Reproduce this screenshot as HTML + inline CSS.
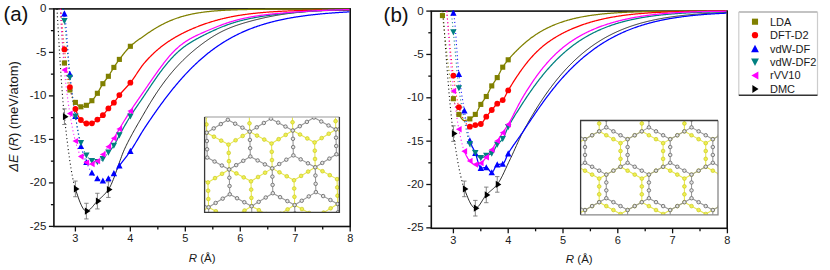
<!DOCTYPE html><html><head><meta charset="utf-8"><style>html,body{margin:0;padding:0;background:#fff;overflow:hidden}svg{display:block}</style></head><body><svg width="830" height="270" viewBox="0 0 830 270" font-family='"Liberation Sans", sans-serif'>
<rect width="830" height="270" fill="#fff"/>
<line x1="48.9" y1="8.9" x2="53.9" y2="8.9" stroke="#111" stroke-width="1.3"/>
<text x="46.3" y="12.4" text-anchor="end" font-size="11.5" fill="#1a1a1a">0</text>
<line x1="48.9" y1="52.4" x2="53.9" y2="52.4" stroke="#111" stroke-width="1.3"/>
<text x="46.3" y="55.9" text-anchor="end" font-size="11.5" fill="#1a1a1a">-5</text>
<line x1="48.9" y1="95.9" x2="53.9" y2="95.9" stroke="#111" stroke-width="1.3"/>
<text x="46.3" y="99.4" text-anchor="end" font-size="11.5" fill="#1a1a1a">-10</text>
<line x1="48.9" y1="139.4" x2="53.9" y2="139.4" stroke="#111" stroke-width="1.3"/>
<text x="46.3" y="142.9" text-anchor="end" font-size="11.5" fill="#1a1a1a">-15</text>
<line x1="48.9" y1="182.9" x2="53.9" y2="182.9" stroke="#111" stroke-width="1.3"/>
<text x="46.3" y="186.4" text-anchor="end" font-size="11.5" fill="#1a1a1a">-20</text>
<line x1="48.9" y1="226.4" x2="53.9" y2="226.4" stroke="#111" stroke-width="1.3"/>
<text x="46.3" y="229.9" text-anchor="end" font-size="11.5" fill="#1a1a1a">-25</text>
<line x1="50.9" y1="30.65" x2="53.9" y2="30.65" stroke="#111" stroke-width="1.3"/>
<line x1="50.9" y1="74.15" x2="53.9" y2="74.15" stroke="#111" stroke-width="1.3"/>
<line x1="50.9" y1="117.65" x2="53.9" y2="117.65" stroke="#111" stroke-width="1.3"/>
<line x1="50.9" y1="161.15" x2="53.9" y2="161.15" stroke="#111" stroke-width="1.3"/>
<line x1="50.9" y1="204.65" x2="53.9" y2="204.65" stroke="#111" stroke-width="1.3"/>
<line x1="75.4" y1="226.5" x2="75.4" y2="231.5" stroke="#111" stroke-width="1.3"/>
<text x="75.4" y="242" text-anchor="middle" font-size="11" fill="#1a1a1a">3</text>
<line x1="130.36" y1="226.5" x2="130.36" y2="231.5" stroke="#111" stroke-width="1.3"/>
<text x="130.36" y="242" text-anchor="middle" font-size="11" fill="#1a1a1a">4</text>
<line x1="185.32" y1="226.5" x2="185.32" y2="231.5" stroke="#111" stroke-width="1.3"/>
<text x="185.32" y="242" text-anchor="middle" font-size="11" fill="#1a1a1a">5</text>
<line x1="240.28" y1="226.5" x2="240.28" y2="231.5" stroke="#111" stroke-width="1.3"/>
<text x="240.28" y="242" text-anchor="middle" font-size="11" fill="#1a1a1a">6</text>
<line x1="295.24" y1="226.5" x2="295.24" y2="231.5" stroke="#111" stroke-width="1.3"/>
<text x="295.24" y="242" text-anchor="middle" font-size="11" fill="#1a1a1a">7</text>
<line x1="350.2" y1="226.5" x2="350.2" y2="231.5" stroke="#111" stroke-width="1.3"/>
<text x="350.2" y="242" text-anchor="middle" font-size="11" fill="#1a1a1a">8</text>
<line x1="102.88" y1="226.5" x2="102.88" y2="229.5" stroke="#111" stroke-width="1.3"/>
<line x1="157.84" y1="226.5" x2="157.84" y2="229.5" stroke="#111" stroke-width="1.3"/>
<line x1="212.8" y1="226.5" x2="212.8" y2="229.5" stroke="#111" stroke-width="1.3"/>
<line x1="267.76" y1="226.5" x2="267.76" y2="229.5" stroke="#111" stroke-width="1.3"/>
<line x1="322.72" y1="226.5" x2="322.72" y2="229.5" stroke="#111" stroke-width="1.3"/>
<rect x="53.9" y="8.9" width="296.3" height="217.6" fill="none" stroke="#111" stroke-width="1.6"/>
<text x="202.05" y="261.5" text-anchor="middle" font-size="11.5" fill="#1a1a1a"><tspan font-style="italic">R</tspan> (Å)</text>
<line x1="426.3" y1="11.1" x2="431.3" y2="11.1" stroke="#111" stroke-width="1.3"/>
<text x="423.7" y="14.6" text-anchor="end" font-size="11.5" fill="#1a1a1a">0</text>
<line x1="426.3" y1="54.45" x2="431.3" y2="54.45" stroke="#111" stroke-width="1.3"/>
<text x="423.7" y="57.95" text-anchor="end" font-size="11.5" fill="#1a1a1a">-5</text>
<line x1="426.3" y1="97.8" x2="431.3" y2="97.8" stroke="#111" stroke-width="1.3"/>
<text x="423.7" y="101.3" text-anchor="end" font-size="11.5" fill="#1a1a1a">-10</text>
<line x1="426.3" y1="141.15" x2="431.3" y2="141.15" stroke="#111" stroke-width="1.3"/>
<text x="423.7" y="144.65" text-anchor="end" font-size="11.5" fill="#1a1a1a">-15</text>
<line x1="426.3" y1="184.5" x2="431.3" y2="184.5" stroke="#111" stroke-width="1.3"/>
<text x="423.7" y="188" text-anchor="end" font-size="11.5" fill="#1a1a1a">-20</text>
<line x1="426.3" y1="227.85" x2="431.3" y2="227.85" stroke="#111" stroke-width="1.3"/>
<text x="423.7" y="231.35" text-anchor="end" font-size="11.5" fill="#1a1a1a">-25</text>
<line x1="428.3" y1="32.77" x2="431.3" y2="32.77" stroke="#111" stroke-width="1.3"/>
<line x1="428.3" y1="76.12" x2="431.3" y2="76.12" stroke="#111" stroke-width="1.3"/>
<line x1="428.3" y1="119.47" x2="431.3" y2="119.47" stroke="#111" stroke-width="1.3"/>
<line x1="428.3" y1="162.82" x2="431.3" y2="162.82" stroke="#111" stroke-width="1.3"/>
<line x1="428.3" y1="206.17" x2="431.3" y2="206.17" stroke="#111" stroke-width="1.3"/>
<line x1="453.4" y1="228.3" x2="453.4" y2="233.3" stroke="#111" stroke-width="1.3"/>
<text x="453.4" y="243.8" text-anchor="middle" font-size="11" fill="#1a1a1a">3</text>
<line x1="508.2" y1="228.3" x2="508.2" y2="233.3" stroke="#111" stroke-width="1.3"/>
<text x="508.2" y="243.8" text-anchor="middle" font-size="11" fill="#1a1a1a">4</text>
<line x1="563" y1="228.3" x2="563" y2="233.3" stroke="#111" stroke-width="1.3"/>
<text x="563" y="243.8" text-anchor="middle" font-size="11" fill="#1a1a1a">5</text>
<line x1="617.8" y1="228.3" x2="617.8" y2="233.3" stroke="#111" stroke-width="1.3"/>
<text x="617.8" y="243.8" text-anchor="middle" font-size="11" fill="#1a1a1a">6</text>
<line x1="672.6" y1="228.3" x2="672.6" y2="233.3" stroke="#111" stroke-width="1.3"/>
<text x="672.6" y="243.8" text-anchor="middle" font-size="11" fill="#1a1a1a">7</text>
<line x1="727.4" y1="228.3" x2="727.4" y2="233.3" stroke="#111" stroke-width="1.3"/>
<text x="727.4" y="243.8" text-anchor="middle" font-size="11" fill="#1a1a1a">8</text>
<line x1="480.8" y1="228.3" x2="480.8" y2="231.3" stroke="#111" stroke-width="1.3"/>
<line x1="535.6" y1="228.3" x2="535.6" y2="231.3" stroke="#111" stroke-width="1.3"/>
<line x1="590.4" y1="228.3" x2="590.4" y2="231.3" stroke="#111" stroke-width="1.3"/>
<line x1="645.2" y1="228.3" x2="645.2" y2="231.3" stroke="#111" stroke-width="1.3"/>
<line x1="700" y1="228.3" x2="700" y2="231.3" stroke="#111" stroke-width="1.3"/>
<rect x="431.3" y="11.1" width="295.9" height="217.2" fill="none" stroke="#111" stroke-width="1.6"/>
<text x="579.25" y="263.3" text-anchor="middle" font-size="11.5" fill="#1a1a1a"><tspan font-style="italic">R</tspan> (Å)</text>
<clipPath id="ca"><rect x="54.7" y="7.9" width="294.7" height="217.8"/></clipPath>
<g clip-path="url(#ca)">
<path d="M75.4,102.4 L76.09,103.21 L76.78,104 L77.47,104.75 L78.15,105.42 L78.84,105.99 L79.53,106.42 L80.22,106.7 L80.91,106.8 L81.6,106.76 L82.29,106.67 L82.98,106.52 L83.66,106.33 L84.35,106.1 L85.04,105.84 L85.73,105.57 L86.42,105.29 L87.11,104.95 L87.8,104.51 L88.49,103.99 L89.17,103.4 L89.86,102.75 L90.55,102.07 L91.24,101.37 L91.93,100.66 L92.62,99.9 L93.31,99.08 L94,98.2 L94.68,97.27 L95.37,96.3 L96.06,95.29 L96.75,94.26 L97.44,93.22 L98.13,92.11 L98.82,90.91 L99.51,89.66 L100.19,88.38 L100.88,87.11 L101.57,85.87 L102.26,84.69 L102.95,83.6 L103.64,82.59 L104.33,81.65 L105.02,80.75 L105.7,79.87 L106.39,78.99 L107.08,78.1 L107.77,77.17 L108.46,76.18 L109.15,75.13 L109.84,74.03 L110.52,72.89 L111.21,71.74 L111.9,70.59 L112.59,69.44 L113.28,68.33 L113.97,67.25 L114.66,66.2 L115.35,65.16 L116.03,64.12 L116.72,63.11 L117.41,62.11 L118.1,61.13 L118.79,60.18 L119.48,59.25 L120.17,58.34 L120.86,57.43 L121.54,56.53 L122.23,55.64 L122.92,54.75 L123.61,53.87 L124.3,53.01 L124.99,52.16 L125.68,51.33 L126.37,50.52 L127.05,49.73 L127.74,48.97 L128.43,48.23 L129.12,47.51 L129.81,46.83 L130.5,46.17 L131.19,45.54 L131.88,44.93 L132.56,44.34 L133.25,43.76 L133.94,43.2 L134.63,42.65 L135.32,42.12 L136.01,41.6 L136.7,41.09 L137.38,40.58 L138.07,40.09 L138.76,39.6 L139.45,39.11 L140.14,38.63 L140.83,38.15 L141.52,37.67 L142.21,37.19 L142.89,36.7 L143.58,36.22 L144.27,35.73 L144.96,35.24 L145.65,34.75 L146.34,34.26 L147.03,33.78 L147.72,33.3 L148.4,32.83 L149.09,32.36 L149.78,31.9 L150.47,31.44 L151.16,30.99 L151.85,30.55 L152.54,30.11 L153.23,29.68 L153.91,29.25 L154.6,28.83 L155.29,28.41 L155.98,27.99 L156.67,27.58 L157.36,27.18 L158.05,26.78 L158.74,26.39 L159.42,26.01 L160.11,25.63 L160.8,25.26 L161.49,24.9 L162.18,24.54 L162.87,24.18 L163.56,23.83 L164.25,23.48 L164.93,23.14 L165.62,22.81 L166.31,22.48 L167,22.16 L167.69,21.85 L168.38,21.54 L169.07,21.24 L169.75,20.94 L170.44,20.65 L171.13,20.36 L171.82,20.08 L172.51,19.81 L173.2,19.53 L173.89,19.27 L174.58,19.01 L175.26,18.75 L175.95,18.51 L176.64,18.26 L177.33,18.03 L178.02,17.8 L178.71,17.57 L179.4,17.35 L180.09,17.13 L180.77,16.92 L181.46,16.71 L182.15,16.5 L182.84,16.3 L183.53,16.11 L184.22,15.92 L184.91,15.74 L185.6,15.56 L186.28,15.38 L186.97,15.21 L187.66,15.04 L188.35,14.88 L189.04,14.72 L189.73,14.56 L190.42,14.41 L191.11,14.26 L191.79,14.11 L192.48,13.97 L193.17,13.84 L193.86,13.7 L194.55,13.57 L195.24,13.45 L195.93,13.32 L196.62,13.2 L197.3,13.09 L197.99,12.97 L198.68,12.86 L199.37,12.75 L200.06,12.64 L200.75,12.54 L201.44,12.44 L202.12,12.34 L202.81,12.25 L203.5,12.16 L204.19,12.07 L204.88,11.98 L205.57,11.9 L206.26,11.81 L206.95,11.73 L207.63,11.66 L208.32,11.58 L209.01,11.51 L209.7,11.43 L210.39,11.37 L211.08,11.3 L211.77,11.23 L212.46,11.17 L213.14,11.11 L213.83,11.05 L214.52,10.99 L215.21,10.93 L215.9,10.87 L216.59,10.82 L217.28,10.77 L217.97,10.72 L218.65,10.67 L219.34,10.62 L220.03,10.57 L220.72,10.53 L221.41,10.48 L222.1,10.44 L222.79,10.4 L223.48,10.36 L224.16,10.32 L224.85,10.28 L225.54,10.25 L226.23,10.21 L226.92,10.18 L227.61,10.14 L228.3,10.11 L228.98,10.08 L229.67,10.05 L230.36,10.02 L231.05,9.99 L231.74,9.96 L232.43,9.93 L233.12,9.9 L233.81,9.88 L234.49,9.85 L235.18,9.83 L235.87,9.81 L236.56,9.78 L237.25,9.76 L237.94,9.74 L238.63,9.72 L239.32,9.7 L240,9.68 L240.69,9.66 L241.38,9.64 L242.07,9.62 L242.76,9.6 L243.45,9.59 L244.14,9.57 L244.83,9.56 L245.51,9.54 L246.2,9.52 L246.89,9.51 L247.58,9.5 L248.27,9.48 L248.96,9.47 L249.65,9.46 L250.34,9.44 L251.02,9.43 L251.71,9.42 L252.4,9.41 L253.09,9.4 L253.78,9.39 L254.47,9.37 L255.16,9.36 L255.85,9.35 L256.53,9.34 L257.22,9.33 L257.91,9.33 L258.6,9.32 L259.29,9.31 L259.98,9.3 L260.67,9.29 L261.35,9.28 L262.04,9.28 L262.73,9.27 L263.42,9.26 L264.11,9.25 L264.8,9.25 L265.49,9.24 L266.18,9.24 L266.86,9.23 L267.55,9.22 L268.24,9.22 L268.93,9.21 L269.62,9.21 L270.31,9.2 L271,9.2 L271.69,9.19 L272.37,9.19 L273.06,9.18 L273.75,9.18 L274.44,9.17 L275.13,9.17 L275.82,9.16 L276.51,9.16 L277.2,9.16 L277.88,9.15 L278.57,9.15 L279.26,9.14 L279.95,9.14 L280.64,9.14 L281.33,9.13 L282.02,9.13 L282.71,9.13 L283.39,9.13 L284.08,9.12 L284.77,9.12 L285.46,9.12 L286.15,9.11 L286.84,9.11 L287.53,9.11 L288.22,9.11 L288.9,9.11 L289.59,9.1 L290.28,9.1 L290.97,9.1 L291.66,9.1 L292.35,9.1 L293.04,9.09 L293.72,9.09 L294.41,9.09 L295.1,9.09 L295.79,9.09 L296.48,9.09 L297.17,9.08 L297.86,9.08 L298.55,9.08 L299.23,9.08 L299.92,9.08 L300.61,9.08 L301.3,9.08 L301.99,9.08 L302.68,9.08 L303.37,9.08 L304.06,9.08 L304.74,9.07 L305.43,9.07 L306.12,9.07 L306.81,9.07 L307.5,9.07 L308.19,9.07 L308.88,9.07 L309.57,9.07 L310.25,9.07 L310.94,9.07 L311.63,9.07 L312.32,9.07 L313.01,9.07 L313.7,9.07 L314.39,9.07 L315.08,9.07 L315.76,9.07 L316.45,9.07 L317.14,9.08 L317.83,9.08 L318.52,9.08 L319.21,9.08 L319.9,9.08 L320.58,9.08 L321.27,9.08 L321.96,9.08 L322.65,9.08 L323.34,9.08 L324.03,9.08 L324.72,9.09 L325.41,9.09 L326.09,9.09 L326.78,9.09 L327.47,9.09 L328.16,9.09 L328.85,9.1 L329.54,9.1 L330.23,9.1 L330.92,9.1 L331.6,9.11 L332.29,9.11 L332.98,9.11 L333.67,9.11 L334.36,9.12 L335.05,9.12 L335.74,9.12 L336.43,9.13 L337.11,9.13 L337.8,9.13 L338.49,9.14 L339.18,9.14 L339.87,9.15 L340.56,9.15 L341.25,9.15 L341.94,9.16 L342.62,9.16 L343.31,9.17 L344,9.18 L344.69,9.18 L345.38,9.19 L346.07,9.19 L346.76,9.2 L347.45,9.21 L348.13,9.21 L348.82,9.22 L349.51,9.23 L350.2,9.24" fill="none" stroke="#808000" stroke-width="1.25"/>
<path d="M60.29,8.9 L60.41,11.01 L60.54,13.11 L60.67,15.19 L60.79,17.26 L60.92,19.32 L61.05,21.35 L61.18,23.37 L61.3,25.36 L61.43,27.34 L61.56,29.28 L61.68,31.21 L61.81,33.1 L61.94,34.96 L62.06,36.8 L62.19,38.6 L62.32,40.36 L62.45,42.09 L62.57,43.79 L62.7,45.44 L62.83,47.05 L62.95,48.62 L63.08,50.14 L63.21,51.62 L63.33,53.05 L63.46,54.43 L63.59,55.76 L63.72,57.04 L63.84,58.26 L63.97,59.43 L64.1,60.53 L64.22,61.58 L64.35,62.57 L64.48,63.5 L64.6,64.41 L64.73,65.31 L64.86,66.18 L64.99,67.04 L65.11,67.89 L65.24,68.71 L65.37,69.52 L65.49,70.32 L65.62,71.1 L65.75,71.86 L65.87,72.61 L66,73.35 L66.13,74.07 L66.26,74.78 L66.38,75.47 L66.51,76.15 L66.64,76.81 L66.76,77.46 L66.89,78.1 L67.02,78.73 L67.14,79.34 L67.27,79.94 L67.4,80.53 L67.53,81.11 L67.65,81.67 L67.78,82.23 L67.91,82.77 L68.03,83.3 L68.16,83.82 L68.29,84.33 L68.41,84.83 L68.54,85.32 L68.67,85.8 L68.8,86.27 L68.92,86.73 L69.05,87.18 L69.18,87.62 L69.3,88.06 L69.43,88.48 L69.56,88.9 L69.68,89.31 L69.81,89.71 L69.94,90.11 L70.07,90.5 L70.19,90.88 L70.32,91.27 L70.45,91.64 L70.57,92.02 L70.7,92.39 L70.83,92.76 L70.95,93.12 L71.08,93.48 L71.21,93.83 L71.34,94.18 L71.46,94.53 L71.59,94.87 L71.72,95.2 L71.84,95.53 L71.97,95.86 L72.1,96.18 L72.22,96.49 L72.35,96.8 L72.48,97.11 L72.61,97.41 L72.73,97.7 L72.86,97.99 L72.99,98.27 L73.11,98.54 L73.24,98.81 L73.37,99.08 L73.49,99.34 L73.62,99.59 L73.75,99.83 L73.88,100.07 L74,100.3 L74.13,100.53 L74.26,100.75 L74.38,100.96 L74.51,101.17 L74.64,101.36 L74.76,101.56 L74.89,101.74 L75.02,101.92 L75.15,102.08 L75.27,102.25 L75.4,102.4" fill="none" stroke="#808000" stroke-width="1.1" stroke-dasharray="1.1 2.6" opacity="0.9"/>
<path d="M75.4,109 L76.09,110.81 L76.78,112.54 L77.47,114.17 L78.15,115.68 L78.84,117.04 L79.53,118.24 L80.22,119.23 L80.91,120.01 L81.6,120.67 L82.29,121.31 L82.98,121.9 L83.66,122.43 L84.35,122.87 L85.04,123.21 L85.73,123.43 L86.42,123.5 L87.11,123.5 L87.8,123.49 L88.49,123.47 L89.17,123.45 L89.86,123.42 L90.55,123.38 L91.24,123.34 L91.93,123.3 L92.62,123.15 L93.31,122.83 L94,122.39 L94.68,121.87 L95.37,121.28 L96.06,120.68 L96.75,120.09 L97.44,119.56 L98.13,119.06 L98.82,118.55 L99.51,118.04 L100.19,117.52 L100.88,116.97 L101.57,116.39 L102.26,115.78 L102.95,115.13 L103.64,114.4 L104.33,113.59 L105.02,112.71 L105.7,111.81 L106.39,110.89 L107.08,109.98 L107.77,109.11 L108.46,108.31 L109.15,107.56 L109.84,106.86 L110.52,106.17 L111.21,105.5 L111.9,104.82 L112.59,104.12 L113.28,103.38 L113.97,102.58 L114.66,101.72 L115.35,100.78 L116.03,99.8 L116.72,98.8 L117.41,97.79 L118.1,96.8 L118.79,95.85 L119.48,94.96 L120.17,94.12 L120.86,93.3 L121.54,92.51 L122.23,91.73 L122.92,90.98 L123.61,90.23 L124.3,89.49 L124.99,88.76 L125.68,88.02 L126.37,87.28 L127.05,86.53 L127.74,85.77 L128.43,85 L129.12,84.2 L129.81,83.38 L130.5,82.53 L131.19,81.64 L131.88,80.73 L132.56,79.78 L133.25,78.81 L133.94,77.82 L134.63,76.81 L135.32,75.79 L136.01,74.76 L136.7,73.73 L137.38,72.69 L138.07,71.66 L138.76,70.63 L139.45,69.61 L140.14,68.61 L140.83,67.62 L141.52,66.66 L142.21,65.72 L142.89,64.82 L143.58,63.94 L144.27,63.11 L144.96,62.29 L145.65,61.5 L146.34,60.72 L147.03,59.96 L147.72,59.22 L148.4,58.49 L149.09,57.77 L149.78,57.07 L150.47,56.37 L151.16,55.69 L151.85,55.02 L152.54,54.35 L153.23,53.69 L153.91,53.05 L154.6,52.41 L155.29,51.78 L155.98,51.16 L156.67,50.56 L157.36,49.96 L158.05,49.37 L158.74,48.79 L159.42,48.22 L160.11,47.66 L160.8,47.11 L161.49,46.57 L162.18,46.03 L162.87,45.51 L163.56,44.99 L164.25,44.48 L164.93,43.98 L165.62,43.49 L166.31,43.01 L167,42.53 L167.69,42.06 L168.38,41.59 L169.07,41.13 L169.75,40.68 L170.44,40.24 L171.13,39.8 L171.82,39.37 L172.51,38.94 L173.2,38.52 L173.89,38.11 L174.58,37.7 L175.26,37.29 L175.95,36.9 L176.64,36.5 L177.33,36.12 L178.02,35.74 L178.71,35.36 L179.4,34.99 L180.09,34.62 L180.77,34.25 L181.46,33.9 L182.15,33.54 L182.84,33.19 L183.53,32.85 L184.22,32.51 L184.91,32.17 L185.6,31.84 L186.28,31.51 L186.97,31.18 L187.66,30.86 L188.35,30.55 L189.04,30.23 L189.73,29.92 L190.42,29.62 L191.11,29.31 L191.79,29.02 L192.48,28.72 L193.17,28.43 L193.86,28.14 L194.55,27.85 L195.24,27.57 L195.93,27.29 L196.62,27.01 L197.3,26.74 L197.99,26.47 L198.68,26.2 L199.37,25.94 L200.06,25.68 L200.75,25.42 L201.44,25.16 L202.12,24.91 L202.81,24.66 L203.5,24.42 L204.19,24.17 L204.88,23.93 L205.57,23.69 L206.26,23.46 L206.95,23.23 L207.63,23 L208.32,22.77 L209.01,22.55 L209.7,22.33 L210.39,22.11 L211.08,21.9 L211.77,21.68 L212.46,21.48 L213.14,21.27 L213.83,21.07 L214.52,20.86 L215.21,20.67 L215.9,20.47 L216.59,20.28 L217.28,20.09 L217.97,19.9 L218.65,19.72 L219.34,19.54 L220.03,19.36 L220.72,19.19 L221.41,19.01 L222.1,18.84 L222.79,18.67 L223.48,18.51 L224.16,18.35 L224.85,18.19 L225.54,18.03 L226.23,17.87 L226.92,17.72 L227.61,17.57 L228.3,17.42 L228.98,17.28 L229.67,17.13 L230.36,16.99 L231.05,16.85 L231.74,16.72 L232.43,16.58 L233.12,16.45 L233.81,16.32 L234.49,16.2 L235.18,16.07 L235.87,15.95 L236.56,15.83 L237.25,15.71 L237.94,15.59 L238.63,15.48 L239.32,15.36 L240,15.25 L240.69,15.14 L241.38,15.04 L242.07,14.93 L242.76,14.83 L243.45,14.73 L244.14,14.63 L244.83,14.53 L245.51,14.44 L246.2,14.34 L246.89,14.25 L247.58,14.16 L248.27,14.07 L248.96,13.98 L249.65,13.89 L250.34,13.81 L251.02,13.73 L251.71,13.64 L252.4,13.57 L253.09,13.49 L253.78,13.41 L254.47,13.33 L255.16,13.26 L255.85,13.19 L256.53,13.12 L257.22,13.04 L257.91,12.98 L258.6,12.91 L259.29,12.84 L259.98,12.78 L260.67,12.71 L261.35,12.65 L262.04,12.59 L262.73,12.53 L263.42,12.47 L264.11,12.41 L264.8,12.36 L265.49,12.3 L266.18,12.25 L266.86,12.19 L267.55,12.14 L268.24,12.09 L268.93,12.04 L269.62,11.99 L270.31,11.94 L271,11.89 L271.69,11.85 L272.37,11.8 L273.06,11.76 L273.75,11.71 L274.44,11.67 L275.13,11.63 L275.82,11.59 L276.51,11.54 L277.2,11.51 L277.88,11.47 L278.57,11.43 L279.26,11.39 L279.95,11.35 L280.64,11.32 L281.33,11.28 L282.02,11.25 L282.71,11.21 L283.39,11.18 L284.08,11.15 L284.77,11.12 L285.46,11.09 L286.15,11.06 L286.84,11.03 L287.53,11 L288.22,10.97 L288.9,10.94 L289.59,10.91 L290.28,10.88 L290.97,10.86 L291.66,10.83 L292.35,10.81 L293.04,10.78 L293.72,10.76 L294.41,10.73 L295.1,10.71 L295.79,10.69 L296.48,10.67 L297.17,10.64 L297.86,10.62 L298.55,10.6 L299.23,10.58 L299.92,10.56 L300.61,10.54 L301.3,10.52 L301.99,10.5 L302.68,10.48 L303.37,10.47 L304.06,10.45 L304.74,10.43 L305.43,10.41 L306.12,10.4 L306.81,10.38 L307.5,10.37 L308.19,10.35 L308.88,10.34 L309.57,10.32 L310.25,10.31 L310.94,10.29 L311.63,10.28 L312.32,10.27 L313.01,10.25 L313.7,10.24 L314.39,10.23 L315.08,10.22 L315.76,10.2 L316.45,10.19 L317.14,10.18 L317.83,10.17 L318.52,10.16 L319.21,10.15 L319.9,10.14 L320.58,10.13 L321.27,10.12 L321.96,10.11 L322.65,10.1 L323.34,10.09 L324.03,10.08 L324.72,10.08 L325.41,10.07 L326.09,10.06 L326.78,10.05 L327.47,10.05 L328.16,10.04 L328.85,10.03 L329.54,10.02 L330.23,10.02 L330.92,10.01 L331.6,10.01 L332.29,10 L332.98,10 L333.67,9.99 L334.36,9.99 L335.05,9.98 L335.74,9.98 L336.43,9.97 L337.11,9.97 L337.8,9.96 L338.49,9.96 L339.18,9.96 L339.87,9.95 L340.56,9.95 L341.25,9.95 L341.94,9.94 L342.62,9.94 L343.31,9.94 L344,9.94 L344.69,9.94 L345.38,9.93 L346.07,9.93 L346.76,9.93 L347.45,9.93 L348.13,9.93 L348.82,9.93 L349.51,9.93 L350.2,9.93" fill="none" stroke="#ff0000" stroke-width="1.25"/>
<path d="M60.84,8.9 L60.96,10.5 L61.08,12.09 L61.2,13.67 L61.33,15.25 L61.45,16.81 L61.57,18.36 L61.69,19.9 L61.81,21.42 L61.94,22.94 L62.06,24.44 L62.18,25.92 L62.3,27.39 L62.43,28.84 L62.55,30.27 L62.67,31.69 L62.79,33.09 L62.92,34.46 L63.04,35.82 L63.16,37.16 L63.28,38.47 L63.41,39.76 L63.53,41.03 L63.65,42.28 L63.77,43.5 L63.9,44.69 L64.02,45.86 L64.14,47 L64.26,48.11 L64.38,49.2 L64.51,50.26 L64.63,51.31 L64.75,52.35 L64.87,53.38 L65,54.41 L65.12,55.42 L65.24,56.42 L65.36,57.41 L65.49,58.39 L65.61,59.36 L65.73,60.32 L65.85,61.27 L65.98,62.21 L66.1,63.14 L66.22,64.06 L66.34,64.97 L66.47,65.87 L66.59,66.76 L66.71,67.64 L66.83,68.51 L66.96,69.37 L67.08,70.22 L67.2,71.06 L67.32,71.89 L67.44,72.71 L67.57,73.52 L67.69,74.32 L67.81,75.12 L67.93,75.9 L68.06,76.67 L68.18,77.43 L68.3,78.18 L68.42,78.92 L68.55,79.65 L68.67,80.37 L68.79,81.08 L68.91,81.78 L69.04,82.48 L69.16,83.16 L69.28,83.83 L69.4,84.49 L69.53,85.14 L69.65,85.79 L69.77,86.42 L69.89,87.04 L70.01,87.66 L70.14,88.27 L70.26,88.87 L70.38,89.48 L70.5,90.07 L70.63,90.67 L70.75,91.25 L70.87,91.83 L70.99,92.41 L71.12,92.98 L71.24,93.55 L71.36,94.11 L71.48,94.67 L71.61,95.22 L71.73,95.76 L71.85,96.3 L71.97,96.84 L72.1,97.36 L72.22,97.88 L72.34,98.4 L72.46,98.91 L72.59,99.41 L72.71,99.91 L72.83,100.4 L72.95,100.88 L73.07,101.36 L73.2,101.82 L73.32,102.29 L73.44,102.74 L73.56,103.19 L73.69,103.63 L73.81,104.07 L73.93,104.49 L74.05,104.91 L74.18,105.32 L74.3,105.73 L74.42,106.12 L74.54,106.51 L74.67,106.89 L74.79,107.26 L74.91,107.63 L75.03,107.98 L75.16,108.33 L75.28,108.67 L75.4,109" fill="none" stroke="#ff0000" stroke-width="1.1" stroke-dasharray="1.1 2.6" opacity="0.9"/>
<path d="M75.4,188.9 L76.09,191.02 L76.78,193.11 L77.47,195.17 L78.15,197.16 L78.84,199.09 L79.53,200.93 L80.22,202.66 L80.91,204.28 L81.6,205.76 L82.29,207.09 L82.98,208.26 L83.66,209.25 L84.35,210.04 L85.04,210.63 L85.73,210.98 L86.42,211.1 L87.11,211.02 L87.8,210.8 L88.49,210.46 L89.17,210.01 L89.86,209.47 L90.55,208.84 L91.24,208.14 L91.93,207.39 L92.62,206.6 L93.31,205.78 L94,204.94 L94.68,204.11 L95.37,203.29 L96.06,202.5 L96.75,201.74 L97.44,201.05 L98.13,200.39 L98.82,199.74 L99.51,199.11 L100.19,198.48 L100.88,197.85 L101.57,197.22 L102.26,196.58 L102.95,195.92 L103.64,195.24 L104.33,194.53 L105.02,193.8 L105.7,193.03 L106.39,192.21 L107.08,191.36 L107.77,190.45 L108.46,189.48 L109.15,188.41 L109.84,187.2 L110.52,185.87 L111.21,184.44 L111.9,182.9 L112.59,181.27 L113.28,179.56 L113.97,177.78 L114.66,175.94 L115.35,174.05 L116.03,172.12 L116.72,170.16 L117.41,168.19 L118.1,166.2 L118.79,164.22 L119.48,162.24 L120.17,160.29 L120.86,158.38 L121.54,156.5 L122.23,154.68 L122.92,152.92 L123.61,151.24 L124.3,149.63 L124.99,148.13 L125.68,146.68 L126.37,145.26 L127.05,143.86 L127.74,142.49 L128.43,141.13 L129.12,139.79 L129.81,138.47 L130.5,137.17 L131.19,135.88 L131.88,134.61 L132.56,133.35 L133.25,132.11 L133.94,130.88 L134.63,129.65 L135.32,128.44 L136.01,127.23 L136.7,126.03 L137.38,124.84 L138.07,123.65 L138.76,122.47 L139.45,121.29 L140.14,120.11 L140.83,118.93 L141.52,117.75 L142.21,116.56 L142.89,115.38 L143.58,114.19 L144.27,112.99 L144.96,111.8 L145.65,110.61 L146.34,109.43 L147.03,108.25 L147.72,107.09 L148.4,105.92 L149.09,104.77 L149.78,103.63 L150.47,102.5 L151.16,101.38 L151.85,100.27 L152.54,99.17 L153.23,98.08 L153.91,97 L154.6,95.93 L155.29,94.87 L155.98,93.82 L156.67,92.77 L157.36,91.74 L158.05,90.72 L158.74,89.71 L159.42,88.7 L160.11,87.72 L160.8,86.74 L161.49,85.77 L162.18,84.81 L162.87,83.86 L163.56,82.92 L164.25,81.99 L164.93,81.07 L165.62,80.16 L166.31,79.25 L167,78.36 L167.69,77.48 L168.38,76.61 L169.07,75.76 L169.75,74.91 L170.44,74.07 L171.13,73.24 L171.82,72.42 L172.51,71.61 L173.2,70.8 L173.89,70.01 L174.58,69.22 L175.26,68.45 L175.95,67.68 L176.64,66.92 L177.33,66.18 L178.02,65.44 L178.71,64.7 L179.4,63.98 L180.09,63.27 L180.77,62.56 L181.46,61.86 L182.15,61.17 L182.84,60.48 L183.53,59.81 L184.22,59.14 L184.91,58.47 L185.6,57.82 L186.28,57.17 L186.97,56.53 L187.66,55.89 L188.35,55.26 L189.04,54.64 L189.73,54.02 L190.42,53.41 L191.11,52.81 L191.79,52.21 L192.48,51.62 L193.17,51.04 L193.86,50.46 L194.55,49.88 L195.24,49.31 L195.93,48.75 L196.62,48.19 L197.3,47.64 L197.99,47.1 L198.68,46.56 L199.37,46.02 L200.06,45.49 L200.75,44.97 L201.44,44.45 L202.12,43.93 L202.81,43.42 L203.5,42.92 L204.19,42.42 L204.88,41.92 L205.57,41.43 L206.26,40.94 L206.95,40.46 L207.63,39.99 L208.32,39.52 L209.01,39.06 L209.7,38.6 L210.39,38.16 L211.08,37.71 L211.77,37.27 L212.46,36.84 L213.14,36.41 L213.83,35.98 L214.52,35.57 L215.21,35.15 L215.9,34.75 L216.59,34.35 L217.28,33.96 L217.97,33.57 L218.65,33.2 L219.34,32.83 L220.03,32.46 L220.72,32.1 L221.41,31.75 L222.1,31.4 L222.79,31.06 L223.48,30.72 L224.16,30.39 L224.85,30.07 L225.54,29.75 L226.23,29.44 L226.92,29.13 L227.61,28.83 L228.3,28.54 L228.98,28.25 L229.67,27.97 L230.36,27.69 L231.05,27.42 L231.74,27.15 L232.43,26.88 L233.12,26.62 L233.81,26.36 L234.49,26.11 L235.18,25.86 L235.87,25.62 L236.56,25.38 L237.25,25.15 L237.94,24.91 L238.63,24.69 L239.32,24.46 L240,24.24 L240.69,24.02 L241.38,23.8 L242.07,23.59 L242.76,23.38 L243.45,23.17 L244.14,22.96 L244.83,22.76 L245.51,22.56 L246.2,22.36 L246.89,22.16 L247.58,21.96 L248.27,21.77 L248.96,21.58 L249.65,21.39 L250.34,21.21 L251.02,21.02 L251.71,20.84 L252.4,20.66 L253.09,20.48 L253.78,20.3 L254.47,20.12 L255.16,19.94 L255.85,19.77 L256.53,19.6 L257.22,19.43 L257.91,19.26 L258.6,19.1 L259.29,18.93 L259.98,18.77 L260.67,18.61 L261.35,18.45 L262.04,18.29 L262.73,18.14 L263.42,17.98 L264.11,17.83 L264.8,17.68 L265.49,17.53 L266.18,17.38 L266.86,17.23 L267.55,17.09 L268.24,16.95 L268.93,16.81 L269.62,16.67 L270.31,16.53 L271,16.39 L271.69,16.26 L272.37,16.13 L273.06,16 L273.75,15.87 L274.44,15.74 L275.13,15.61 L275.82,15.49 L276.51,15.37 L277.2,15.25 L277.88,15.13 L278.57,15.01 L279.26,14.9 L279.95,14.78 L280.64,14.67 L281.33,14.56 L282.02,14.45 L282.71,14.34 L283.39,14.24 L284.08,14.14 L284.77,14.04 L285.46,13.94 L286.15,13.84 L286.84,13.75 L287.53,13.65 L288.22,13.56 L288.9,13.47 L289.59,13.38 L290.28,13.29 L290.97,13.2 L291.66,13.12 L292.35,13.04 L293.04,12.96 L293.72,12.88 L294.41,12.8 L295.1,12.73 L295.79,12.65 L296.48,12.58 L297.17,12.51 L297.86,12.44 L298.55,12.37 L299.23,12.3 L299.92,12.24 L300.61,12.18 L301.3,12.11 L301.99,12.05 L302.68,11.99 L303.37,11.94 L304.06,11.88 L304.74,11.82 L305.43,11.77 L306.12,11.71 L306.81,11.66 L307.5,11.61 L308.19,11.56 L308.88,11.51 L309.57,11.47 L310.25,11.42 L310.94,11.38 L311.63,11.33 L312.32,11.29 L313.01,11.25 L313.7,11.21 L314.39,11.17 L315.08,11.13 L315.76,11.09 L316.45,11.05 L317.14,11.02 L317.83,10.98 L318.52,10.95 L319.21,10.92 L319.9,10.88 L320.58,10.85 L321.27,10.82 L321.96,10.79 L322.65,10.76 L323.34,10.73 L324.03,10.71 L324.72,10.68 L325.41,10.65 L326.09,10.63 L326.78,10.6 L327.47,10.58 L328.16,10.56 L328.85,10.53 L329.54,10.51 L330.23,10.49 L330.92,10.47 L331.6,10.45 L332.29,10.43 L332.98,10.41 L333.67,10.39 L334.36,10.38 L335.05,10.36 L335.74,10.34 L336.43,10.33 L337.11,10.31 L337.8,10.3 L338.49,10.28 L339.18,10.27 L339.87,10.26 L340.56,10.24 L341.25,10.23 L341.94,10.22 L342.62,10.21 L343.31,10.2 L344,10.19 L344.69,10.18 L345.38,10.17 L346.07,10.16 L346.76,10.15 L347.45,10.14 L348.13,10.13 L348.82,10.13 L349.51,10.12 L350.2,10.12" fill="none" stroke="#000000" stroke-width="0.85"/>
<path d="M56.99,8.9 L57.14,11.64 L57.3,14.37 L57.45,17.1 L57.61,19.81 L57.76,22.51 L57.92,25.2 L58.07,27.88 L58.23,30.54 L58.38,33.19 L58.54,35.83 L58.69,38.45 L58.85,41.05 L59,43.64 L59.15,46.21 L59.31,48.76 L59.46,51.29 L59.62,53.79 L59.77,56.28 L59.93,58.74 L60.08,61.19 L60.24,63.6 L60.39,66 L60.55,68.36 L60.7,70.7 L60.86,73.01 L61.01,75.3 L61.17,77.55 L61.32,79.78 L61.48,81.98 L61.63,84.14 L61.78,86.27 L61.94,88.37 L62.09,90.43 L62.25,92.46 L62.4,94.46 L62.56,96.41 L62.71,98.34 L62.87,100.22 L63.02,102.06 L63.18,103.86 L63.33,105.63 L63.49,107.35 L63.64,109.03 L63.8,110.67 L63.95,112.26 L64.11,113.81 L64.26,115.31 L64.41,116.76 L64.57,118.19 L64.72,119.62 L64.88,121.03 L65.03,122.43 L65.19,123.83 L65.34,125.21 L65.5,126.59 L65.65,127.96 L65.81,129.32 L65.96,130.66 L66.12,132 L66.27,133.33 L66.43,134.65 L66.58,135.96 L66.74,137.25 L66.89,138.54 L67.05,139.82 L67.2,141.08 L67.35,142.34 L67.51,143.58 L67.66,144.81 L67.82,146.03 L67.97,147.24 L68.13,148.44 L68.28,149.62 L68.44,150.8 L68.59,151.96 L68.75,153.11 L68.9,154.24 L69.06,155.37 L69.21,156.48 L69.37,157.58 L69.52,158.66 L69.68,159.74 L69.83,160.8 L69.98,161.84 L70.14,162.87 L70.29,163.89 L70.45,164.9 L70.6,165.89 L70.76,166.86 L70.91,167.83 L71.07,168.78 L71.22,169.71 L71.38,170.63 L71.53,171.53 L71.69,172.42 L71.84,173.3 L72,174.15 L72.15,175 L72.31,175.83 L72.46,176.64 L72.62,177.43 L72.77,178.21 L72.92,178.98 L73.08,179.73 L73.23,180.46 L73.39,181.17 L73.54,181.87 L73.7,182.55 L73.85,183.22 L74.01,183.87 L74.16,184.5 L74.32,185.11 L74.47,185.7 L74.63,186.28 L74.78,186.84 L74.94,187.38 L75.09,187.91 L75.25,188.41 L75.4,188.9" fill="none" stroke="#000000" stroke-width="1.1" stroke-dasharray="1.1 2.6" opacity="0.9"/>
<path d="M116.62,169.62 L117.21,168.75 L117.79,167.87 L118.38,167.01 L118.96,166.16 L119.55,165.36 L120.13,164.57 L120.72,163.79 L121.3,163.03 L121.89,162.27 L122.47,161.51 L123.06,160.77 L123.64,160.02 L124.23,159.28 L124.82,158.53 L125.4,157.78 L125.99,157.03 L126.57,156.27 L127.16,155.51 L127.74,154.73 L128.33,153.94 L128.91,153.14 L129.5,152.33 L130.08,151.5 L130.67,150.65 L131.26,149.78 L131.84,148.89 L132.43,147.98 L133.01,147.06 L133.6,146.13 L134.18,145.18 L134.77,144.22 L135.35,143.26 L135.94,142.28 L136.52,141.3 L137.11,140.32 L137.69,139.33 L138.28,138.34 L138.87,137.35 L139.45,136.37 L140.04,135.38 L140.62,134.41 L141.21,133.44 L141.79,132.48 L142.38,131.53 L142.96,130.59 L143.55,129.66 L144.13,128.75 L144.72,127.85 L145.31,126.95 L145.89,126.07 L146.48,125.18 L147.06,124.31 L147.65,123.43 L148.23,122.57 L148.82,121.7 L149.4,120.84 L149.99,119.99 L150.57,119.13 L151.16,118.28 L151.74,117.43 L152.33,116.58 L152.92,115.73 L153.5,114.89 L154.09,114.05 L154.67,113.21 L155.26,112.37 L155.84,111.53 L156.43,110.7 L157.01,109.88 L157.6,109.05 L158.18,108.23 L158.77,107.41 L159.36,106.6 L159.94,105.79 L160.53,104.98 L161.11,104.18 L161.7,103.38 L162.28,102.59 L162.87,101.8 L163.45,101.01 L164.04,100.22 L164.62,99.44 L165.21,98.66 L165.79,97.89 L166.38,97.12 L166.97,96.35 L167.55,95.59 L168.14,94.84 L168.72,94.08 L169.31,93.34 L169.89,92.59 L170.48,91.85 L171.06,91.11 L171.65,90.38 L172.23,89.65 L172.82,88.93 L173.41,88.21 L173.99,87.49 L174.58,86.78 L175.16,86.07 L175.75,85.36 L176.33,84.66 L176.92,83.97 L177.5,83.28 L178.09,82.6 L178.67,81.91 L179.26,81.24 L179.84,80.56 L180.43,79.89 L181.02,79.23 L181.6,78.57 L182.19,77.91 L182.77,77.26 L183.36,76.61 L183.94,75.97 L184.53,75.33 L185.11,74.69 L185.7,74.07 L186.28,73.44 L186.87,72.82 L187.46,72.2 L188.04,71.59 L188.63,70.98 L189.21,70.38 L189.8,69.78 L190.38,69.18 L190.97,68.59 L191.55,68 L192.14,67.42 L192.72,66.84 L193.31,66.27 L193.89,65.7 L194.48,65.14 L195.07,64.58 L195.65,64.02 L196.24,63.47 L196.82,62.93 L197.41,62.38 L197.99,61.84 L198.58,61.31 L199.16,60.78 L199.75,60.25 L200.33,59.73 L200.92,59.21 L201.5,58.7 L202.09,58.19 L202.68,57.69 L203.26,57.19 L203.85,56.69 L204.43,56.2 L205.02,55.71 L205.6,55.22 L206.19,54.74 L206.77,54.27 L207.36,53.79 L207.94,53.33 L208.53,52.86 L209.12,52.4 L209.7,51.95 L210.29,51.5 L210.87,51.05 L211.46,50.6 L212.04,50.16 L212.63,49.73 L213.21,49.3 L213.8,48.87 L214.38,48.44 L214.97,48.02 L215.55,47.6 L216.14,47.19 L216.73,46.78 L217.31,46.37 L217.9,45.97 L218.48,45.58 L219.07,45.18 L219.65,44.79 L220.24,44.4 L220.82,44.02 L221.41,43.64 L221.99,43.26 L222.58,42.89 L223.17,42.52 L223.75,42.15 L224.34,41.79 L224.92,41.43 L225.51,41.08 L226.09,40.73 L226.68,40.38 L227.26,40.03 L227.85,39.69 L228.43,39.35 L229.02,39.02 L229.6,38.69 L230.19,38.36 L230.78,38.03 L231.36,37.71 L231.95,37.39 L232.53,37.07 L233.12,36.76 L233.7,36.45 L234.29,36.15 L234.87,35.84 L235.46,35.54 L236.04,35.25 L236.63,34.95 L237.22,34.66 L237.8,34.37 L238.39,34.09 L238.97,33.81 L239.56,33.53 L240.14,33.25 L240.73,32.98 L241.31,32.71 L241.9,32.44 L242.48,32.17 L243.07,31.91 L243.65,31.65 L244.24,31.4 L244.83,31.14 L245.41,30.89 L246,30.64 L246.58,30.39 L247.17,30.15 L247.75,29.91 L248.34,29.67 L248.92,29.43 L249.51,29.2 L250.09,28.97 L250.68,28.74 L251.27,28.52 L251.85,28.29 L252.44,28.07 L253.02,27.85 L253.61,27.64 L254.19,27.42 L254.78,27.21 L255.36,27 L255.95,26.8 L256.53,26.59 L257.12,26.39 L257.7,26.19 L258.29,25.99 L258.88,25.79 L259.46,25.6 L260.05,25.41 L260.63,25.22 L261.22,25.03 L261.8,24.85 L262.39,24.66 L262.97,24.48 L263.56,24.3 L264.14,24.13 L264.73,23.95 L265.32,23.78 L265.9,23.61 L266.49,23.44 L267.07,23.27 L267.66,23.11 L268.24,22.94 L268.83,22.78 L269.41,22.62 L270,22.46 L270.58,22.31 L271.17,22.15 L271.75,22 L272.34,21.85 L272.93,21.7 L273.51,21.55 L274.1,21.41 L274.68,21.26 L275.27,21.12 L275.85,20.98 L276.44,20.84 L277.02,20.7 L277.61,20.57 L278.19,20.43 L278.78,20.3 L279.36,20.17 L279.95,20.04 L280.54,19.91 L281.12,19.78 L281.71,19.66 L282.29,19.53 L282.88,19.41 L283.46,19.29 L284.05,19.17 L284.63,19.05 L285.22,18.94 L285.8,18.82 L286.39,18.71 L286.98,18.59 L287.56,18.48 L288.15,18.37 L288.73,18.26 L289.32,18.16 L289.9,18.05 L290.49,17.94 L291.07,17.84 L291.66,17.74 L292.24,17.64 L292.83,17.54 L293.41,17.44 L294,17.34 L294.59,17.24 L295.17,17.15 L295.76,17.05 L296.34,16.96 L296.93,16.87 L297.51,16.78 L298.1,16.69 L298.68,16.6 L299.27,16.51 L299.85,16.43 L300.44,16.34 L301.03,16.26 L301.61,16.17 L302.2,16.09 L302.78,16.01 L303.37,15.93 L303.95,15.85 L304.54,15.77 L305.12,15.69 L305.71,15.61 L306.29,15.54 L306.88,15.46 L307.46,15.39 L308.05,15.32 L308.64,15.24 L309.22,15.17 L309.81,15.1 L310.39,15.03 L310.98,14.96 L311.56,14.9 L312.15,14.83 L312.73,14.76 L313.32,14.7 L313.9,14.63 L314.49,14.57 L315.08,14.51 L315.66,14.44 L316.25,14.38 L316.83,14.32 L317.42,14.26 L318,14.2 L318.59,14.14 L319.17,14.08 L319.76,14.03 L320.34,13.97 L320.93,13.91 L321.51,13.86 L322.1,13.8 L322.69,13.75 L323.27,13.7 L323.86,13.64 L324.44,13.59 L325.03,13.54 L325.61,13.49 L326.2,13.44 L326.78,13.39 L327.37,13.34 L327.95,13.29 L328.54,13.25 L329.13,13.2 L329.71,13.15 L330.3,13.11 L330.88,13.06 L331.47,13.02 L332.05,12.97 L332.64,12.93 L333.22,12.89 L333.81,12.84 L334.39,12.8 L334.98,12.76 L335.56,12.72 L336.15,12.68 L336.74,12.64 L337.32,12.6 L337.91,12.56 L338.49,12.52 L339.08,12.48 L339.66,12.44 L340.25,12.41 L340.83,12.37 L341.42,12.33 L342,12.3 L342.59,12.26 L343.18,12.23 L343.76,12.19 L344.35,12.16 L344.93,12.13 L345.52,12.09 L346.1,12.06 L346.69,12.03 L347.27,11.99 L347.86,11.96 L348.44,11.93 L349.03,11.9 L349.61,11.87 L350.2,11.84" fill="none" stroke="#0000ff" stroke-width="1.25"/>
<path d="M62.76,8.9 L63.21,9.6 L63.66,10.8 L64.12,12.37 L64.57,14.22 L65.02,16.99 L65.47,20.72 L65.93,25.25 L66.38,30.41 L66.83,36.04 L67.29,41.97 L67.74,48.04 L68.19,54.09 L68.64,59.95 L69.1,65.46 L69.55,70.45 L70,74.77 L70.45,78.79 L70.91,82.7 L71.36,86.51 L71.81,90.21 L72.26,93.81 L72.72,97.31 L73.17,100.72 L73.62,104.02 L74.07,107.23 L74.53,110.35 L74.98,113.37 L75.43,116.31 L75.88,119.19 L76.34,122.05 L76.79,124.86 L77.24,127.63 L77.7,130.32 L78.15,132.93 L78.6,135.44 L79.05,137.85 L79.51,140.13 L79.96,142.27 L80.41,144.26 L80.86,146.08 L81.32,147.76 L81.77,149.36 L82.22,150.88 L82.67,152.34 L83.13,153.72 L83.58,155.04 L84.03,156.31 L84.48,157.52 L84.94,158.69 L85.39,159.82 L85.84,160.91 L86.3,161.98 L86.75,163.01 L87.2,164.03 L87.65,165.03 L88.11,166 L88.56,166.95 L89.01,167.86 L89.46,168.73 L89.92,169.57 L90.37,170.37 L90.82,171.12 L91.27,171.82 L91.73,172.48 L92.18,173.09 L92.63,173.68 L93.08,174.26 L93.54,174.81 L93.99,175.34 L94.44,175.85 L94.89,176.34 L95.35,176.79 L95.8,177.21 L96.25,177.6 L96.71,177.95 L97.16,178.26 L97.61,178.54 L98.06,178.81 L98.52,179.08 L98.97,179.34 L99.42,179.59 L99.87,179.83 L100.33,180.05 L100.78,180.24 L101.23,180.41 L101.68,180.54 L102.14,180.64 L102.59,180.69 L103.04,180.7 L103.49,180.66 L103.95,180.57 L104.4,180.45 L104.85,180.29 L105.3,180.1 L105.76,179.88 L106.21,179.65 L106.66,179.4 L107.12,179.14 L107.57,178.87 L108.02,178.61 L108.47,178.34 L108.93,178.06 L109.38,177.73 L109.83,177.38 L110.28,177 L110.74,176.59 L111.19,176.16 L111.64,175.71 L112.09,175.24 L112.55,174.76 L113,174.27 L113.45,173.77 L113.9,173.26 L114.36,172.73 L114.81,172.17 L115.26,171.56 L115.71,170.93 L116.17,170.28 L116.62,169.62" fill="none" stroke="#0000ff" stroke-width="1.1" stroke-dasharray="1.1 2.6" opacity="0.9"/>
<path d="M108.38,152.4 L108.98,151.67 L109.59,150.97 L110.19,150.27 L110.8,149.57 L111.41,148.86 L112.01,148.12 L112.62,147.35 L113.22,146.53 L113.83,145.66 L114.44,144.71 L115.04,143.66 L115.65,142.53 L116.25,141.35 L116.86,140.13 L117.47,138.9 L118.07,137.68 L118.68,136.49 L119.29,135.35 L119.89,134.25 L120.5,133.16 L121.1,132.08 L121.71,130.99 L122.32,129.92 L122.92,128.85 L123.53,127.78 L124.13,126.73 L124.74,125.68 L125.35,124.63 L125.95,123.59 L126.56,122.57 L127.16,121.54 L127.77,120.53 L128.38,119.53 L128.98,118.53 L129.59,117.54 L130.19,116.57 L130.8,115.6 L131.41,114.64 L132.01,113.7 L132.62,112.76 L133.23,111.83 L133.83,110.91 L134.44,110 L135.04,109.1 L135.65,108.2 L136.26,107.31 L136.86,106.42 L137.47,105.53 L138.07,104.65 L138.68,103.76 L139.29,102.88 L139.89,102 L140.5,101.12 L141.1,100.24 L141.71,99.35 L142.32,98.46 L142.92,97.57 L143.53,96.67 L144.13,95.76 L144.74,94.86 L145.35,93.94 L145.95,93.03 L146.56,92.11 L147.16,91.19 L147.77,90.28 L148.38,89.36 L148.98,88.45 L149.59,87.54 L150.2,86.63 L150.8,85.72 L151.41,84.83 L152.01,83.94 L152.62,83.05 L153.23,82.17 L153.83,81.29 L154.44,80.41 L155.04,79.53 L155.65,78.65 L156.26,77.78 L156.86,76.92 L157.47,76.06 L158.07,75.21 L158.68,74.37 L159.29,73.53 L159.89,72.7 L160.5,71.89 L161.1,71.08 L161.71,70.28 L162.32,69.48 L162.92,68.69 L163.53,67.9 L164.13,67.12 L164.74,66.35 L165.35,65.59 L165.95,64.83 L166.56,64.09 L167.17,63.35 L167.77,62.63 L168.38,61.92 L168.98,61.23 L169.59,60.54 L170.2,59.86 L170.8,59.18 L171.41,58.51 L172.01,57.85 L172.62,57.21 L173.23,56.56 L173.83,55.93 L174.44,55.31 L175.04,54.71 L175.65,54.11 L176.26,53.53 L176.86,52.96 L177.47,52.4 L178.07,51.85 L178.68,51.31 L179.29,50.77 L179.89,50.25 L180.5,49.74 L181.11,49.23 L181.71,48.73 L182.32,48.25 L182.92,47.77 L183.53,47.3 L184.14,46.84 L184.74,46.39 L185.35,45.95 L185.95,45.52 L186.56,45.09 L187.17,44.68 L187.77,44.27 L188.38,43.88 L188.98,43.48 L189.59,43.1 L190.2,42.72 L190.8,42.35 L191.41,41.98 L192.01,41.61 L192.62,41.25 L193.23,40.89 L193.83,40.54 L194.44,40.19 L195.04,39.85 L195.65,39.51 L196.26,39.17 L196.86,38.84 L197.47,38.52 L198.08,38.19 L198.68,37.87 L199.29,37.55 L199.89,37.24 L200.5,36.92 L201.11,36.61 L201.71,36.29 L202.32,35.98 L202.92,35.67 L203.53,35.36 L204.14,35.06 L204.74,34.75 L205.35,34.45 L205.95,34.15 L206.56,33.85 L207.17,33.55 L207.77,33.26 L208.38,32.96 L208.98,32.67 L209.59,32.38 L210.2,32.09 L210.8,31.81 L211.41,31.52 L212.01,31.24 L212.62,30.96 L213.23,30.68 L213.83,30.4 L214.44,30.12 L215.05,29.85 L215.65,29.57 L216.26,29.31 L216.86,29.04 L217.47,28.78 L218.08,28.52 L218.68,28.26 L219.29,28.01 L219.89,27.75 L220.5,27.5 L221.11,27.25 L221.71,27.01 L222.32,26.76 L222.92,26.52 L223.53,26.29 L224.14,26.05 L224.74,25.82 L225.35,25.59 L225.95,25.36 L226.56,25.14 L227.17,24.92 L227.77,24.71 L228.38,24.49 L228.98,24.28 L229.59,24.07 L230.2,23.86 L230.8,23.66 L231.41,23.45 L232.02,23.26 L232.62,23.06 L233.23,22.87 L233.83,22.68 L234.44,22.49 L235.05,22.31 L235.65,22.13 L236.26,21.95 L236.86,21.77 L237.47,21.6 L238.08,21.43 L238.68,21.26 L239.29,21.09 L239.89,20.93 L240.5,20.76 L241.11,20.61 L241.71,20.45 L242.32,20.3 L242.92,20.15 L243.53,20 L244.14,19.85 L244.74,19.71 L245.35,19.57 L245.96,19.43 L246.56,19.29 L247.17,19.15 L247.77,19.02 L248.38,18.89 L248.99,18.76 L249.59,18.63 L250.2,18.51 L250.8,18.38 L251.41,18.26 L252.02,18.14 L252.62,18.02 L253.23,17.91 L253.83,17.79 L254.44,17.68 L255.05,17.57 L255.65,17.46 L256.26,17.35 L256.86,17.24 L257.47,17.14 L258.08,17.03 L258.68,16.93 L259.29,16.83 L259.89,16.73 L260.5,16.63 L261.11,16.53 L261.71,16.43 L262.32,16.34 L262.93,16.25 L263.53,16.15 L264.14,16.06 L264.74,15.97 L265.35,15.88 L265.96,15.79 L266.56,15.7 L267.17,15.62 L267.77,15.53 L268.38,15.44 L268.99,15.36 L269.59,15.28 L270.2,15.19 L270.8,15.11 L271.41,15.03 L272.02,14.95 L272.62,14.87 L273.23,14.8 L273.83,14.72 L274.44,14.64 L275.05,14.57 L275.65,14.49 L276.26,14.42 L276.86,14.34 L277.47,14.27 L278.08,14.2 L278.68,14.12 L279.29,14.05 L279.9,13.98 L280.5,13.91 L281.11,13.84 L281.71,13.77 L282.32,13.71 L282.93,13.64 L283.53,13.57 L284.14,13.51 L284.74,13.44 L285.35,13.38 L285.96,13.31 L286.56,13.25 L287.17,13.18 L287.77,13.12 L288.38,13.06 L288.99,13 L289.59,12.93 L290.2,12.87 L290.8,12.81 L291.41,12.75 L292.02,12.7 L292.62,12.64 L293.23,12.58 L293.84,12.52 L294.44,12.47 L295.05,12.41 L295.65,12.35 L296.26,12.3 L296.87,12.24 L297.47,12.19 L298.08,12.14 L298.68,12.08 L299.29,12.03 L299.9,11.98 L300.5,11.93 L301.11,11.88 L301.71,11.83 L302.32,11.78 L302.93,11.73 L303.53,11.68 L304.14,11.64 L304.74,11.59 L305.35,11.54 L305.96,11.5 L306.56,11.45 L307.17,11.41 L307.77,11.36 L308.38,11.32 L308.99,11.28 L309.59,11.23 L310.2,11.19 L310.81,11.15 L311.41,11.11 L312.02,11.07 L312.62,11.03 L313.23,10.99 L313.84,10.96 L314.44,10.92 L315.05,10.88 L315.65,10.84 L316.26,10.81 L316.87,10.77 L317.47,10.74 L318.08,10.7 L318.68,10.67 L319.29,10.64 L319.9,10.6 L320.5,10.57 L321.11,10.54 L321.71,10.51 L322.32,10.48 L322.93,10.45 L323.53,10.42 L324.14,10.39 L324.74,10.36 L325.35,10.33 L325.96,10.3 L326.56,10.27 L327.17,10.25 L327.78,10.22 L328.38,10.2 L328.99,10.17 L329.59,10.14 L330.2,10.12 L330.81,10.1 L331.41,10.07 L332.02,10.05 L332.62,10.02 L333.23,10 L333.84,9.98 L334.44,9.96 L335.05,9.94 L335.65,9.92 L336.26,9.9 L336.87,9.87 L337.47,9.85 L338.08,9.84 L338.68,9.82 L339.29,9.8 L339.9,9.78 L340.5,9.76 L341.11,9.74 L341.71,9.73 L342.32,9.71 L342.93,9.69 L343.53,9.68 L344.14,9.66 L344.75,9.64 L345.35,9.63 L345.96,9.61 L346.56,9.6 L347.17,9.58 L347.78,9.57 L348.38,9.55 L348.99,9.54 L349.59,9.53 L350.2,9.51" fill="none" stroke="#008080" stroke-width="1.25"/>
<path d="M62.48,8.9 L62.87,10.97 L63.26,13.19 L63.64,15.58 L64.03,18.15 L64.41,20.93 L64.8,24.02 L65.18,27.46 L65.57,31.21 L65.96,35.2 L66.34,39.39 L66.73,43.71 L67.11,48.12 L67.5,52.57 L67.88,56.98 L68.27,61.32 L68.65,65.53 L69.04,69.55 L69.43,73.33 L69.81,76.82 L70.2,80.04 L70.58,83.18 L70.97,86.25 L71.35,89.25 L71.74,92.18 L72.13,95.04 L72.51,97.82 L72.9,100.54 L73.28,103.18 L73.67,105.75 L74.05,108.25 L74.44,110.67 L74.82,113.02 L75.21,115.31 L75.6,117.52 L75.98,119.72 L76.37,121.91 L76.75,124.06 L77.14,126.18 L77.52,128.25 L77.91,130.26 L78.3,132.21 L78.68,134.09 L79.07,135.87 L79.45,137.57 L79.84,139.16 L80.22,140.63 L80.61,141.98 L81,143.2 L81.38,144.36 L81.77,145.47 L82.15,146.53 L82.54,147.55 L82.92,148.53 L83.31,149.46 L83.69,150.35 L84.08,151.19 L84.47,151.99 L84.85,152.75 L85.24,153.45 L85.62,154.12 L86.01,154.73 L86.39,155.3 L86.78,155.85 L87.17,156.39 L87.55,156.92 L87.94,157.44 L88.32,157.93 L88.71,158.41 L89.09,158.86 L89.48,159.28 L89.87,159.67 L90.25,160.02 L90.64,160.33 L91.02,160.59 L91.41,160.81 L91.79,160.97 L92.18,161.09 L92.56,161.2 L92.95,161.31 L93.34,161.41 L93.72,161.51 L94.11,161.6 L94.49,161.68 L94.88,161.76 L95.26,161.82 L95.65,161.88 L96.04,161.93 L96.42,161.96 L96.81,161.99 L97.19,162 L97.58,161.99 L97.96,161.95 L98.35,161.86 L98.73,161.73 L99.12,161.57 L99.51,161.38 L99.89,161.16 L100.28,160.92 L100.66,160.66 L101.05,160.39 L101.43,160.1 L101.82,159.81 L102.21,159.51 L102.59,159.22 L102.98,158.93 L103.36,158.6 L103.75,158.24 L104.13,157.83 L104.52,157.4 L104.91,156.94 L105.29,156.46 L105.68,155.96 L106.06,155.45 L106.45,154.93 L106.83,154.41 L107.22,153.89 L107.6,153.38 L107.99,152.88 L108.38,152.4" fill="none" stroke="#008080" stroke-width="1.1" stroke-dasharray="1.1 2.6" opacity="0.9"/>
<path d="M108.38,146.7 L108.98,145.8 L109.59,144.9 L110.19,143.98 L110.8,143.05 L111.41,142.11 L112.01,141.16 L112.62,140.21 L113.22,139.24 L113.83,138.27 L114.44,137.28 L115.04,136.27 L115.65,135.24 L116.25,134.21 L116.86,133.16 L117.47,132.12 L118.07,131.08 L118.68,130.05 L119.29,129.04 L119.89,128.03 L120.5,127.03 L121.1,126.02 L121.71,125.02 L122.32,124.02 L122.92,123.02 L123.53,122.02 L124.13,121.03 L124.74,120.04 L125.35,119.05 L125.95,118.07 L126.56,117.09 L127.16,116.12 L127.77,115.16 L128.38,114.2 L128.98,113.24 L129.59,112.29 L130.19,111.36 L130.8,110.42 L131.41,109.5 L132.01,108.58 L132.62,107.67 L133.23,106.76 L133.83,105.86 L134.44,104.97 L135.04,104.08 L135.65,103.19 L136.26,102.31 L136.86,101.43 L137.47,100.55 L138.07,99.68 L138.68,98.81 L139.29,97.93 L139.89,97.06 L140.5,96.19 L141.1,95.32 L141.71,94.44 L142.32,93.57 L142.92,92.69 L143.53,91.81 L144.13,90.92 L144.74,90.04 L145.35,89.15 L145.95,88.26 L146.56,87.37 L147.16,86.48 L147.77,85.6 L148.38,84.71 L148.98,83.82 L149.59,82.94 L150.2,82.06 L150.8,81.18 L151.41,80.31 L152.01,79.44 L152.62,78.57 L153.23,77.7 L153.83,76.84 L154.44,75.97 L155.04,75.11 L155.65,74.24 L156.26,73.38 L156.86,72.53 L157.47,71.68 L158.07,70.83 L158.68,69.99 L159.29,69.16 L159.89,68.33 L160.5,67.51 L161.1,66.7 L161.71,65.89 L162.32,65.08 L162.92,64.27 L163.53,63.46 L164.13,62.67 L164.74,61.87 L165.35,61.09 L165.95,60.32 L166.56,59.56 L167.17,58.81 L167.77,58.07 L168.38,57.36 L168.98,56.65 L169.59,55.96 L170.2,55.28 L170.8,54.6 L171.41,53.94 L172.01,53.28 L172.62,52.63 L173.23,51.99 L173.83,51.37 L174.44,50.76 L175.04,50.16 L175.65,49.57 L176.26,49 L176.86,48.45 L177.47,47.91 L178.07,47.38 L178.68,46.86 L179.29,46.35 L179.89,45.85 L180.5,45.36 L181.11,44.88 L181.71,44.41 L182.32,43.95 L182.92,43.5 L183.53,43.06 L184.14,42.63 L184.74,42.2 L185.35,41.79 L185.95,41.39 L186.56,41 L187.17,40.61 L187.77,40.24 L188.38,39.87 L188.98,39.5 L189.59,39.15 L190.2,38.8 L190.8,38.46 L191.41,38.12 L192.01,37.79 L192.62,37.47 L193.23,37.14 L193.83,36.83 L194.44,36.52 L195.04,36.22 L195.65,35.92 L196.26,35.63 L196.86,35.35 L197.47,35.07 L198.08,34.79 L198.68,34.52 L199.29,34.24 L199.89,33.97 L200.5,33.7 L201.11,33.43 L201.71,33.16 L202.32,32.89 L202.92,32.62 L203.53,32.35 L204.14,32.08 L204.74,31.82 L205.35,31.55 L205.95,31.29 L206.56,31.03 L207.17,30.77 L207.77,30.51 L208.38,30.25 L208.98,29.99 L209.59,29.74 L210.2,29.48 L210.8,29.23 L211.41,28.97 L212.01,28.72 L212.62,28.47 L213.23,28.21 L213.83,27.96 L214.44,27.71 L215.05,27.46 L215.65,27.22 L216.26,26.97 L216.86,26.73 L217.47,26.49 L218.08,26.25 L218.68,26.02 L219.29,25.79 L219.89,25.56 L220.5,25.33 L221.11,25.1 L221.71,24.87 L222.32,24.65 L222.92,24.43 L223.53,24.21 L224.14,23.99 L224.74,23.78 L225.35,23.57 L225.95,23.36 L226.56,23.15 L227.17,22.95 L227.77,22.75 L228.38,22.55 L228.98,22.36 L229.59,22.16 L230.2,21.97 L230.8,21.78 L231.41,21.59 L232.02,21.41 L232.62,21.23 L233.23,21.05 L233.83,20.87 L234.44,20.7 L235.05,20.53 L235.65,20.36 L236.26,20.2 L236.86,20.03 L237.47,19.87 L238.08,19.71 L238.68,19.56 L239.29,19.4 L239.89,19.25 L240.5,19.1 L241.11,18.95 L241.71,18.81 L242.32,18.67 L242.92,18.53 L243.53,18.39 L244.14,18.26 L244.74,18.13 L245.35,18 L245.96,17.87 L246.56,17.75 L247.17,17.62 L247.77,17.5 L248.38,17.38 L248.99,17.26 L249.59,17.15 L250.2,17.04 L250.8,16.93 L251.41,16.82 L252.02,16.71 L252.62,16.61 L253.23,16.51 L253.83,16.41 L254.44,16.31 L255.05,16.21 L255.65,16.12 L256.26,16.02 L256.86,15.93 L257.47,15.84 L258.08,15.75 L258.68,15.66 L259.29,15.58 L259.89,15.49 L260.5,15.41 L261.11,15.32 L261.71,15.24 L262.32,15.16 L262.93,15.09 L263.53,15.01 L264.14,14.93 L264.74,14.86 L265.35,14.78 L265.96,14.71 L266.56,14.64 L267.17,14.57 L267.77,14.5 L268.38,14.43 L268.99,14.36 L269.59,14.29 L270.2,14.23 L270.8,14.16 L271.41,14.1 L272.02,14.03 L272.62,13.97 L273.23,13.91 L273.83,13.84 L274.44,13.78 L275.05,13.72 L275.65,13.66 L276.26,13.6 L276.86,13.55 L277.47,13.49 L278.08,13.43 L278.68,13.38 L279.29,13.32 L279.9,13.26 L280.5,13.21 L281.11,13.16 L281.71,13.1 L282.32,13.05 L282.93,13 L283.53,12.95 L284.14,12.89 L284.74,12.84 L285.35,12.79 L285.96,12.74 L286.56,12.69 L287.17,12.64 L287.77,12.6 L288.38,12.55 L288.99,12.5 L289.59,12.45 L290.2,12.41 L290.8,12.36 L291.41,12.31 L292.02,12.27 L292.62,12.22 L293.23,12.18 L293.84,12.13 L294.44,12.09 L295.05,12.05 L295.65,12 L296.26,11.96 L296.87,11.92 L297.47,11.87 L298.08,11.83 L298.68,11.79 L299.29,11.75 L299.9,11.71 L300.5,11.67 L301.11,11.63 L301.71,11.59 L302.32,11.55 L302.93,11.51 L303.53,11.48 L304.14,11.44 L304.74,11.4 L305.35,11.36 L305.96,11.33 L306.56,11.29 L307.17,11.25 L307.77,11.22 L308.38,11.18 L308.99,11.15 L309.59,11.12 L310.2,11.08 L310.81,11.05 L311.41,11.02 L312.02,10.98 L312.62,10.95 L313.23,10.92 L313.84,10.89 L314.44,10.85 L315.05,10.82 L315.65,10.79 L316.26,10.76 L316.87,10.73 L317.47,10.7 L318.08,10.67 L318.68,10.65 L319.29,10.62 L319.9,10.59 L320.5,10.56 L321.11,10.53 L321.71,10.51 L322.32,10.48 L322.93,10.45 L323.53,10.43 L324.14,10.4 L324.74,10.37 L325.35,10.35 L325.96,10.32 L326.56,10.3 L327.17,10.28 L327.78,10.25 L328.38,10.23 L328.99,10.21 L329.59,10.18 L330.2,10.16 L330.81,10.14 L331.41,10.12 L332.02,10.09 L332.62,10.07 L333.23,10.05 L333.84,10.03 L334.44,10.01 L335.05,9.99 L335.65,9.97 L336.26,9.95 L336.87,9.93 L337.47,9.91 L338.08,9.89 L338.68,9.87 L339.29,9.85 L339.9,9.84 L340.5,9.82 L341.11,9.8 L341.71,9.78 L342.32,9.77 L342.93,9.75 L343.53,9.73 L344.14,9.72 L344.75,9.7 L345.35,9.69 L345.96,9.67 L346.56,9.66 L347.17,9.64 L347.78,9.63 L348.38,9.61 L348.99,9.6 L349.59,9.58 L350.2,9.57" fill="none" stroke="#ff00ff" stroke-width="1.25"/>
<path d="M60.29,8.9 L60.69,16.02 L61.09,22.98 L61.5,29.75 L61.9,36.3 L62.31,42.59 L62.71,48.6 L63.11,54.29 L63.52,59.64 L63.92,64.6 L64.33,69.14 L64.73,73.33 L65.14,77.32 L65.54,81.13 L65.94,84.77 L66.35,88.26 L66.75,91.59 L67.16,94.79 L67.56,97.85 L67.96,100.8 L68.37,103.64 L68.77,106.38 L69.18,109.03 L69.58,111.6 L69.98,114.09 L70.39,116.54 L70.79,118.93 L71.2,121.26 L71.6,123.52 L72.01,125.72 L72.41,127.85 L72.81,129.91 L73.22,131.89 L73.62,133.79 L74.03,135.61 L74.43,137.34 L74.83,138.97 L75.24,140.51 L75.64,141.97 L76.05,143.39 L76.45,144.78 L76.85,146.14 L77.26,147.46 L77.66,148.72 L78.07,149.94 L78.47,151.1 L78.88,152.19 L79.28,153.21 L79.68,154.16 L80.09,155.03 L80.49,155.81 L80.9,156.5 L81.3,157.13 L81.7,157.75 L82.11,158.34 L82.51,158.91 L82.92,159.46 L83.32,159.97 L83.72,160.45 L84.13,160.9 L84.53,161.3 L84.94,161.67 L85.34,161.99 L85.75,162.26 L86.15,162.49 L86.55,162.67 L86.96,162.83 L87.36,162.99 L87.77,163.14 L88.17,163.28 L88.57,163.42 L88.98,163.54 L89.38,163.65 L89.79,163.75 L90.19,163.83 L90.59,163.9 L91,163.95 L91.4,163.99 L91.81,164 L92.21,163.98 L92.62,163.92 L93.02,163.82 L93.42,163.68 L93.83,163.5 L94.23,163.29 L94.64,163.06 L95.04,162.8 L95.44,162.53 L95.85,162.24 L96.25,161.94 L96.66,161.64 L97.06,161.34 L97.46,161.04 L97.87,160.71 L98.27,160.33 L98.68,159.91 L99.08,159.45 L99.49,158.97 L99.89,158.46 L100.29,157.93 L100.7,157.38 L101.1,156.82 L101.51,156.26 L101.91,155.71 L102.31,155.15 L102.72,154.61 L103.12,154.08 L103.53,153.55 L103.93,153.01 L104.33,152.46 L104.74,151.9 L105.14,151.34 L105.55,150.78 L105.95,150.21 L106.36,149.63 L106.76,149.05 L107.16,148.47 L107.57,147.88 L107.97,147.29 L108.38,146.7" fill="none" stroke="#ff00ff" stroke-width="1.1" stroke-dasharray="1.1 2.6" opacity="0.9"/>
<rect x="61.86" y="60.45" width="5.1" height="5.1" fill="#808000"/>
<rect x="67.35" y="87.45" width="5.1" height="5.1" fill="#808000"/>
<rect x="72.85" y="99.85" width="5.1" height="5.1" fill="#808000"/>
<rect x="78.35" y="104.25" width="5.1" height="5.1" fill="#808000"/>
<rect x="83.84" y="102.75" width="5.1" height="5.1" fill="#808000"/>
<rect x="89.34" y="98.15" width="5.1" height="5.1" fill="#808000"/>
<rect x="94.83" y="90.75" width="5.1" height="5.1" fill="#808000"/>
<rect x="100.33" y="81.15" width="5.1" height="5.1" fill="#808000"/>
<rect x="105.83" y="73.75" width="5.1" height="5.1" fill="#808000"/>
<rect x="111.32" y="64.85" width="5.1" height="5.1" fill="#808000"/>
<rect x="116.82" y="56.85" width="5.1" height="5.1" fill="#808000"/>
<rect x="127.81" y="43.75" width="5.1" height="5.1" fill="#808000"/>
<circle cx="64.41" cy="49.4" r="2.9" fill="#ff0000"/>
<circle cx="69.9" cy="87.1" r="2.9" fill="#ff0000"/>
<circle cx="75.4" cy="109" r="2.9" fill="#ff0000"/>
<circle cx="80.9" cy="120" r="2.9" fill="#ff0000"/>
<circle cx="86.39" cy="123.5" r="2.9" fill="#ff0000"/>
<circle cx="91.89" cy="123.3" r="2.9" fill="#ff0000"/>
<circle cx="97.38" cy="119.6" r="2.9" fill="#ff0000"/>
<circle cx="102.88" cy="115.2" r="2.9" fill="#ff0000"/>
<circle cx="108.38" cy="108.4" r="2.9" fill="#ff0000"/>
<circle cx="113.87" cy="102.7" r="2.9" fill="#ff0000"/>
<circle cx="119.37" cy="95.1" r="2.9" fill="#ff0000"/>
<circle cx="130.36" cy="82.7" r="2.9" fill="#ff0000"/>
<path d="M62.21,108.87H66.61M64.41,108.87V124.53M62.21,124.53H66.61" stroke="#777" stroke-width="0.9" fill="none"/>
<path d="M68.51,116.7 L62.91,113.1 L62.91,120.3Z" fill="#000000"/>
<path d="M73.2,181.07H77.6M75.4,181.07V196.73M73.2,196.73H77.6" stroke="#777" stroke-width="0.9" fill="none"/>
<path d="M79.5,188.9 L73.9,185.3 L73.9,192.5Z" fill="#000000"/>
<path d="M84.19,203.27H88.59M86.39,203.27V218.93M84.19,218.93H88.59" stroke="#777" stroke-width="0.9" fill="none"/>
<path d="M90.49,211.1 L84.89,207.5 L84.89,214.7Z" fill="#000000"/>
<path d="M95.18,193.27H99.58M97.38,193.27V208.93M95.18,208.93H99.58" stroke="#777" stroke-width="0.9" fill="none"/>
<path d="M101.48,201.1 L95.88,197.5 L95.88,204.7Z" fill="#000000"/>
<path d="M106.18,181.77H110.58M108.38,181.77V197.43M106.18,197.43H110.58" stroke="#777" stroke-width="0.9" fill="none"/>
<path d="M112.48,189.6 L106.88,186 L106.88,193.2Z" fill="#000000"/>
<path d="M64.41,10.25 L67.6,16.41 L61.22,16.41Z" fill="#0000ff"/>
<path d="M69.9,70.66 L73.09,76.82 L66.71,76.82Z" fill="#0000ff"/>
<path d="M75.4,112.85 L78.59,119.02 L72.21,119.02Z" fill="#0000ff"/>
<path d="M80.9,142.95 L84.09,149.11 L77.71,149.11Z" fill="#0000ff"/>
<path d="M86.39,158.95 L89.58,165.11 L83.2,165.11Z" fill="#0000ff"/>
<path d="M91.89,169.45 L95.08,175.61 L88.7,175.61Z" fill="#0000ff"/>
<path d="M97.38,175.16 L100.57,181.31 L94.19,181.31Z" fill="#0000ff"/>
<path d="M102.88,177.45 L106.07,183.61 L99.69,183.61Z" fill="#0000ff"/>
<path d="M108.38,175.16 L111.57,181.31 L105.19,181.31Z" fill="#0000ff"/>
<path d="M113.87,170.06 L117.06,176.22 L110.68,176.22Z" fill="#0000ff"/>
<path d="M119.37,162.35 L122.56,168.51 L116.18,168.51Z" fill="#0000ff"/>
<path d="M130.36,147.85 L133.55,154.01 L127.17,154.01Z" fill="#0000ff"/>
<path d="M64.41,24.14 L67.6,17.98 L61.22,17.98Z" fill="#008080"/>
<path d="M69.9,80.84 L73.09,74.68 L66.71,74.68Z" fill="#008080"/>
<path d="M75.4,119.65 L78.59,113.48 L72.21,113.48Z" fill="#008080"/>
<path d="M80.9,146.15 L84.09,139.99 L77.71,139.99Z" fill="#008080"/>
<path d="M86.39,158.55 L89.58,152.39 L83.2,152.39Z" fill="#008080"/>
<path d="M91.89,164.25 L95.08,158.09 L88.7,158.09Z" fill="#008080"/>
<path d="M97.38,165.25 L100.57,159.09 L94.19,159.09Z" fill="#008080"/>
<path d="M102.88,162.25 L106.07,156.09 L99.69,156.09Z" fill="#008080"/>
<path d="M108.38,155.65 L111.57,149.49 L105.19,149.49Z" fill="#008080"/>
<path d="M113.87,148.84 L117.06,142.69 L110.68,142.69Z" fill="#008080"/>
<path d="M119.37,138.44 L122.56,132.28 L116.18,132.28Z" fill="#008080"/>
<path d="M130.36,119.55 L133.55,113.38 L127.17,113.38Z" fill="#008080"/>
<path d="M61.44,70 L67.16,66.81 L67.16,73.19Z" fill="#ff00ff"/>
<path d="M66.93,113.6 L72.65,110.41 L72.65,116.79Z" fill="#ff00ff"/>
<path d="M72.43,141.1 L78.15,137.91 L78.15,144.29Z" fill="#ff00ff"/>
<path d="M77.93,156.5 L83.65,153.31 L83.65,159.69Z" fill="#ff00ff"/>
<path d="M83.42,162.6 L89.14,159.41 L89.14,165.79Z" fill="#ff00ff"/>
<path d="M88.92,164 L94.64,160.81 L94.64,167.19Z" fill="#ff00ff"/>
<path d="M94.41,161.1 L100.13,157.91 L100.13,164.29Z" fill="#ff00ff"/>
<path d="M99.91,154.4 L105.63,151.21 L105.63,157.59Z" fill="#ff00ff"/>
<path d="M105.41,146.7 L111.13,143.51 L111.13,149.89Z" fill="#ff00ff"/>
<path d="M110.9,138.2 L116.62,135.01 L116.62,141.39Z" fill="#ff00ff"/>
<path d="M116.4,128.9 L122.12,125.71 L122.12,132.09Z" fill="#ff00ff"/>
<path d="M127.39,111.1 L133.11,107.91 L133.11,114.29Z" fill="#ff00ff"/>
</g>
<clipPath id="cb"><rect x="432.1" y="10.1" width="294.3" height="217.4"/></clipPath>
<g clip-path="url(#cb)">
<path d="M458.88,114.4 L459.55,115.48 L460.23,116.55 L460.9,117.57 L461.57,118.49 L462.24,119.28 L462.92,119.9 L463.59,120.32 L464.26,120.5 L464.94,120.47 L465.61,120.38 L466.28,120.24 L466.96,120.04 L467.63,119.81 L468.3,119.55 L468.97,119.27 L469.65,118.98 L470.32,118.67 L470.99,118.29 L471.67,117.84 L472.34,117.33 L473.01,116.76 L473.69,116.13 L474.36,115.45 L475.03,114.72 L475.7,113.92 L476.38,112.91 L477.05,111.72 L477.72,110.41 L478.4,109.03 L479.07,107.64 L479.74,106.3 L480.42,105.05 L481.09,103.94 L481.76,102.93 L482.43,101.98 L483.11,101.06 L483.78,100.15 L484.45,99.24 L485.13,98.28 L485.8,97.27 L486.47,96.18 L487.15,94.97 L487.82,93.68 L488.49,92.32 L489.16,90.93 L489.84,89.55 L490.51,88.2 L491.18,86.92 L491.86,85.74 L492.53,84.65 L493.2,83.62 L493.88,82.63 L494.55,81.67 L495.22,80.71 L495.89,79.72 L496.57,78.69 L497.24,77.6 L497.91,76.41 L498.59,75.13 L499.26,73.79 L499.93,72.42 L500.6,71.07 L501.28,69.75 L501.95,68.5 L502.62,67.35 L503.3,66.31 L503.97,65.31 L504.64,64.35 L505.32,63.43 L505.99,62.54 L506.66,61.68 L507.33,60.85 L508.01,60.03 L508.68,59.23 L509.35,58.44 L510.03,57.67 L510.7,56.9 L511.37,56.15 L512.05,55.41 L512.72,54.68 L513.39,53.97 L514.06,53.26 L514.74,52.56 L515.41,51.87 L516.08,51.19 L516.76,50.52 L517.43,49.85 L518.1,49.2 L518.78,48.55 L519.45,47.91 L520.12,47.27 L520.79,46.64 L521.47,46.01 L522.14,45.39 L522.81,44.78 L523.49,44.18 L524.16,43.58 L524.83,42.99 L525.51,42.41 L526.18,41.85 L526.85,41.28 L527.52,40.73 L528.2,40.19 L528.87,39.66 L529.54,39.13 L530.22,38.62 L530.89,38.11 L531.56,37.62 L532.24,37.13 L532.91,36.64 L533.58,36.17 L534.25,35.7 L534.93,35.24 L535.6,34.79 L536.27,34.34 L536.95,33.91 L537.62,33.48 L538.29,33.06 L538.96,32.64 L539.64,32.23 L540.31,31.83 L540.98,31.44 L541.66,31.05 L542.33,30.67 L543,30.29 L543.68,29.92 L544.35,29.56 L545.02,29.2 L545.69,28.85 L546.37,28.51 L547.04,28.17 L547.71,27.84 L548.39,27.51 L549.06,27.19 L549.73,26.88 L550.41,26.57 L551.08,26.26 L551.75,25.96 L552.42,25.67 L553.1,25.38 L553.77,25.09 L554.44,24.82 L555.12,24.54 L555.79,24.27 L556.46,24.01 L557.14,23.75 L557.81,23.5 L558.48,23.25 L559.15,23 L559.83,22.76 L560.5,22.52 L561.17,22.29 L561.85,22.06 L562.52,21.83 L563.19,21.61 L563.87,21.4 L564.54,21.19 L565.21,20.98 L565.88,20.77 L566.56,20.57 L567.23,20.38 L567.9,20.18 L568.58,19.99 L569.25,19.8 L569.92,19.62 L570.6,19.44 L571.27,19.27 L571.94,19.1 L572.61,18.93 L573.29,18.76 L573.96,18.6 L574.63,18.44 L575.31,18.28 L575.98,18.12 L576.65,17.97 L577.32,17.82 L578,17.68 L578.67,17.54 L579.34,17.4 L580.02,17.26 L580.69,17.13 L581.36,17 L582.04,16.87 L582.71,16.74 L583.38,16.62 L584.05,16.49 L584.73,16.37 L585.4,16.26 L586.07,16.14 L586.75,16.03 L587.42,15.92 L588.09,15.81 L588.77,15.71 L589.44,15.6 L590.11,15.5 L590.78,15.4 L591.46,15.31 L592.13,15.21 L592.8,15.12 L593.48,15.02 L594.15,14.93 L594.82,14.85 L595.5,14.76 L596.17,14.68 L596.84,14.6 L597.51,14.51 L598.19,14.44 L598.86,14.36 L599.53,14.28 L600.21,14.21 L600.88,14.13 L601.55,14.06 L602.23,13.99 L602.9,13.92 L603.57,13.86 L604.24,13.79 L604.92,13.73 L605.59,13.67 L606.26,13.61 L606.94,13.55 L607.61,13.49 L608.28,13.43 L608.96,13.37 L609.63,13.32 L610.3,13.26 L610.97,13.21 L611.65,13.16 L612.32,13.11 L612.99,13.06 L613.67,13.01 L614.34,12.97 L615.01,12.92 L615.68,12.88 L616.36,12.83 L617.03,12.79 L617.7,12.75 L618.38,12.71 L619.05,12.67 L619.72,12.63 L620.4,12.59 L621.07,12.55 L621.74,12.52 L622.41,12.48 L623.09,12.44 L623.76,12.41 L624.43,12.38 L625.11,12.34 L625.78,12.31 L626.45,12.28 L627.13,12.25 L627.8,12.22 L628.47,12.19 L629.14,12.16 L629.82,12.14 L630.49,12.11 L631.16,12.08 L631.84,12.06 L632.51,12.03 L633.18,12.01 L633.86,11.98 L634.53,11.96 L635.2,11.94 L635.87,11.92 L636.55,11.89 L637.22,11.87 L637.89,11.85 L638.57,11.83 L639.24,11.81 L639.91,11.79 L640.59,11.78 L641.26,11.76 L641.93,11.74 L642.6,11.72 L643.28,11.7 L643.95,11.69 L644.62,11.67 L645.3,11.66 L645.97,11.64 L646.64,11.63 L647.32,11.61 L647.99,11.6 L648.66,11.58 L649.33,11.57 L650.01,11.56 L650.68,11.54 L651.35,11.53 L652.03,11.52 L652.7,11.51 L653.37,11.5 L654.04,11.49 L654.72,11.47 L655.39,11.46 L656.06,11.45 L656.74,11.44 L657.41,11.43 L658.08,11.42 L658.76,11.42 L659.43,11.41 L660.1,11.4 L660.77,11.39 L661.45,11.38 L662.12,11.37 L662.79,11.36 L663.47,11.36 L664.14,11.35 L664.81,11.34 L665.49,11.33 L666.16,11.33 L666.83,11.32 L667.5,11.31 L668.18,11.31 L668.85,11.3 L669.52,11.3 L670.2,11.29 L670.87,11.28 L671.54,11.28 L672.22,11.27 L672.89,11.27 L673.56,11.26 L674.23,11.26 L674.91,11.25 L675.58,11.25 L676.25,11.24 L676.93,11.24 L677.6,11.24 L678.27,11.23 L678.95,11.23 L679.62,11.22 L680.29,11.22 L680.96,11.22 L681.64,11.21 L682.31,11.21 L682.98,11.21 L683.66,11.2 L684.33,11.2 L685,11.2 L685.68,11.19 L686.35,11.19 L687.02,11.19 L687.69,11.18 L688.37,11.18 L689.04,11.18 L689.71,11.18 L690.39,11.17 L691.06,11.17 L691.73,11.17 L692.4,11.17 L693.08,11.16 L693.75,11.16 L694.42,11.16 L695.1,11.16 L695.77,11.16 L696.44,11.15 L697.12,11.15 L697.79,11.15 L698.46,11.15 L699.13,11.15 L699.81,11.15 L700.48,11.14 L701.15,11.14 L701.83,11.14 L702.5,11.14 L703.17,11.14 L703.85,11.14 L704.52,11.14 L705.19,11.14 L705.86,11.13 L706.54,11.13 L707.21,11.13 L707.88,11.13 L708.56,11.13 L709.23,11.13 L709.9,11.13 L710.58,11.13 L711.25,11.13 L711.92,11.13 L712.59,11.12 L713.27,11.12 L713.94,11.12 L714.61,11.12 L715.29,11.12 L715.96,11.12 L716.63,11.12 L717.31,11.12 L717.98,11.12 L718.65,11.12 L719.32,11.12 L720,11.12 L720.67,11.12 L721.34,11.12 L722.02,11.11 L722.69,11.11 L723.36,11.11 L724.04,11.11 L724.71,11.11 L725.38,11.11 L726.05,11.11 L726.73,11.11 L727.4,11.11" fill="none" stroke="#808000" stroke-width="1.25"/>
<path d="M441.89,11.1 L442.03,12.28 L442.18,13.46 L442.32,14.63 L442.46,15.78 L442.61,16.93 L442.75,18.09 L442.89,19.25 L443.03,20.43 L443.18,21.61 L443.32,22.8 L443.46,24 L443.61,25.21 L443.75,26.42 L443.89,27.64 L444.03,28.86 L444.18,30.09 L444.32,31.33 L444.46,32.57 L444.6,33.81 L444.75,35.05 L444.89,36.3 L445.03,37.56 L445.18,38.81 L445.32,40.06 L445.46,41.32 L445.6,42.58 L445.75,43.83 L445.89,45.09 L446.03,46.35 L446.17,47.6 L446.32,48.85 L446.46,50.11 L446.6,51.35 L446.75,52.6 L446.89,53.84 L447.03,55.08 L447.17,56.31 L447.32,57.54 L447.46,58.76 L447.6,59.97 L447.75,61.18 L447.89,62.39 L448.03,63.58 L448.17,64.77 L448.32,65.95 L448.46,67.12 L448.6,68.28 L448.74,69.43 L448.89,70.57 L449.03,71.7 L449.17,72.82 L449.32,73.93 L449.46,75.03 L449.6,76.11 L449.74,77.18 L449.89,78.24 L450.03,79.28 L450.17,80.31 L450.31,81.32 L450.46,82.32 L450.6,83.31 L450.74,84.27 L450.89,85.22 L451.03,86.15 L451.17,87.07 L451.31,87.96 L451.46,88.84 L451.6,89.7 L451.74,90.54 L451.88,91.36 L452.03,92.16 L452.17,92.94 L452.31,93.69 L452.46,94.43 L452.6,95.14 L452.74,95.83 L452.88,96.5 L453.03,97.14 L453.17,97.76 L453.31,98.35 L453.46,98.92 L453.6,99.48 L453.74,100.03 L453.88,100.57 L454.03,101.11 L454.17,101.64 L454.31,102.17 L454.45,102.68 L454.6,103.19 L454.74,103.69 L454.88,104.18 L455.03,104.67 L455.17,105.14 L455.31,105.61 L455.45,106.07 L455.6,106.52 L455.74,106.97 L455.88,107.4 L456.02,107.83 L456.17,108.24 L456.31,108.65 L456.45,109.05 L456.6,109.44 L456.74,109.83 L456.88,110.2 L457.02,110.56 L457.17,110.92 L457.31,111.26 L457.45,111.6 L457.6,111.92 L457.74,112.24 L457.88,112.54 L458.02,112.84 L458.17,113.12 L458.31,113.4 L458.45,113.67 L458.59,113.92 L458.74,114.17 L458.88,114.4" fill="none" stroke="#808000" stroke-width="1.1" stroke-dasharray="1.1 2.6" opacity="0.9"/>
<path d="M469.84,126.7 L470.49,126.65 L471.13,126.53 L471.78,126.35 L472.42,126.12 L473.07,125.87 L473.71,125.62 L474.36,125.39 L475,125.18 L475.65,125.03 L476.3,124.9 L476.94,124.79 L477.59,124.7 L478.23,124.6 L478.88,124.49 L479.52,124.36 L480.17,124.2 L480.81,124 L481.46,123.62 L482.1,122.99 L482.75,122.17 L483.4,121.21 L484.04,120.17 L484.69,119.1 L485.33,118.06 L485.98,117.1 L486.62,116.26 L487.27,115.45 L487.91,114.65 L488.56,113.85 L489.21,113.06 L489.85,112.28 L490.5,111.5 L491.14,110.73 L491.79,109.97 L492.43,109.19 L493.08,108.38 L493.72,107.57 L494.37,106.77 L495.02,105.99 L495.66,105.25 L496.31,104.57 L496.95,103.95 L497.6,103.42 L498.24,102.97 L498.89,102.58 L499.53,102.22 L500.18,101.88 L500.82,101.51 L501.47,101.11 L502.12,100.63 L502.76,100.06 L503.41,99.3 L504.05,98.34 L504.7,97.21 L505.34,95.97 L505.99,94.66 L506.63,93.35 L507.28,92.06 L507.93,90.87 L508.57,89.78 L509.22,88.72 L509.86,87.66 L510.51,86.6 L511.15,85.55 L511.8,84.51 L512.44,83.47 L513.09,82.45 L513.73,81.43 L514.38,80.42 L515.03,79.41 L515.67,78.42 L516.32,77.43 L516.96,76.46 L517.61,75.49 L518.25,74.53 L518.9,73.58 L519.54,72.65 L520.19,71.72 L520.84,70.8 L521.48,69.9 L522.13,69 L522.77,68.12 L523.42,67.25 L524.06,66.39 L524.71,65.54 L525.35,64.7 L526,63.87 L526.65,63.05 L527.29,62.25 L527.94,61.45 L528.58,60.68 L529.23,59.91 L529.87,59.16 L530.52,58.41 L531.16,57.68 L531.81,56.96 L532.45,56.25 L533.1,55.55 L533.75,54.85 L534.39,54.17 L535.04,53.5 L535.68,52.84 L536.33,52.19 L536.97,51.56 L537.62,50.94 L538.26,50.33 L538.91,49.73 L539.56,49.14 L540.2,48.57 L540.85,48 L541.49,47.44 L542.14,46.89 L542.78,46.35 L543.43,45.82 L544.07,45.3 L544.72,44.78 L545.37,44.28 L546.01,43.78 L546.66,43.29 L547.3,42.81 L547.95,42.34 L548.59,41.87 L549.24,41.42 L549.88,40.97 L550.53,40.52 L551.17,40.08 L551.82,39.65 L552.47,39.23 L553.11,38.81 L553.76,38.4 L554.4,38 L555.05,37.6 L555.69,37.2 L556.34,36.82 L556.98,36.43 L557.63,36.06 L558.28,35.68 L558.92,35.32 L559.57,34.96 L560.21,34.6 L560.86,34.25 L561.5,33.9 L562.15,33.56 L562.79,33.22 L563.44,32.89 L564.09,32.56 L564.73,32.24 L565.38,31.92 L566.02,31.6 L566.67,31.29 L567.31,30.99 L567.96,30.68 L568.6,30.38 L569.25,30.09 L569.89,29.79 L570.54,29.51 L571.19,29.22 L571.83,28.94 L572.48,28.67 L573.12,28.39 L573.77,28.12 L574.41,27.85 L575.06,27.59 L575.7,27.33 L576.35,27.07 L577,26.82 L577.64,26.57 L578.29,26.32 L578.93,26.08 L579.58,25.84 L580.22,25.6 L580.87,25.37 L581.51,25.14 L582.16,24.91 L582.8,24.68 L583.45,24.46 L584.1,24.24 L584.74,24.03 L585.39,23.81 L586.03,23.6 L586.68,23.39 L587.32,23.19 L587.97,22.99 L588.61,22.79 L589.26,22.59 L589.91,22.4 L590.55,22.21 L591.2,22.02 L591.84,21.83 L592.49,21.65 L593.13,21.47 L593.78,21.29 L594.42,21.12 L595.07,20.94 L595.72,20.77 L596.36,20.6 L597.01,20.44 L597.65,20.28 L598.3,20.11 L598.94,19.96 L599.59,19.8 L600.23,19.64 L600.88,19.49 L601.52,19.34 L602.17,19.19 L602.82,19.05 L603.46,18.9 L604.11,18.76 L604.75,18.63 L605.4,18.49 L606.04,18.35 L606.69,18.22 L607.33,18.09 L607.98,17.96 L608.63,17.83 L609.27,17.71 L609.92,17.58 L610.56,17.46 L611.21,17.34 L611.85,17.23 L612.5,17.11 L613.14,17 L613.79,16.89 L614.44,16.77 L615.08,16.67 L615.73,16.56 L616.37,16.45 L617.02,16.35 L617.66,16.25 L618.31,16.15 L618.95,16.05 L619.6,15.95 L620.24,15.86 L620.89,15.76 L621.54,15.67 L622.18,15.58 L622.83,15.49 L623.47,15.4 L624.12,15.32 L624.76,15.23 L625.41,15.15 L626.05,15.06 L626.7,14.98 L627.35,14.9 L627.99,14.83 L628.64,14.75 L629.28,14.67 L629.93,14.6 L630.57,14.53 L631.22,14.46 L631.86,14.39 L632.51,14.32 L633.15,14.25 L633.8,14.18 L634.45,14.12 L635.09,14.05 L635.74,13.99 L636.38,13.93 L637.03,13.87 L637.67,13.81 L638.32,13.75 L638.96,13.69 L639.61,13.63 L640.26,13.58 L640.9,13.52 L641.55,13.47 L642.19,13.42 L642.84,13.37 L643.48,13.32 L644.13,13.27 L644.77,13.22 L645.42,13.17 L646.07,13.12 L646.71,13.08 L647.36,13.03 L648,12.99 L648.65,12.94 L649.29,12.9 L649.94,12.86 L650.58,12.82 L651.23,12.78 L651.87,12.74 L652.52,12.7 L653.17,12.66 L653.81,12.63 L654.46,12.59 L655.1,12.56 L655.75,12.52 L656.39,12.49 L657.04,12.45 L657.68,12.42 L658.33,12.39 L658.98,12.36 L659.62,12.33 L660.27,12.3 L660.91,12.27 L661.56,12.24 L662.2,12.21 L662.85,12.18 L663.49,12.16 L664.14,12.13 L664.79,12.1 L665.43,12.08 L666.08,12.05 L666.72,12.03 L667.37,12.01 L668.01,11.98 L668.66,11.96 L669.3,11.94 L669.95,11.92 L670.59,11.9 L671.24,11.88 L671.89,11.85 L672.53,11.84 L673.18,11.82 L673.82,11.8 L674.47,11.78 L675.11,11.76 L675.76,11.74 L676.4,11.73 L677.05,11.71 L677.7,11.69 L678.34,11.68 L678.99,11.66 L679.63,11.65 L680.28,11.63 L680.92,11.62 L681.57,11.6 L682.21,11.59 L682.86,11.57 L683.51,11.56 L684.15,11.55 L684.8,11.54 L685.44,11.52 L686.09,11.51 L686.73,11.5 L687.38,11.49 L688.02,11.48 L688.67,11.47 L689.31,11.46 L689.96,11.45 L690.61,11.44 L691.25,11.43 L691.9,11.42 L692.54,11.41 L693.19,11.4 L693.83,11.39 L694.48,11.38 L695.12,11.37 L695.77,11.37 L696.42,11.36 L697.06,11.35 L697.71,11.34 L698.35,11.33 L699,11.33 L699.64,11.32 L700.29,11.31 L700.93,11.31 L701.58,11.3 L702.22,11.29 L702.87,11.29 L703.52,11.28 L704.16,11.28 L704.81,11.27 L705.45,11.27 L706.1,11.26 L706.74,11.26 L707.39,11.25 L708.03,11.25 L708.68,11.24 L709.33,11.24 L709.97,11.23 L710.62,11.23 L711.26,11.22 L711.91,11.22 L712.55,11.22 L713.2,11.21 L713.84,11.21 L714.49,11.21 L715.14,11.2 L715.78,11.2 L716.43,11.2 L717.07,11.19 L717.72,11.19 L718.36,11.19 L719.01,11.18 L719.65,11.18 L720.3,11.18 L720.94,11.18 L721.59,11.17 L722.24,11.17 L722.88,11.17 L723.53,11.17 L724.17,11.16 L724.82,11.16 L725.46,11.16 L726.11,11.16 L726.75,11.15 L727.4,11.15" fill="none" stroke="#ff0000" stroke-width="1.25"/>
<path d="M446.82,11.1 L447.02,13.41 L447.21,15.71 L447.4,17.98 L447.6,20.23 L447.79,22.45 L447.98,24.66 L448.18,26.84 L448.37,29 L448.56,31.13 L448.76,33.24 L448.95,35.33 L449.14,37.39 L449.34,39.42 L449.53,41.43 L449.73,43.41 L449.92,45.37 L450.11,47.3 L450.31,49.2 L450.5,51.08 L450.69,52.93 L450.89,54.74 L451.08,56.53 L451.27,58.29 L451.47,60.02 L451.66,61.72 L451.85,63.39 L452.05,65.03 L452.24,66.64 L452.43,68.21 L452.63,69.76 L452.82,71.27 L453.01,72.74 L453.21,74.19 L453.4,75.6 L453.59,76.99 L453.79,78.37 L453.98,79.74 L454.17,81.09 L454.37,82.44 L454.56,83.77 L454.75,85.08 L454.95,86.38 L455.14,87.66 L455.33,88.92 L455.53,90.16 L455.72,91.38 L455.91,92.57 L456.11,93.74 L456.3,94.89 L456.49,96.01 L456.69,97.1 L456.88,98.17 L457.07,99.2 L457.27,100.2 L457.46,101.17 L457.66,102.11 L457.85,103.02 L458.04,103.88 L458.24,104.71 L458.43,105.51 L458.62,106.26 L458.82,106.97 L459.01,107.65 L459.2,108.31 L459.4,108.96 L459.59,109.6 L459.78,110.22 L459.98,110.84 L460.17,111.43 L460.36,112.02 L460.56,112.59 L460.75,113.15 L460.94,113.69 L461.14,114.22 L461.33,114.74 L461.52,115.25 L461.72,115.74 L461.91,116.21 L462.1,116.67 L462.3,117.12 L462.49,117.56 L462.68,117.98 L462.88,118.38 L463.07,118.77 L463.26,119.15 L463.46,119.51 L463.65,119.86 L463.84,120.19 L464.04,120.5 L464.23,120.81 L464.42,121.1 L464.62,121.38 L464.81,121.67 L465,121.96 L465.2,122.24 L465.39,122.53 L465.58,122.81 L465.78,123.09 L465.97,123.37 L466.17,123.64 L466.36,123.91 L466.55,124.17 L466.75,124.42 L466.94,124.66 L467.13,124.9 L467.33,125.12 L467.52,125.33 L467.71,125.53 L467.91,125.72 L468.1,125.9 L468.29,126.05 L468.49,126.2 L468.68,126.33 L468.87,126.44 L469.07,126.53 L469.26,126.6 L469.45,126.66 L469.65,126.69 L469.84,126.7" fill="none" stroke="#ff0000" stroke-width="1.1" stroke-dasharray="1.1 2.6" opacity="0.9"/>
<path d="M464.36,188.9 L465.02,190.62 L465.68,192.33 L466.34,194.03 L467,195.68 L467.66,197.29 L468.32,198.84 L468.97,200.32 L469.63,201.71 L470.29,203 L470.95,204.18 L471.61,205.23 L472.27,206.15 L472.93,206.91 L473.59,207.51 L474.25,207.93 L474.91,208.16 L475.57,208.19 L476.23,208.02 L476.89,207.67 L477.54,207.16 L478.2,206.52 L478.86,205.76 L479.52,204.9 L480.18,203.96 L480.84,202.95 L481.5,201.91 L482.16,200.84 L482.82,199.78 L483.48,198.73 L484.14,197.71 L484.8,196.75 L485.46,195.87 L486.12,195.08 L486.77,194.38 L487.43,193.72 L488.09,193.1 L488.75,192.5 L489.41,191.92 L490.07,191.36 L490.73,190.8 L491.39,190.24 L492.05,189.68 L492.71,189.11 L493.37,188.52 L494.03,187.91 L494.69,187.27 L495.34,186.59 L496,185.88 L496.66,185.11 L497.32,184.29 L497.98,183.4 L498.64,182.43 L499.3,181.39 L499.96,180.28 L500.62,179.11 L501.28,177.89 L501.94,176.62 L502.6,175.3 L503.26,173.96 L503.91,172.58 L504.57,171.18 L505.23,169.76 L505.89,168.34 L506.55,166.91 L507.21,165.48 L507.87,164.05 L508.53,162.65 L509.19,161.26 L509.85,159.9 L510.51,158.54 L511.17,157.15 L511.83,155.74 L512.49,154.31 L513.14,152.86 L513.8,151.4 L514.46,149.94 L515.12,148.47 L515.78,147 L516.44,145.53 L517.1,144.07 L517.76,142.62 L518.42,141.18 L519.08,139.76 L519.74,138.36 L520.4,136.99 L521.06,135.64 L521.71,134.33 L522.37,133.04 L523.03,131.78 L523.69,130.54 L524.35,129.31 L525.01,128.1 L525.67,126.91 L526.33,125.73 L526.99,124.56 L527.65,123.4 L528.31,122.25 L528.97,121.1 L529.63,119.96 L530.28,118.83 L530.94,117.7 L531.6,116.57 L532.26,115.46 L532.92,114.35 L533.58,113.25 L534.24,112.16 L534.9,111.08 L535.56,110 L536.22,108.94 L536.88,107.88 L537.54,106.83 L538.2,105.79 L538.86,104.76 L539.51,103.74 L540.17,102.72 L540.83,101.72 L541.49,100.72 L542.15,99.72 L542.81,98.74 L543.47,97.76 L544.13,96.8 L544.79,95.84 L545.45,94.89 L546.11,93.95 L546.77,93.01 L547.43,92.09 L548.08,91.17 L548.74,90.26 L549.4,89.36 L550.06,88.46 L550.72,87.57 L551.38,86.69 L552.04,85.82 L552.7,84.96 L553.36,84.1 L554.02,83.25 L554.68,82.41 L555.34,81.58 L556,80.76 L556.65,79.94 L557.31,79.13 L557.97,78.32 L558.63,77.53 L559.29,76.74 L559.95,75.96 L560.61,75.18 L561.27,74.42 L561.93,73.66 L562.59,72.91 L563.25,72.16 L563.91,71.43 L564.57,70.7 L565.22,69.97 L565.88,69.26 L566.54,68.55 L567.2,67.84 L567.86,67.15 L568.52,66.46 L569.18,65.78 L569.84,65.1 L570.5,64.44 L571.16,63.77 L571.82,63.12 L572.48,62.47 L573.14,61.83 L573.8,61.2 L574.45,60.57 L575.11,59.95 L575.77,59.33 L576.43,58.72 L577.09,58.12 L577.75,57.52 L578.41,56.93 L579.07,56.35 L579.73,55.77 L580.39,55.2 L581.05,54.63 L581.71,54.07 L582.37,53.52 L583.02,52.97 L583.68,52.43 L584.34,51.89 L585,51.36 L585.66,50.83 L586.32,50.31 L586.98,49.8 L587.64,49.3 L588.3,48.79 L588.96,48.3 L589.62,47.81 L590.28,47.32 L590.94,46.84 L591.59,46.37 L592.25,45.9 L592.91,45.43 L593.57,44.97 L594.23,44.52 L594.89,44.07 L595.55,43.63 L596.21,43.19 L596.87,42.76 L597.53,42.33 L598.19,41.91 L598.85,41.49 L599.51,41.08 L600.17,40.67 L600.82,40.26 L601.48,39.86 L602.14,39.47 L602.8,39.08 L603.46,38.69 L604.12,38.31 L604.78,37.94 L605.44,37.57 L606.1,37.2 L606.76,36.84 L607.42,36.48 L608.08,36.12 L608.74,35.77 L609.39,35.43 L610.05,35.09 L610.71,34.75 L611.37,34.42 L612.03,34.09 L612.69,33.76 L613.35,33.44 L614.01,33.13 L614.67,32.81 L615.33,32.51 L615.99,32.2 L616.65,31.9 L617.31,31.6 L617.96,31.31 L618.62,31.02 L619.28,30.73 L619.94,30.45 L620.6,30.17 L621.26,29.89 L621.92,29.62 L622.58,29.35 L623.24,29.09 L623.9,28.83 L624.56,28.57 L625.22,28.31 L625.88,28.06 L626.54,27.81 L627.19,27.57 L627.85,27.32 L628.51,27.08 L629.17,26.85 L629.83,26.62 L630.49,26.39 L631.15,26.16 L631.81,25.94 L632.47,25.72 L633.13,25.5 L633.79,25.28 L634.45,25.07 L635.11,24.86 L635.76,24.66 L636.42,24.45 L637.08,24.25 L637.74,24.05 L638.4,23.86 L639.06,23.67 L639.72,23.48 L640.38,23.29 L641.04,23.1 L641.7,22.92 L642.36,22.74 L643.02,22.56 L643.68,22.39 L644.33,22.22 L644.99,22.05 L645.65,21.88 L646.31,21.71 L646.97,21.55 L647.63,21.39 L648.29,21.23 L648.95,21.07 L649.61,20.92 L650.27,20.77 L650.93,20.62 L651.59,20.47 L652.25,20.32 L652.9,20.18 L653.56,20.04 L654.22,19.9 L654.88,19.76 L655.54,19.63 L656.2,19.49 L656.86,19.36 L657.52,19.23 L658.18,19.1 L658.84,18.97 L659.5,18.85 L660.16,18.73 L660.82,18.61 L661.48,18.49 L662.13,18.37 L662.79,18.25 L663.45,18.14 L664.11,18.03 L664.77,17.92 L665.43,17.81 L666.09,17.7 L666.75,17.6 L667.41,17.49 L668.07,17.39 L668.73,17.29 L669.39,17.19 L670.05,17.09 L670.7,16.99 L671.36,16.9 L672.02,16.8 L672.68,16.71 L673.34,16.62 L674,16.53 L674.66,16.44 L675.32,16.35 L675.98,16.27 L676.64,16.18 L677.3,16.1 L677.96,16.02 L678.62,15.94 L679.27,15.86 L679.93,15.78 L680.59,15.7 L681.25,15.63 L681.91,15.55 L682.57,15.48 L683.23,15.41 L683.89,15.34 L684.55,15.27 L685.21,15.2 L685.87,15.13 L686.53,15.06 L687.19,15 L687.85,14.93 L688.5,14.87 L689.16,14.8 L689.82,14.74 L690.48,14.68 L691.14,14.62 L691.8,14.56 L692.46,14.5 L693.12,14.45 L693.78,14.39 L694.44,14.33 L695.1,14.28 L695.76,14.23 L696.42,14.17 L697.07,14.12 L697.73,14.07 L698.39,14.02 L699.05,13.97 L699.71,13.92 L700.37,13.87 L701.03,13.83 L701.69,13.78 L702.35,13.73 L703.01,13.69 L703.67,13.64 L704.33,13.6 L704.99,13.56 L705.64,13.52 L706.3,13.47 L706.96,13.43 L707.62,13.39 L708.28,13.35 L708.94,13.31 L709.6,13.28 L710.26,13.24 L710.92,13.2 L711.58,13.17 L712.24,13.13 L712.9,13.09 L713.56,13.06 L714.22,13.03 L714.87,12.99 L715.53,12.96 L716.19,12.93 L716.85,12.89 L717.51,12.86 L718.17,12.83 L718.83,12.8 L719.49,12.77 L720.15,12.74 L720.81,12.71 L721.47,12.69 L722.13,12.66 L722.79,12.63 L723.44,12.6 L724.1,12.58 L724.76,12.55 L725.42,12.53 L726.08,12.5 L726.74,12.48 L727.4,12.45" fill="none" stroke="#000000" stroke-width="0.85"/>
<path d="M442.99,11.1 L443.17,13.8 L443.35,16.48 L443.53,19.15 L443.71,21.81 L443.89,24.45 L444.07,27.08 L444.25,29.7 L444.42,32.3 L444.6,34.88 L444.78,37.46 L444.96,40.01 L445.14,42.55 L445.32,45.07 L445.5,47.57 L445.68,50.06 L445.86,52.53 L446.04,54.97 L446.22,57.4 L446.4,59.81 L446.58,62.2 L446.76,64.57 L446.94,66.92 L447.12,69.25 L447.3,71.55 L447.48,73.83 L447.66,76.09 L447.84,78.33 L448.02,80.54 L448.2,82.73 L448.38,84.89 L448.56,87.03 L448.74,89.14 L448.91,91.23 L449.09,93.29 L449.27,95.32 L449.45,97.33 L449.63,99.31 L449.81,101.26 L449.99,103.18 L450.17,105.07 L450.35,106.93 L450.53,108.77 L450.71,110.57 L450.89,112.34 L451.07,114.08 L451.25,115.79 L451.43,117.46 L451.61,119.1 L451.79,120.71 L451.97,122.29 L452.15,123.83 L452.33,125.34 L452.51,126.81 L452.69,128.25 L452.87,129.65 L453.05,131.01 L453.23,132.34 L453.4,133.63 L453.58,134.9 L453.76,136.16 L453.94,137.41 L454.12,138.64 L454.3,139.87 L454.48,141.09 L454.66,142.3 L454.84,143.49 L455.02,144.68 L455.2,145.85 L455.38,147.02 L455.56,148.17 L455.74,149.31 L455.92,150.44 L456.1,151.56 L456.28,152.67 L456.46,153.77 L456.64,154.86 L456.82,155.93 L457,156.99 L457.18,158.04 L457.36,159.08 L457.54,160.1 L457.71,161.12 L457.89,162.12 L458.07,163.11 L458.25,164.08 L458.43,165.04 L458.61,165.99 L458.79,166.93 L458.97,167.85 L459.15,168.76 L459.33,169.66 L459.51,170.55 L459.69,171.42 L459.87,172.27 L460.05,173.11 L460.23,173.94 L460.41,174.76 L460.59,175.56 L460.77,176.34 L460.95,177.12 L461.13,177.87 L461.31,178.62 L461.49,179.34 L461.67,180.06 L461.85,180.76 L462.03,181.44 L462.2,182.11 L462.38,182.76 L462.56,183.4 L462.74,184.02 L462.92,184.63 L463.1,185.22 L463.28,185.79 L463.46,186.35 L463.64,186.89 L463.82,187.42 L464,187.93 L464.18,188.42 L464.36,188.9" fill="none" stroke="#000000" stroke-width="1.1" stroke-dasharray="1.1 2.6" opacity="0.9"/>
<path d="M469.84,140.5 L470.49,142.43 L471.13,144.1 L471.78,145.58 L472.42,146.93 L473.07,148.2 L473.71,149.47 L474.36,150.8 L475,152.24 L475.65,153.88 L476.3,155.91 L476.94,158.19 L477.59,160.56 L478.23,162.85 L478.88,164.92 L479.52,166.59 L480.17,167.71 L480.81,168.1 L481.46,168.07 L482.1,168 L482.75,167.9 L483.4,167.78 L484.04,167.66 L484.69,167.54 L485.33,167.46 L485.98,167.41 L486.62,167.46 L487.27,167.83 L487.91,168.47 L488.56,169.28 L489.21,170.15 L489.85,171 L490.5,171.73 L491.14,172.22 L491.79,172.4 L492.43,172.09 L493.08,171.32 L493.72,170.22 L494.37,168.93 L495.02,167.6 L495.66,166.36 L496.31,165.35 L496.95,164.72 L497.6,164.52 L498.24,164.42 L498.89,164.34 L499.53,164.29 L500.18,164.24 L500.82,164.19 L501.47,164.12 L502.12,164.02 L502.76,163.89 L503.41,163.45 L504.05,162.59 L504.7,161.39 L505.34,159.97 L505.99,158.41 L506.63,156.83 L507.28,155.33 L507.93,153.99 L508.57,152.88 L509.22,151.82 L509.86,150.78 L510.51,149.77 L511.15,148.77 L511.8,147.79 L512.44,146.83 L513.09,145.89 L513.73,144.95 L514.38,144.03 L515.03,143.12 L515.67,142.21 L516.32,141.3 L516.96,140.4 L517.61,139.49 L518.25,138.59 L518.9,137.68 L519.54,136.77 L520.19,135.84 L520.84,134.91 L521.48,133.96 L522.13,133.01 L522.77,132.04 L523.42,131.07 L524.06,130.1 L524.71,129.12 L525.35,128.15 L526,127.17 L526.65,126.19 L527.29,125.22 L527.94,124.24 L528.58,123.27 L529.23,122.3 L529.87,121.34 L530.52,120.38 L531.16,119.42 L531.81,118.46 L532.45,117.5 L533.1,116.55 L533.75,115.59 L534.39,114.64 L535.04,113.69 L535.68,112.75 L536.33,111.81 L536.97,110.87 L537.62,109.94 L538.26,109.01 L538.91,108.09 L539.56,107.17 L540.2,106.25 L540.85,105.34 L541.49,104.43 L542.14,103.53 L542.78,102.63 L543.43,101.73 L544.07,100.84 L544.72,99.95 L545.37,99.07 L546.01,98.2 L546.66,97.33 L547.3,96.47 L547.95,95.61 L548.59,94.76 L549.24,93.91 L549.88,93.07 L550.53,92.23 L551.17,91.4 L551.82,90.57 L552.47,89.75 L553.11,88.94 L553.76,88.13 L554.4,87.33 L555.05,86.54 L555.69,85.75 L556.34,84.97 L556.98,84.19 L557.63,83.42 L558.28,82.66 L558.92,81.9 L559.57,81.14 L560.21,80.4 L560.86,79.65 L561.5,78.92 L562.15,78.19 L562.79,77.47 L563.44,76.75 L564.09,76.04 L564.73,75.34 L565.38,74.64 L566.02,73.95 L566.67,73.26 L567.31,72.57 L567.96,71.9 L568.6,71.23 L569.25,70.56 L569.89,69.9 L570.54,69.25 L571.19,68.6 L571.83,67.96 L572.48,67.33 L573.12,66.69 L573.77,66.07 L574.41,65.45 L575.06,64.83 L575.7,64.22 L576.35,63.62 L577,63.02 L577.64,62.43 L578.29,61.84 L578.93,61.26 L579.58,60.68 L580.22,60.11 L580.87,59.54 L581.51,58.98 L582.16,58.42 L582.8,57.87 L583.45,57.32 L584.1,56.78 L584.74,56.24 L585.39,55.71 L586.03,55.19 L586.68,54.66 L587.32,54.15 L587.97,53.64 L588.61,53.13 L589.26,52.63 L589.91,52.13 L590.55,51.64 L591.2,51.15 L591.84,50.67 L592.49,50.19 L593.13,49.71 L593.78,49.25 L594.42,48.78 L595.07,48.32 L595.72,47.87 L596.36,47.42 L597.01,46.97 L597.65,46.53 L598.3,46.09 L598.94,45.66 L599.59,45.23 L600.23,44.8 L600.88,44.38 L601.52,43.97 L602.17,43.55 L602.82,43.15 L603.46,42.74 L604.11,42.34 L604.75,41.95 L605.4,41.56 L606.04,41.17 L606.69,40.79 L607.33,40.41 L607.98,40.03 L608.63,39.66 L609.27,39.3 L609.92,38.93 L610.56,38.57 L611.21,38.22 L611.85,37.87 L612.5,37.52 L613.14,37.18 L613.79,36.84 L614.44,36.5 L615.08,36.17 L615.73,35.84 L616.37,35.51 L617.02,35.19 L617.66,34.87 L618.31,34.56 L618.95,34.25 L619.6,33.94 L620.24,33.63 L620.89,33.33 L621.54,33.04 L622.18,32.74 L622.83,32.45 L623.47,32.17 L624.12,31.88 L624.76,31.6 L625.41,31.33 L626.05,31.05 L626.7,30.78 L627.35,30.51 L627.99,30.25 L628.64,29.99 L629.28,29.73 L629.93,29.48 L630.57,29.22 L631.22,28.98 L631.86,28.73 L632.51,28.49 L633.15,28.25 L633.8,28.01 L634.45,27.78 L635.09,27.54 L635.74,27.32 L636.38,27.09 L637.03,26.87 L637.67,26.65 L638.32,26.43 L638.96,26.22 L639.61,26.01 L640.26,25.8 L640.9,25.59 L641.55,25.38 L642.19,25.18 L642.84,24.98 L643.48,24.79 L644.13,24.59 L644.77,24.4 L645.42,24.21 L646.07,24.03 L646.71,23.84 L647.36,23.66 L648,23.48 L648.65,23.31 L649.29,23.13 L649.94,22.96 L650.58,22.79 L651.23,22.62 L651.87,22.45 L652.52,22.29 L653.17,22.13 L653.81,21.97 L654.46,21.81 L655.1,21.66 L655.75,21.51 L656.39,21.35 L657.04,21.2 L657.68,21.06 L658.33,20.91 L658.98,20.77 L659.62,20.63 L660.27,20.49 L660.91,20.35 L661.56,20.22 L662.2,20.08 L662.85,19.95 L663.49,19.82 L664.14,19.69 L664.79,19.57 L665.43,19.44 L666.08,19.32 L666.72,19.2 L667.37,19.08 L668.01,18.96 L668.66,18.84 L669.3,18.73 L669.95,18.61 L670.59,18.5 L671.24,18.39 L671.89,18.29 L672.53,18.18 L673.18,18.07 L673.82,17.97 L674.47,17.87 L675.11,17.77 L675.76,17.67 L676.4,17.57 L677.05,17.47 L677.7,17.38 L678.34,17.28 L678.99,17.19 L679.63,17.1 L680.28,17.01 L680.92,16.92 L681.57,16.83 L682.21,16.75 L682.86,16.66 L683.51,16.58 L684.15,16.5 L684.8,16.42 L685.44,16.34 L686.09,16.26 L686.73,16.18 L687.38,16.11 L688.02,16.03 L688.67,15.96 L689.31,15.89 L689.96,15.82 L690.61,15.74 L691.25,15.68 L691.9,15.61 L692.54,15.54 L693.19,15.47 L693.83,15.41 L694.48,15.34 L695.12,15.28 L695.77,15.22 L696.42,15.16 L697.06,15.1 L697.71,15.04 L698.35,14.98 L699,14.92 L699.64,14.87 L700.29,14.81 L700.93,14.76 L701.58,14.7 L702.22,14.65 L702.87,14.6 L703.52,14.55 L704.16,14.49 L704.81,14.44 L705.45,14.4 L706.1,14.35 L706.74,14.3 L707.39,14.25 L708.03,14.21 L708.68,14.16 L709.33,14.12 L709.97,14.07 L710.62,14.03 L711.26,13.99 L711.91,13.95 L712.55,13.91 L713.2,13.86 L713.84,13.82 L714.49,13.79 L715.14,13.75 L715.78,13.71 L716.43,13.67 L717.07,13.63 L717.72,13.6 L718.36,13.56 L719.01,13.53 L719.65,13.49 L720.3,13.46 L720.94,13.43 L721.59,13.39 L722.24,13.36 L722.88,13.33 L723.53,13.3 L724.17,13.27 L724.82,13.24 L725.46,13.21 L726.11,13.18 L726.75,13.15 L727.4,13.12" fill="none" stroke="#0000ff" stroke-width="1.25"/>
<path d="M452.58,11.1 L452.72,11.26 L452.87,11.5 L453.01,11.79 L453.16,12.13 L453.3,12.52 L453.45,12.95 L453.59,13.51 L453.74,14.2 L453.88,15.02 L454.03,15.97 L454.17,17.03 L454.32,18.21 L454.46,19.49 L454.61,20.87 L454.75,22.35 L454.9,23.9 L455.04,25.54 L455.19,27.24 L455.33,29.01 L455.48,30.84 L455.62,32.72 L455.77,34.65 L455.91,36.61 L456.06,38.6 L456.2,40.62 L456.35,42.65 L456.49,44.7 L456.64,46.75 L456.78,48.8 L456.93,50.83 L457.07,52.86 L457.22,54.86 L457.36,56.83 L457.51,58.76 L457.66,60.65 L457.8,62.5 L457.95,64.28 L458.09,66.01 L458.24,67.66 L458.38,69.24 L458.53,70.74 L458.67,72.14 L458.82,73.45 L458.96,74.67 L459.11,75.86 L459.25,77.03 L459.4,78.19 L459.54,79.32 L459.69,80.44 L459.83,81.53 L459.98,82.62 L460.12,83.68 L460.27,84.73 L460.41,85.77 L460.56,86.79 L460.7,87.8 L460.85,88.8 L460.99,89.78 L461.14,90.75 L461.28,91.71 L461.43,92.66 L461.57,93.6 L461.72,94.53 L461.86,95.45 L462.01,96.37 L462.15,97.27 L462.3,98.17 L462.44,99.07 L462.59,99.96 L462.73,100.84 L462.88,101.72 L463.02,102.59 L463.17,103.47 L463.31,104.34 L463.46,105.2 L463.6,106.07 L463.75,106.94 L463.89,107.8 L464.04,108.67 L464.18,109.54 L464.33,110.41 L464.47,111.28 L464.62,112.16 L464.76,113.05 L464.91,113.94 L465.05,114.84 L465.2,115.75 L465.34,116.65 L465.49,117.56 L465.63,118.47 L465.78,119.38 L465.92,120.28 L466.07,121.19 L466.21,122.09 L466.36,122.98 L466.5,123.88 L466.65,124.76 L466.79,125.64 L466.94,126.51 L467.08,127.37 L467.23,128.21 L467.37,129.05 L467.52,129.87 L467.66,130.69 L467.81,131.48 L467.95,132.26 L468.1,133.02 L468.24,133.77 L468.39,134.5 L468.53,135.2 L468.68,135.89 L468.82,136.55 L468.97,137.19 L469.11,137.81 L469.26,138.4 L469.4,138.97 L469.55,139.51 L469.69,140.02 L469.84,140.5" fill="none" stroke="#0000ff" stroke-width="1.1" stroke-dasharray="1.1 2.6" opacity="0.9"/>
<path d="M475.32,153 L475.95,153.76 L476.58,154.55 L477.22,155.33 L477.85,156.07 L478.48,156.73 L479.11,157.29 L479.74,157.71 L480.37,157.95 L481.01,157.99 L481.64,157.9 L482.27,157.71 L482.9,157.45 L483.53,157.13 L484.16,156.79 L484.8,156.44 L485.43,156.1 L486.06,155.79 L486.69,155.54 L487.32,155.31 L487.96,155.11 L488.59,154.9 L489.22,154.69 L489.85,154.46 L490.48,154.19 L491.11,153.88 L491.75,153.51 L492.38,152.95 L493.01,152.12 L493.64,151.09 L494.27,149.93 L494.91,148.69 L495.54,147.45 L496.17,146.27 L496.8,145.22 L497.43,144.36 L498.06,143.63 L498.7,142.99 L499.33,142.39 L499.96,141.81 L500.59,141.23 L501.22,140.6 L501.85,139.91 L502.49,139.12 L503.12,138.19 L503.75,137.04 L504.38,135.73 L505.01,134.29 L505.65,132.78 L506.28,131.26 L506.91,129.76 L507.54,128.34 L508.17,127.05 L508.8,125.86 L509.44,124.7 L510.07,123.55 L510.7,122.43 L511.33,121.32 L511.96,120.24 L512.59,119.17 L513.23,118.12 L513.86,117.08 L514.49,116.05 L515.12,115.03 L515.75,114.03 L516.39,113.03 L517.02,112.04 L517.65,111.05 L518.28,110.07 L518.91,109.09 L519.54,108.11 L520.18,107.13 L520.81,106.15 L521.44,105.16 L522.07,104.18 L522.7,103.19 L523.34,102.21 L523.97,101.23 L524.6,100.26 L525.23,99.3 L525.86,98.34 L526.49,97.39 L527.13,96.45 L527.76,95.51 L528.39,94.58 L529.02,93.65 L529.65,92.74 L530.28,91.83 L530.92,90.92 L531.55,90.02 L532.18,89.13 L532.81,88.24 L533.44,87.36 L534.08,86.49 L534.71,85.62 L535.34,84.76 L535.97,83.9 L536.6,83.06 L537.23,82.22 L537.87,81.39 L538.5,80.56 L539.13,79.74 L539.76,78.93 L540.39,78.13 L541.03,77.33 L541.66,76.53 L542.29,75.75 L542.92,74.97 L543.55,74.19 L544.18,73.43 L544.82,72.67 L545.45,71.92 L546.08,71.17 L546.71,70.44 L547.34,69.71 L547.97,68.98 L548.61,68.26 L549.24,67.55 L549.87,66.85 L550.5,66.15 L551.13,65.46 L551.77,64.77 L552.4,64.09 L553.03,63.42 L553.66,62.76 L554.29,62.1 L554.92,61.45 L555.56,60.81 L556.19,60.17 L556.82,59.54 L557.45,58.91 L558.08,58.29 L558.71,57.68 L559.35,57.07 L559.98,56.47 L560.61,55.88 L561.24,55.29 L561.87,54.71 L562.51,54.14 L563.14,53.57 L563.77,53.01 L564.4,52.45 L565.03,51.9 L565.66,51.36 L566.3,50.82 L566.93,50.29 L567.56,49.76 L568.19,49.24 L568.82,48.73 L569.46,48.22 L570.09,47.72 L570.72,47.22 L571.35,46.73 L571.98,46.25 L572.61,45.77 L573.25,45.29 L573.88,44.82 L574.51,44.36 L575.14,43.9 L575.77,43.45 L576.4,43 L577.04,42.56 L577.67,42.13 L578.3,41.69 L578.93,41.27 L579.56,40.85 L580.2,40.44 L580.83,40.03 L581.46,39.62 L582.09,39.22 L582.72,38.83 L583.35,38.44 L583.99,38.05 L584.62,37.67 L585.25,37.29 L585.88,36.92 L586.51,36.55 L587.14,36.19 L587.78,35.84 L588.41,35.48 L589.04,35.13 L589.67,34.79 L590.3,34.45 L590.94,34.11 L591.57,33.78 L592.2,33.45 L592.83,33.13 L593.46,32.81 L594.09,32.5 L594.73,32.19 L595.36,31.88 L595.99,31.58 L596.62,31.28 L597.25,30.98 L597.89,30.69 L598.52,30.4 L599.15,30.12 L599.78,29.84 L600.41,29.56 L601.04,29.29 L601.68,29.02 L602.31,28.75 L602.94,28.49 L603.57,28.23 L604.2,27.98 L604.83,27.72 L605.47,27.48 L606.1,27.23 L606.73,26.99 L607.36,26.75 L607.99,26.51 L608.63,26.28 L609.26,26.05 L609.89,25.82 L610.52,25.6 L611.15,25.38 L611.78,25.16 L612.42,24.95 L613.05,24.73 L613.68,24.53 L614.31,24.32 L614.94,24.12 L615.58,23.92 L616.21,23.72 L616.84,23.52 L617.47,23.33 L618.1,23.14 L618.73,22.95 L619.37,22.77 L620,22.59 L620.63,22.41 L621.26,22.23 L621.89,22.06 L622.52,21.88 L623.16,21.71 L623.79,21.55 L624.42,21.38 L625.05,21.22 L625.68,21.06 L626.32,20.9 L626.95,20.74 L627.58,20.59 L628.21,20.44 L628.84,20.29 L629.47,20.14 L630.11,20 L630.74,19.86 L631.37,19.72 L632,19.58 L632.63,19.44 L633.26,19.3 L633.9,19.17 L634.53,19.04 L635.16,18.91 L635.79,18.78 L636.42,18.66 L637.06,18.53 L637.69,18.41 L638.32,18.29 L638.95,18.17 L639.58,18.06 L640.21,17.94 L640.85,17.83 L641.48,17.72 L642.11,17.61 L642.74,17.5 L643.37,17.39 L644.01,17.29 L644.64,17.19 L645.27,17.08 L645.9,16.98 L646.53,16.89 L647.16,16.79 L647.8,16.69 L648.43,16.6 L649.06,16.5 L649.69,16.41 L650.32,16.32 L650.95,16.23 L651.59,16.15 L652.22,16.06 L652.85,15.98 L653.48,15.89 L654.11,15.81 L654.75,15.73 L655.38,15.65 L656.01,15.57 L656.64,15.49 L657.27,15.42 L657.9,15.34 L658.54,15.27 L659.17,15.2 L659.8,15.13 L660.43,15.06 L661.06,14.99 L661.69,14.92 L662.33,14.85 L662.96,14.79 L663.59,14.72 L664.22,14.66 L664.85,14.59 L665.49,14.53 L666.12,14.47 L666.75,14.41 L667.38,14.35 L668.01,14.29 L668.64,14.24 L669.28,14.18 L669.91,14.13 L670.54,14.07 L671.17,14.02 L671.8,13.97 L672.44,13.91 L673.07,13.86 L673.7,13.81 L674.33,13.76 L674.96,13.72 L675.59,13.67 L676.23,13.62 L676.86,13.58 L677.49,13.53 L678.12,13.49 L678.75,13.44 L679.38,13.4 L680.02,13.36 L680.65,13.32 L681.28,13.27 L681.91,13.23 L682.54,13.19 L683.18,13.16 L683.81,13.12 L684.44,13.08 L685.07,13.04 L685.7,13.01 L686.33,12.97 L686.97,12.94 L687.6,12.9 L688.23,12.87 L688.86,12.83 L689.49,12.8 L690.13,12.77 L690.76,12.74 L691.39,12.71 L692.02,12.68 L692.65,12.65 L693.28,12.62 L693.92,12.59 L694.55,12.56 L695.18,12.53 L695.81,12.5 L696.44,12.48 L697.07,12.45 L697.71,12.42 L698.34,12.4 L698.97,12.37 L699.6,12.35 L700.23,12.32 L700.87,12.3 L701.5,12.28 L702.13,12.25 L702.76,12.23 L703.39,12.21 L704.02,12.19 L704.66,12.17 L705.29,12.15 L705.92,12.12 L706.55,12.1 L707.18,12.08 L707.81,12.06 L708.45,12.05 L709.08,12.03 L709.71,12.01 L710.34,11.99 L710.97,11.97 L711.61,11.95 L712.24,11.94 L712.87,11.92 L713.5,11.9 L714.13,11.89 L714.76,11.87 L715.4,11.86 L716.03,11.84 L716.66,11.83 L717.29,11.81 L717.92,11.8 L718.56,11.78 L719.19,11.77 L719.82,11.75 L720.45,11.74 L721.08,11.73 L721.71,11.72 L722.35,11.7 L722.98,11.69 L723.61,11.68 L724.24,11.67 L724.87,11.65 L725.5,11.64 L726.14,11.63 L726.77,11.62 L727.4,11.61" fill="none" stroke="#008080" stroke-width="1.25"/>
<path d="M451.21,11.1 L451.41,13.02 L451.61,14.94 L451.82,16.87 L452.02,18.8 L452.22,20.74 L452.42,22.69 L452.63,24.65 L452.83,26.61 L453.03,28.58 L453.23,30.57 L453.44,32.56 L453.64,34.6 L453.84,36.68 L454.04,38.79 L454.25,40.95 L454.45,43.13 L454.65,45.34 L454.86,47.57 L455.06,49.81 L455.26,52.07 L455.46,54.33 L455.67,56.58 L455.87,58.83 L456.07,61.07 L456.27,63.29 L456.48,65.49 L456.68,67.67 L456.88,69.81 L457.08,71.91 L457.29,73.97 L457.49,75.98 L457.69,77.94 L457.89,79.85 L458.1,81.69 L458.3,83.46 L458.5,85.15 L458.71,86.77 L458.91,88.3 L459.11,89.78 L459.31,91.23 L459.52,92.64 L459.72,94.03 L459.92,95.38 L460.12,96.7 L460.33,98 L460.53,99.26 L460.73,100.51 L460.93,101.73 L461.14,102.93 L461.34,104.1 L461.54,105.26 L461.74,106.4 L461.95,107.52 L462.15,108.63 L462.35,109.72 L462.55,110.79 L462.76,111.86 L462.96,112.91 L463.16,113.96 L463.37,114.99 L463.57,116.02 L463.77,117.04 L463.97,118.06 L464.18,119.08 L464.38,120.09 L464.58,121.11 L464.78,122.14 L464.99,123.17 L465.19,124.21 L465.39,125.25 L465.59,126.29 L465.8,127.33 L466,128.36 L466.2,129.39 L466.4,130.4 L466.61,131.41 L466.81,132.4 L467.01,133.37 L467.22,134.33 L467.42,135.26 L467.62,136.17 L467.82,137.06 L468.03,137.92 L468.23,138.75 L468.43,139.54 L468.63,140.3 L468.84,141.03 L469.04,141.72 L469.24,142.36 L469.44,142.96 L469.65,143.52 L469.85,144.02 L470.05,144.5 L470.25,144.96 L470.46,145.41 L470.66,145.84 L470.86,146.26 L471.06,146.66 L471.27,147.06 L471.47,147.44 L471.67,147.81 L471.88,148.17 L472.08,148.51 L472.28,148.85 L472.48,149.18 L472.69,149.5 L472.89,149.81 L473.09,150.11 L473.29,150.4 L473.5,150.69 L473.7,150.97 L473.9,151.24 L474.1,151.51 L474.31,151.77 L474.51,152.02 L474.71,152.27 L474.91,152.52 L475.12,152.76 L475.32,153" fill="none" stroke="#008080" stroke-width="1.1" stroke-dasharray="1.1 2.6" opacity="0.9"/>
<path d="M464.36,151.3 L465.02,152.86 L465.68,154.32 L466.34,155.68 L467,156.92 L467.66,158.05 L468.32,159.06 L468.97,159.94 L469.63,160.69 L470.29,161.34 L470.95,161.98 L471.61,162.6 L472.27,163.17 L472.93,163.68 L473.59,164.09 L474.25,164.4 L474.91,164.57 L475.57,164.6 L476.23,164.55 L476.89,164.44 L477.54,164.29 L478.2,164.1 L478.86,163.88 L479.52,163.63 L480.18,163.37 L480.84,163.08 L481.5,162.7 L482.16,162.16 L482.82,161.5 L483.48,160.75 L484.14,159.93 L484.8,159.08 L485.46,158.23 L486.12,157.4 L486.77,156.6 L487.43,155.78 L488.09,154.93 L488.75,154.05 L489.41,153.15 L490.07,152.24 L490.73,151.3 L491.39,150.34 L492.05,149.37 L492.71,148.35 L493.37,147.29 L494.03,146.2 L494.69,145.1 L495.34,143.99 L496,142.89 L496.66,141.81 L497.32,140.77 L497.98,139.76 L498.64,138.76 L499.3,137.77 L499.96,136.79 L500.62,135.82 L501.28,134.85 L501.94,133.87 L502.6,132.89 L503.26,131.9 L503.91,130.92 L504.57,129.95 L505.23,128.98 L505.89,128 L506.55,127.01 L507.21,125.99 L507.87,124.94 L508.53,123.85 L509.19,122.73 L509.85,121.57 L510.51,120.39 L511.17,119.18 L511.83,117.95 L512.49,116.7 L513.14,115.43 L513.8,114.16 L514.46,112.87 L515.12,111.58 L515.78,110.28 L516.44,108.99 L517.1,107.71 L517.76,106.43 L518.42,105.16 L519.08,103.91 L519.74,102.67 L520.4,101.46 L521.06,100.27 L521.71,99.11 L522.37,97.98 L523.03,96.86 L523.69,95.76 L524.35,94.66 L525.01,93.58 L525.67,92.51 L526.33,91.45 L526.99,90.4 L527.65,89.36 L528.31,88.33 L528.97,87.31 L529.63,86.3 L530.28,85.29 L530.94,84.3 L531.6,83.31 L532.26,82.33 L532.92,81.35 L533.58,80.39 L534.24,79.43 L534.9,78.49 L535.56,77.55 L536.22,76.63 L536.88,75.71 L537.54,74.81 L538.2,73.92 L538.86,73.05 L539.51,72.18 L540.17,71.32 L540.83,70.47 L541.49,69.63 L542.15,68.8 L542.81,67.98 L543.47,67.17 L544.13,66.37 L544.79,65.58 L545.45,64.8 L546.11,64.04 L546.77,63.28 L547.43,62.53 L548.08,61.8 L548.74,61.07 L549.4,60.35 L550.06,59.64 L550.72,58.94 L551.38,58.25 L552.04,57.57 L552.7,56.89 L553.36,56.23 L554.02,55.58 L554.68,54.93 L555.34,54.3 L556,53.67 L556.65,53.06 L557.31,52.44 L557.97,51.84 L558.63,51.25 L559.29,50.66 L559.95,50.08 L560.61,49.51 L561.27,48.95 L561.93,48.4 L562.59,47.85 L563.25,47.32 L563.91,46.79 L564.57,46.27 L565.22,45.75 L565.88,45.24 L566.54,44.74 L567.2,44.25 L567.86,43.76 L568.52,43.28 L569.18,42.8 L569.84,42.34 L570.5,41.88 L571.16,41.43 L571.82,40.98 L572.48,40.54 L573.14,40.11 L573.8,39.68 L574.45,39.26 L575.11,38.85 L575.77,38.44 L576.43,38.03 L577.09,37.64 L577.75,37.25 L578.41,36.86 L579.07,36.48 L579.73,36.1 L580.39,35.73 L581.05,35.37 L581.71,35.01 L582.37,34.65 L583.02,34.3 L583.68,33.96 L584.34,33.61 L585,33.28 L585.66,32.95 L586.32,32.62 L586.98,32.3 L587.64,31.98 L588.3,31.66 L588.96,31.36 L589.62,31.05 L590.28,30.75 L590.94,30.45 L591.59,30.16 L592.25,29.87 L592.91,29.58 L593.57,29.3 L594.23,29.02 L594.89,28.74 L595.55,28.47 L596.21,28.21 L596.87,27.94 L597.53,27.68 L598.19,27.43 L598.85,27.17 L599.51,26.92 L600.17,26.67 L600.82,26.43 L601.48,26.19 L602.14,25.95 L602.8,25.72 L603.46,25.49 L604.12,25.26 L604.78,25.03 L605.44,24.81 L606.1,24.59 L606.76,24.38 L607.42,24.16 L608.08,23.95 L608.74,23.74 L609.39,23.54 L610.05,23.33 L610.71,23.13 L611.37,22.94 L612.03,22.74 L612.69,22.55 L613.35,22.36 L614.01,22.18 L614.67,21.99 L615.33,21.81 L615.99,21.63 L616.65,21.45 L617.31,21.28 L617.96,21.1 L618.62,20.93 L619.28,20.76 L619.94,20.6 L620.6,20.43 L621.26,20.27 L621.92,20.11 L622.58,19.96 L623.24,19.8 L623.9,19.65 L624.56,19.5 L625.22,19.35 L625.88,19.2 L626.54,19.06 L627.19,18.92 L627.85,18.78 L628.51,18.64 L629.17,18.5 L629.83,18.37 L630.49,18.23 L631.15,18.1 L631.81,17.97 L632.47,17.85 L633.13,17.72 L633.79,17.6 L634.45,17.47 L635.11,17.35 L635.76,17.23 L636.42,17.12 L637.08,17 L637.74,16.89 L638.4,16.78 L639.06,16.67 L639.72,16.56 L640.38,16.45 L641.04,16.35 L641.7,16.24 L642.36,16.14 L643.02,16.04 L643.68,15.94 L644.33,15.85 L644.99,15.75 L645.65,15.66 L646.31,15.56 L646.97,15.47 L647.63,15.38 L648.29,15.29 L648.95,15.21 L649.61,15.12 L650.27,15.04 L650.93,14.95 L651.59,14.87 L652.25,14.79 L652.9,14.71 L653.56,14.63 L654.22,14.56 L654.88,14.48 L655.54,14.41 L656.2,14.34 L656.86,14.27 L657.52,14.2 L658.18,14.13 L658.84,14.06 L659.5,13.99 L660.16,13.93 L660.82,13.86 L661.48,13.8 L662.13,13.74 L662.79,13.68 L663.45,13.62 L664.11,13.56 L664.77,13.5 L665.43,13.44 L666.09,13.39 L666.75,13.33 L667.41,13.28 L668.07,13.23 L668.73,13.18 L669.39,13.13 L670.05,13.08 L670.7,13.03 L671.36,12.98 L672.02,12.93 L672.68,12.89 L673.34,12.84 L674,12.8 L674.66,12.76 L675.32,12.71 L675.98,12.67 L676.64,12.63 L677.3,12.59 L677.96,12.55 L678.62,12.52 L679.27,12.48 L679.93,12.44 L680.59,12.41 L681.25,12.37 L681.91,12.34 L682.57,12.3 L683.23,12.27 L683.89,12.24 L684.55,12.21 L685.21,12.18 L685.87,12.15 L686.53,12.12 L687.19,12.09 L687.85,12.06 L688.5,12.04 L689.16,12.01 L689.82,11.98 L690.48,11.96 L691.14,11.93 L691.8,11.91 L692.46,11.88 L693.12,11.86 L693.78,11.84 L694.44,11.82 L695.1,11.8 L695.76,11.78 L696.42,11.76 L697.07,11.74 L697.73,11.72 L698.39,11.7 L699.05,11.68 L699.71,11.66 L700.37,11.64 L701.03,11.63 L701.69,11.61 L702.35,11.59 L703.01,11.58 L703.67,11.56 L704.33,11.55 L704.99,11.53 L705.64,11.52 L706.3,11.51 L706.96,11.49 L707.62,11.48 L708.28,11.47 L708.94,11.45 L709.6,11.44 L710.26,11.43 L710.92,11.42 L711.58,11.41 L712.24,11.4 L712.9,11.39 L713.56,11.38 L714.22,11.37 L714.87,11.36 L715.53,11.35 L716.19,11.34 L716.85,11.33 L717.51,11.32 L718.17,11.32 L718.83,11.31 L719.49,11.3 L720.15,11.29 L720.81,11.29 L721.47,11.28 L722.13,11.27 L722.79,11.27 L723.44,11.26 L724.1,11.25 L724.76,11.25 L725.42,11.24 L726.08,11.24 L726.74,11.23 L727.4,11.23" fill="none" stroke="#ff00ff" stroke-width="1.25"/>
<path d="M446.82,11.1 L446.97,13.3 L447.12,15.49 L447.27,17.67 L447.41,19.82 L447.56,21.96 L447.71,24.09 L447.86,26.2 L448,28.29 L448.15,30.36 L448.3,32.42 L448.44,34.46 L448.59,36.48 L448.74,38.48 L448.89,40.47 L449.03,42.43 L449.18,44.38 L449.33,46.31 L449.48,48.22 L449.62,50.11 L449.77,51.98 L449.92,53.83 L450.07,55.66 L450.21,57.47 L450.36,59.25 L450.51,61.02 L450.66,62.77 L450.8,64.49 L450.95,66.19 L451.1,67.87 L451.24,69.53 L451.39,71.17 L451.54,72.78 L451.69,74.37 L451.83,75.94 L451.98,77.48 L452.13,79.01 L452.28,80.5 L452.42,81.97 L452.57,83.42 L452.72,84.84 L452.87,86.24 L453.01,87.62 L453.16,88.96 L453.31,90.29 L453.46,91.58 L453.6,92.86 L453.75,94.13 L453.9,95.38 L454.04,96.62 L454.19,97.84 L454.34,99.05 L454.49,100.25 L454.63,101.43 L454.78,102.6 L454.93,103.75 L455.08,104.88 L455.22,106.01 L455.37,107.12 L455.52,108.21 L455.67,109.29 L455.81,110.35 L455.96,111.4 L456.11,112.44 L456.26,113.46 L456.4,114.47 L456.55,115.46 L456.7,116.44 L456.84,117.4 L456.99,118.35 L457.14,119.28 L457.29,120.2 L457.43,121.11 L457.58,122 L457.73,122.87 L457.88,123.73 L458.02,124.58 L458.17,125.41 L458.32,126.22 L458.47,127.03 L458.61,127.81 L458.76,128.58 L458.91,129.34 L459.05,130.09 L459.2,130.83 L459.35,131.57 L459.5,132.31 L459.64,133.04 L459.79,133.76 L459.94,134.47 L460.09,135.18 L460.23,135.88 L460.38,136.58 L460.53,137.26 L460.68,137.94 L460.82,138.61 L460.97,139.27 L461.12,139.93 L461.27,140.57 L461.41,141.2 L461.56,141.82 L461.71,142.44 L461.85,143.04 L462,143.63 L462.15,144.21 L462.3,144.77 L462.44,145.33 L462.59,145.87 L462.74,146.4 L462.89,146.92 L463.03,147.42 L463.18,147.91 L463.33,148.39 L463.48,148.85 L463.62,149.3 L463.77,149.73 L463.92,150.15 L464.07,150.55 L464.21,150.93 L464.36,151.3" fill="none" stroke="#ff00ff" stroke-width="1.1" stroke-dasharray="1.1 2.6" opacity="0.9"/>
<rect x="439.89" y="13.05" width="5.1" height="5.1" fill="#808000"/>
<rect x="450.85" y="96.15" width="5.1" height="5.1" fill="#808000"/>
<rect x="456.33" y="111.85" width="5.1" height="5.1" fill="#808000"/>
<rect x="467.29" y="116.35" width="5.1" height="5.1" fill="#808000"/>
<rect x="472.77" y="111.85" width="5.1" height="5.1" fill="#808000"/>
<rect x="478.25" y="101.85" width="5.1" height="5.1" fill="#808000"/>
<rect x="483.73" y="93.95" width="5.1" height="5.1" fill="#808000"/>
<rect x="489.21" y="83.35" width="5.1" height="5.1" fill="#808000"/>
<rect x="494.69" y="75.05" width="5.1" height="5.1" fill="#808000"/>
<rect x="500.17" y="64.65" width="5.1" height="5.1" fill="#808000"/>
<rect x="505.65" y="57.25" width="5.1" height="5.1" fill="#808000"/>
<circle cx="453.4" cy="75.6" r="2.9" fill="#ff0000"/>
<circle cx="458.88" cy="107.2" r="2.9" fill="#ff0000"/>
<circle cx="469.84" cy="126.7" r="2.9" fill="#ff0000"/>
<circle cx="475.32" cy="125.1" r="2.9" fill="#ff0000"/>
<circle cx="480.8" cy="124" r="2.9" fill="#ff0000"/>
<circle cx="486.28" cy="116.7" r="2.9" fill="#ff0000"/>
<circle cx="491.76" cy="110" r="2.9" fill="#ff0000"/>
<circle cx="497.24" cy="103.7" r="2.9" fill="#ff0000"/>
<circle cx="502.72" cy="100.1" r="2.9" fill="#ff0000"/>
<circle cx="508.2" cy="90.4" r="2.9" fill="#ff0000"/>
<path d="M451.2,125.8H455.6M453.4,125.8V141.4M451.2,141.4H455.6" stroke="#777" stroke-width="0.9" fill="none"/>
<path d="M457.5,133.6 L451.9,130 L451.9,137.2Z" fill="#000000"/>
<path d="M462.16,181.1H466.56M464.36,181.1V196.7M462.16,196.7H466.56" stroke="#777" stroke-width="0.9" fill="none"/>
<path d="M468.46,188.9 L462.86,185.3 L462.86,192.5Z" fill="#000000"/>
<path d="M473.12,200.4H477.52M475.32,200.4V216M473.12,216H477.52" stroke="#777" stroke-width="0.9" fill="none"/>
<path d="M479.42,208.2 L473.82,204.6 L473.82,211.8Z" fill="#000000"/>
<path d="M484.08,187.1H488.48M486.28,187.1V202.7M484.08,202.7H488.48" stroke="#777" stroke-width="0.9" fill="none"/>
<path d="M490.38,194.9 L484.78,191.3 L484.78,198.5Z" fill="#000000"/>
<path d="M495.04,176.6H499.44M497.24,176.6V192.2M495.04,192.2H499.44" stroke="#777" stroke-width="0.9" fill="none"/>
<path d="M501.34,184.4 L495.74,180.8 L495.74,188Z" fill="#000000"/>
<path d="M453.4,9.55 L456.59,15.71 L450.21,15.71Z" fill="#0000ff"/>
<path d="M458.88,70.75 L462.07,76.92 L455.69,76.92Z" fill="#0000ff"/>
<path d="M464.36,107.35 L467.55,113.52 L461.17,113.52Z" fill="#0000ff"/>
<path d="M469.84,137.25 L473.03,143.41 L466.65,143.41Z" fill="#0000ff"/>
<path d="M475.32,149.75 L478.51,155.91 L472.13,155.91Z" fill="#0000ff"/>
<path d="M480.8,164.85 L483.99,171.01 L477.61,171.01Z" fill="#0000ff"/>
<path d="M486.28,164.16 L489.47,170.31 L483.09,170.31Z" fill="#0000ff"/>
<path d="M491.76,169.16 L494.95,175.31 L488.57,175.31Z" fill="#0000ff"/>
<path d="M497.24,161.35 L500.43,167.51 L494.05,167.51Z" fill="#0000ff"/>
<path d="M502.72,160.66 L505.91,166.81 L499.53,166.81Z" fill="#0000ff"/>
<path d="M508.2,150.25 L511.39,156.41 L505.01,156.41Z" fill="#0000ff"/>
<path d="M453.4,35.45 L456.59,29.29 L450.21,29.29Z" fill="#008080"/>
<path d="M458.88,91.34 L462.07,85.18 L455.69,85.18Z" fill="#008080"/>
<path d="M469.84,147.25 L473.03,141.09 L466.65,141.09Z" fill="#008080"/>
<path d="M475.32,156.25 L478.51,150.09 L472.13,150.09Z" fill="#008080"/>
<path d="M480.8,161.25 L483.99,155.09 L477.61,155.09Z" fill="#008080"/>
<path d="M486.28,158.94 L489.47,152.78 L483.09,152.78Z" fill="#008080"/>
<path d="M491.76,156.75 L494.95,150.59 L488.57,150.59Z" fill="#008080"/>
<path d="M497.24,147.84 L500.43,141.69 L494.05,141.69Z" fill="#008080"/>
<path d="M502.72,142.05 L505.91,135.89 L499.53,135.89Z" fill="#008080"/>
<path d="M508.2,130.25 L511.39,124.08 L505.01,124.08Z" fill="#008080"/>
<path d="M450.43,91.1 L456.15,87.91 L456.15,94.29Z" fill="#ff00ff"/>
<path d="M455.91,129.2 L461.63,126.01 L461.63,132.39Z" fill="#ff00ff"/>
<path d="M461.39,151.3 L467.11,148.11 L467.11,154.49Z" fill="#ff00ff"/>
<path d="M466.87,160.9 L472.59,157.71 L472.59,164.09Z" fill="#ff00ff"/>
<path d="M472.35,164.6 L478.07,161.41 L478.07,167.79Z" fill="#ff00ff"/>
<path d="M477.83,163.1 L483.55,159.91 L483.55,166.29Z" fill="#ff00ff"/>
<path d="M483.31,157.2 L489.03,154.01 L489.03,160.39Z" fill="#ff00ff"/>
<path d="M488.79,149.8 L494.51,146.61 L494.51,152.99Z" fill="#ff00ff"/>
<path d="M494.27,140.9 L499.99,137.71 L499.99,144.09Z" fill="#ff00ff"/>
<path d="M499.75,132.7 L505.47,129.51 L505.47,135.89Z" fill="#ff00ff"/>
<path d="M505.23,124.4 L510.95,121.21 L510.95,127.59Z" fill="#ff00ff"/>
</g>
<text x="3.4" y="20.6" font-size="20.5" fill="#111">(a)</text>
<text x="383.6" y="22" font-size="20.5" fill="#111">(b)</text>
<text transform="translate(18.4,116.5) rotate(-90)" text-anchor="middle" font-size="13" fill="#1a1a1a"><tspan font-style="italic">ΔE</tspan> (<tspan font-style="italic">R</tspan>) (meV/atom)</text>
<rect x="738.8" y="12" width="78.7" height="83.3" fill="#fff" stroke="none"/>
<line x1="738.8" y1="12" x2="817.5" y2="12" stroke="#888" stroke-width="1.2"/>
<line x1="738.8" y1="12" x2="738.8" y2="95.3" stroke="#ccc" stroke-width="1.2"/>
<line x1="817.5" y1="12" x2="817.5" y2="95.3" stroke="#ccc" stroke-width="1.2"/>
<line x1="738.8" y1="95.3" x2="817.5" y2="95.3" stroke="#333" stroke-width="1.4"/>
<rect x="751.94" y="18.64" width="6.12" height="6.12" fill="#808000"/>
<text x="770" y="25.6" font-size="11" fill="#1a1a1a">LDA</text>
<circle cx="755" cy="35.16" r="3.13" fill="#ff0000"/>
<text x="770" y="39.06" font-size="11" fill="#1a1a1a">DFT-D2</text>
<path d="M755,44.64 L758.91,52.2 L751.09,52.2Z" fill="#0000ff"/>
<text x="770" y="52.52" font-size="11" fill="#1a1a1a">vdW-DF</text>
<path d="M755,66.06 L758.91,58.5 L751.09,58.5Z" fill="#008080"/>
<text x="770" y="65.98" font-size="11" fill="#1a1a1a">vdW-DF2</text>
<path d="M751.36,75.54 L758.38,71.62 L758.38,79.46Z" fill="#ff00ff"/>
<text x="770" y="79.44" font-size="11" fill="#1a1a1a">rVV10</text>
<path d="M758.52,89 L752.36,85.04 L752.36,92.96Z" fill="#000000"/>
<text x="770" y="92.9" font-size="11" fill="#1a1a1a">DMC</text>
<clipPath id="ia"><rect x="204.6" y="117.0" width="134.8" height="95.4"/></clipPath>
<rect x="204.6" y="117.0" width="134.8" height="95.4" fill="#fff"/>
<g clip-path="url(#ia)">
<path d="M360.17,240.72L382.01,252.6M295.92,254.79L317.12,241.82M337.06,179.14L358.27,166.16M380.11,178.04L401.31,165.07M400.68,140.21L401.31,165.07M273.45,218.06L294.65,205.09M274.08,242.91L295.92,254.79M356.37,91.61L378.21,103.48M206.03,107.87L206.66,132.73M292.12,105.68L313.32,92.7M338.96,253.69L360.17,240.72M382.01,252.6L403.21,239.62M335.16,104.58L335.8,129.43M187.99,245.11L209.83,256.98M292.12,105.68L292.75,130.53M185.46,145.7L186.09,170.55M228.5,144.6L249.71,131.63M272.18,168.36L294.02,180.23M185.46,145.7L206.66,132.73M228.5,144.6L229.13,169.45M249.71,131.63L271.55,143.51M337.06,179.14L337.7,203.99M294.65,205.09L316.49,216.96M270.28,93.8L292.12,105.68M206.66,132.73L228.5,144.6M316.49,216.96L337.7,203.99M317.12,241.82L338.96,253.69M294.02,180.23L315.22,167.26M337.7,203.99L359.54,215.87M380.11,178.04L380.74,202.89M273.45,218.06L274.08,242.91M378.84,128.34L400.68,140.21M250.97,181.33L272.18,168.36M358.27,166.16L380.11,178.04M292.75,130.53L314.59,142.41M252.87,255.89L274.08,242.91M294.02,180.23L294.65,205.09M208.56,207.28L230.4,219.16M378.21,103.48L378.84,128.34M230.4,219.16L251.61,206.18M251.61,206.18L273.45,218.06M335.16,104.58L356.37,91.61M230.4,219.16L231.03,244.01M229.13,169.45L250.97,181.33M315.22,167.26L337.06,179.14M335.8,129.43L357.64,141.31M249.07,106.78L249.71,131.63M271.55,143.51L292.75,130.53M227.23,94.9L249.07,106.78M206.03,107.87L227.23,94.9M314.59,142.41L315.22,167.26M250.97,181.33L251.61,206.18M231.03,244.01L252.87,255.89M357.64,141.31L358.27,166.16M249.07,106.78L270.28,93.8M187.36,220.26L187.99,245.11M380.74,202.89L402.58,214.77M187.36,220.26L208.56,207.28M207.93,182.43L229.13,169.45M314.59,142.41L335.8,129.43M209.83,256.98L231.03,244.01M359.54,215.87L380.74,202.89M313.32,92.7L335.16,104.58M207.93,182.43L208.56,207.28M359.54,215.87L360.17,240.72M402.58,214.77L403.21,239.62M186.09,170.55L207.93,182.43M357.64,141.31L378.84,128.34M271.55,143.51L272.18,168.36M316.49,216.96L317.12,241.82" stroke="#e8e850" stroke-width="1.1" fill="none"/>
<g fill="#f0f050" stroke="#c8c828" stroke-width="0.7"><circle cx="360.17" cy="240.72" r="1.85"/><circle cx="367.45" cy="244.68" r="1.85"/><circle cx="374.73" cy="248.64" r="1.85"/><circle cx="382.01" cy="252.6" r="1.85"/><circle cx="295.92" cy="254.79" r="1.85"/><circle cx="302.99" cy="250.46" r="1.85"/><circle cx="310.05" cy="246.14" r="1.85"/><circle cx="317.12" cy="241.82" r="1.85"/><circle cx="337.06" cy="179.14" r="1.85"/><circle cx="344.13" cy="174.81" r="1.85"/><circle cx="351.2" cy="170.48" r="1.85"/><circle cx="358.27" cy="166.16" r="1.85"/><circle cx="380.11" cy="178.04" r="1.85"/><circle cx="387.18" cy="173.71" r="1.85"/><circle cx="394.24" cy="169.39" r="1.85"/><circle cx="401.31" cy="165.07" r="1.85"/><circle cx="400.68" cy="140.21" r="1.85"/><circle cx="400.89" cy="148.49" r="1.85"/><circle cx="401.1" cy="156.78" r="1.85"/><circle cx="273.45" cy="218.06" r="1.85"/><circle cx="280.52" cy="213.73" r="1.85"/><circle cx="287.58" cy="209.41" r="1.85"/><circle cx="294.65" cy="205.09" r="1.85"/><circle cx="274.08" cy="242.91" r="1.85"/><circle cx="281.36" cy="246.87" r="1.85"/><circle cx="288.64" cy="250.83" r="1.85"/><circle cx="356.37" cy="91.61" r="1.85"/><circle cx="363.65" cy="95.56" r="1.85"/><circle cx="370.93" cy="99.52" r="1.85"/><circle cx="378.21" cy="103.48" r="1.85"/><circle cx="206.03" cy="107.87" r="1.85"/><circle cx="206.24" cy="116.15" r="1.85"/><circle cx="206.45" cy="124.44" r="1.85"/><circle cx="206.66" cy="132.73" r="1.85"/><circle cx="292.12" cy="105.68" r="1.85"/><circle cx="299.19" cy="101.35" r="1.85"/><circle cx="306.25" cy="97.02" r="1.85"/><circle cx="313.32" cy="92.7" r="1.85"/><circle cx="338.96" cy="253.69" r="1.85"/><circle cx="346.03" cy="249.36" r="1.85"/><circle cx="353.1" cy="245.04" r="1.85"/><circle cx="389.08" cy="248.27" r="1.85"/><circle cx="396.14" cy="243.94" r="1.85"/><circle cx="403.21" cy="239.62" r="1.85"/><circle cx="335.16" cy="104.58" r="1.85"/><circle cx="335.37" cy="112.86" r="1.85"/><circle cx="335.59" cy="121.14" r="1.85"/><circle cx="335.8" cy="129.43" r="1.85"/><circle cx="187.99" cy="245.11" r="1.85"/><circle cx="195.27" cy="249.06" r="1.85"/><circle cx="202.55" cy="253.02" r="1.85"/><circle cx="209.83" cy="256.98" r="1.85"/><circle cx="292.33" cy="113.96" r="1.85"/><circle cx="292.54" cy="122.24" r="1.85"/><circle cx="292.75" cy="130.53" r="1.85"/><circle cx="185.46" cy="145.7" r="1.85"/><circle cx="185.67" cy="153.98" r="1.85"/><circle cx="185.88" cy="162.26" r="1.85"/><circle cx="186.09" cy="170.55" r="1.85"/><circle cx="228.5" cy="144.6" r="1.85"/><circle cx="235.57" cy="140.27" r="1.85"/><circle cx="242.64" cy="135.95" r="1.85"/><circle cx="249.71" cy="131.63" r="1.85"/><circle cx="272.18" cy="168.36" r="1.85"/><circle cx="279.46" cy="172.31" r="1.85"/><circle cx="286.74" cy="176.27" r="1.85"/><circle cx="294.02" cy="180.23" r="1.85"/><circle cx="192.53" cy="141.37" r="1.85"/><circle cx="199.59" cy="137.05" r="1.85"/><circle cx="228.71" cy="152.88" r="1.85"/><circle cx="228.92" cy="161.16" r="1.85"/><circle cx="229.13" cy="169.45" r="1.85"/><circle cx="256.99" cy="135.59" r="1.85"/><circle cx="264.27" cy="139.55" r="1.85"/><circle cx="271.55" cy="143.51" r="1.85"/><circle cx="337.27" cy="187.42" r="1.85"/><circle cx="337.49" cy="195.7" r="1.85"/><circle cx="337.7" cy="203.99" r="1.85"/><circle cx="301.93" cy="209.04" r="1.85"/><circle cx="309.21" cy="213" r="1.85"/><circle cx="316.49" cy="216.96" r="1.85"/><circle cx="270.28" cy="93.8" r="1.85"/><circle cx="277.56" cy="97.76" r="1.85"/><circle cx="284.84" cy="101.72" r="1.85"/><circle cx="213.94" cy="136.68" r="1.85"/><circle cx="221.22" cy="140.64" r="1.85"/><circle cx="323.56" cy="212.63" r="1.85"/><circle cx="330.63" cy="208.31" r="1.85"/><circle cx="324.4" cy="245.77" r="1.85"/><circle cx="331.68" cy="249.73" r="1.85"/><circle cx="301.09" cy="175.9" r="1.85"/><circle cx="308.15" cy="171.58" r="1.85"/><circle cx="315.22" cy="167.26" r="1.85"/><circle cx="344.98" cy="207.95" r="1.85"/><circle cx="352.26" cy="211.91" r="1.85"/><circle cx="359.54" cy="215.87" r="1.85"/><circle cx="380.32" cy="186.32" r="1.85"/><circle cx="380.53" cy="194.6" r="1.85"/><circle cx="380.74" cy="202.89" r="1.85"/><circle cx="273.66" cy="226.34" r="1.85"/><circle cx="273.87" cy="234.62" r="1.85"/><circle cx="378.84" cy="128.34" r="1.85"/><circle cx="386.12" cy="132.29" r="1.85"/><circle cx="393.4" cy="136.25" r="1.85"/><circle cx="250.97" cy="181.33" r="1.85"/><circle cx="258.04" cy="177" r="1.85"/><circle cx="265.11" cy="172.68" r="1.85"/><circle cx="365.55" cy="170.12" r="1.85"/><circle cx="372.83" cy="174.08" r="1.85"/><circle cx="300.03" cy="134.49" r="1.85"/><circle cx="307.31" cy="138.45" r="1.85"/><circle cx="314.59" cy="142.41" r="1.85"/><circle cx="252.87" cy="255.89" r="1.85"/><circle cx="259.94" cy="251.56" r="1.85"/><circle cx="267.01" cy="247.23" r="1.85"/><circle cx="294.23" cy="188.51" r="1.85"/><circle cx="294.44" cy="196.8" r="1.85"/><circle cx="208.56" cy="207.28" r="1.85"/><circle cx="215.84" cy="211.24" r="1.85"/><circle cx="223.12" cy="215.2" r="1.85"/><circle cx="230.4" cy="219.16" r="1.85"/><circle cx="378.42" cy="111.76" r="1.85"/><circle cx="378.63" cy="120.05" r="1.85"/><circle cx="237.47" cy="214.83" r="1.85"/><circle cx="244.54" cy="210.5" r="1.85"/><circle cx="251.61" cy="206.18" r="1.85"/><circle cx="258.89" cy="210.14" r="1.85"/><circle cx="266.17" cy="214.1" r="1.85"/><circle cx="342.23" cy="100.25" r="1.85"/><circle cx="349.3" cy="95.93" r="1.85"/><circle cx="230.61" cy="227.44" r="1.85"/><circle cx="230.82" cy="235.72" r="1.85"/><circle cx="231.03" cy="244.01" r="1.85"/><circle cx="236.41" cy="173.41" r="1.85"/><circle cx="243.69" cy="177.37" r="1.85"/><circle cx="322.5" cy="171.22" r="1.85"/><circle cx="329.78" cy="175.18" r="1.85"/><circle cx="343.08" cy="133.39" r="1.85"/><circle cx="350.36" cy="137.35" r="1.85"/><circle cx="357.64" cy="141.31" r="1.85"/><circle cx="249.07" cy="106.78" r="1.85"/><circle cx="249.28" cy="115.06" r="1.85"/><circle cx="249.5" cy="123.34" r="1.85"/><circle cx="278.62" cy="139.18" r="1.85"/><circle cx="285.68" cy="134.85" r="1.85"/><circle cx="227.23" cy="94.9" r="1.85"/><circle cx="234.51" cy="98.86" r="1.85"/><circle cx="241.79" cy="102.82" r="1.85"/><circle cx="213.1" cy="103.54" r="1.85"/><circle cx="220.16" cy="99.22" r="1.85"/><circle cx="314.8" cy="150.69" r="1.85"/><circle cx="315.01" cy="158.97" r="1.85"/><circle cx="251.18" cy="189.61" r="1.85"/><circle cx="251.4" cy="197.89" r="1.85"/><circle cx="238.31" cy="247.97" r="1.85"/><circle cx="245.59" cy="251.93" r="1.85"/><circle cx="357.85" cy="149.59" r="1.85"/><circle cx="358.06" cy="157.87" r="1.85"/><circle cx="256.14" cy="102.45" r="1.85"/><circle cx="263.21" cy="98.12" r="1.85"/><circle cx="187.36" cy="220.26" r="1.85"/><circle cx="187.57" cy="228.54" r="1.85"/><circle cx="187.78" cy="236.82" r="1.85"/><circle cx="388.02" cy="206.85" r="1.85"/><circle cx="395.3" cy="210.81" r="1.85"/><circle cx="402.58" cy="214.77" r="1.85"/><circle cx="194.43" cy="215.93" r="1.85"/><circle cx="201.49" cy="211.6" r="1.85"/><circle cx="207.93" cy="182.43" r="1.85"/><circle cx="215" cy="178.1" r="1.85"/><circle cx="222.06" cy="173.77" r="1.85"/><circle cx="321.66" cy="138.08" r="1.85"/><circle cx="328.73" cy="133.75" r="1.85"/><circle cx="216.9" cy="252.65" r="1.85"/><circle cx="223.96" cy="248.33" r="1.85"/><circle cx="366.61" cy="211.54" r="1.85"/><circle cx="373.67" cy="207.21" r="1.85"/><circle cx="320.6" cy="96.66" r="1.85"/><circle cx="327.88" cy="100.62" r="1.85"/><circle cx="208.14" cy="190.71" r="1.85"/><circle cx="208.35" cy="198.99" r="1.85"/><circle cx="359.75" cy="224.15" r="1.85"/><circle cx="359.96" cy="232.43" r="1.85"/><circle cx="402.79" cy="223.05" r="1.85"/><circle cx="403" cy="231.33" r="1.85"/><circle cx="193.37" cy="174.51" r="1.85"/><circle cx="200.65" cy="178.47" r="1.85"/><circle cx="364.71" cy="136.98" r="1.85"/><circle cx="371.77" cy="132.66" r="1.85"/><circle cx="271.76" cy="151.79" r="1.85"/><circle cx="271.97" cy="160.07" r="1.85"/><circle cx="316.7" cy="225.24" r="1.85"/><circle cx="316.91" cy="233.53" r="1.85"/></g>
<path d="M338.33,228.84L360.17,240.72M274.08,242.91L295.28,229.94M315.22,167.26L336.43,154.28M358.27,166.16L379.47,153.19M378.84,128.33L379.47,153.19M251.61,206.18L272.81,193.21M252.24,231.03L274.08,242.91M334.53,79.73L356.37,91.6M184.19,95.99L184.82,120.85M270.28,93.8L291.48,80.82M317.12,241.81L338.33,228.84M360.17,240.72L381.37,227.74M313.32,92.7L313.96,117.55M166.15,233.23L187.99,245.1M270.28,93.8L270.91,118.65M163.62,133.82L164.25,158.67M206.66,132.72L227.87,119.75M250.34,156.48L272.18,168.35M163.62,133.82L184.82,120.85M206.66,132.72L207.29,157.57M227.87,119.75L249.71,131.63M315.22,167.26L315.86,192.11M272.81,193.21L294.65,205.08M248.44,81.92L270.28,93.8M184.82,120.85L206.66,132.72M294.65,205.08L315.86,192.11M295.28,229.94L317.12,241.81M272.18,168.35L293.38,155.38M315.86,192.11L337.7,203.99M358.27,166.16L358.9,191.01M251.61,206.18L252.24,231.03M357,116.46L378.84,128.33M229.13,169.45L250.34,156.48M336.43,154.28L358.27,166.16M270.91,118.65L292.75,130.53M231.03,244.01L252.24,231.03M272.18,168.35L272.81,193.21M186.72,195.4L208.56,207.28M356.37,91.6L357,116.46M208.56,207.28L229.77,194.3M229.77,194.3L251.61,206.18M313.32,92.7L334.53,79.73M208.56,207.28L209.19,232.13M207.29,157.57L229.13,169.45M293.38,155.38L315.22,167.26M313.96,117.55L335.8,129.43M227.23,94.9L227.87,119.75M249.71,131.63L270.91,118.65M205.39,83.02L227.23,94.9M184.19,95.99L205.39,83.02M292.75,130.53L293.38,155.38M229.13,169.45L229.77,194.3M209.19,232.13L231.03,244.01M335.8,129.43L336.43,154.28M227.23,94.9L248.44,81.92M165.52,208.38L166.15,233.23M358.9,191.01L380.74,202.89M165.52,208.38L186.72,195.4M186.09,170.55L207.29,157.57M292.75,130.53L313.96,117.55M187.99,245.1L209.19,232.13M337.7,203.99L358.9,191.01M291.48,80.82L313.32,92.7M186.09,170.55L186.72,195.4M337.7,203.99L338.33,228.84M380.74,202.89L381.37,227.74M164.25,158.67L186.09,170.55M335.8,129.43L357,116.46M249.71,131.63L250.34,156.48M294.65,205.08L295.28,229.94" stroke="#9a9a9a" stroke-width="1.1" fill="none"/>
<g fill="#e6e6e6" stroke="#6e6e6e" stroke-width="0.9"><circle cx="338.33" cy="228.84" r="1.75"/><circle cx="345.61" cy="232.8" r="1.75"/><circle cx="352.89" cy="236.76" r="1.75"/><circle cx="360.17" cy="240.72" r="1.75"/><circle cx="274.08" cy="242.91" r="1.75"/><circle cx="281.15" cy="238.59" r="1.75"/><circle cx="288.21" cy="234.26" r="1.75"/><circle cx="295.28" cy="229.94" r="1.75"/><circle cx="315.22" cy="167.26" r="1.75"/><circle cx="322.29" cy="162.93" r="1.75"/><circle cx="329.36" cy="158.61" r="1.75"/><circle cx="336.43" cy="154.28" r="1.75"/><circle cx="358.27" cy="166.16" r="1.75"/><circle cx="365.34" cy="161.84" r="1.75"/><circle cx="372.4" cy="157.51" r="1.75"/><circle cx="379.47" cy="153.19" r="1.75"/><circle cx="378.84" cy="128.33" r="1.75"/><circle cx="379.05" cy="136.62" r="1.75"/><circle cx="379.26" cy="144.9" r="1.75"/><circle cx="251.61" cy="206.18" r="1.75"/><circle cx="258.68" cy="201.86" r="1.75"/><circle cx="265.74" cy="197.53" r="1.75"/><circle cx="272.81" cy="193.21" r="1.75"/><circle cx="252.24" cy="231.03" r="1.75"/><circle cx="259.52" cy="234.99" r="1.75"/><circle cx="266.8" cy="238.95" r="1.75"/><circle cx="334.53" cy="79.73" r="1.75"/><circle cx="341.81" cy="83.69" r="1.75"/><circle cx="349.09" cy="87.64" r="1.75"/><circle cx="356.37" cy="91.6" r="1.75"/><circle cx="184.19" cy="95.99" r="1.75"/><circle cx="184.4" cy="104.28" r="1.75"/><circle cx="184.61" cy="112.56" r="1.75"/><circle cx="184.82" cy="120.85" r="1.75"/><circle cx="270.28" cy="93.8" r="1.75"/><circle cx="277.35" cy="89.47" r="1.75"/><circle cx="284.41" cy="85.15" r="1.75"/><circle cx="291.48" cy="80.82" r="1.75"/><circle cx="317.12" cy="241.81" r="1.75"/><circle cx="324.19" cy="237.49" r="1.75"/><circle cx="331.26" cy="233.16" r="1.75"/><circle cx="367.24" cy="236.39" r="1.75"/><circle cx="374.3" cy="232.07" r="1.75"/><circle cx="381.37" cy="227.74" r="1.75"/><circle cx="313.32" cy="92.7" r="1.75"/><circle cx="313.53" cy="100.98" r="1.75"/><circle cx="313.75" cy="109.27" r="1.75"/><circle cx="313.96" cy="117.55" r="1.75"/><circle cx="166.15" cy="233.23" r="1.75"/><circle cx="173.43" cy="237.19" r="1.75"/><circle cx="180.71" cy="241.14" r="1.75"/><circle cx="187.99" cy="245.1" r="1.75"/><circle cx="270.49" cy="102.08" r="1.75"/><circle cx="270.7" cy="110.37" r="1.75"/><circle cx="270.91" cy="118.65" r="1.75"/><circle cx="163.62" cy="133.82" r="1.75"/><circle cx="163.83" cy="142.1" r="1.75"/><circle cx="164.04" cy="150.39" r="1.75"/><circle cx="164.25" cy="158.67" r="1.75"/><circle cx="206.66" cy="132.72" r="1.75"/><circle cx="213.73" cy="128.4" r="1.75"/><circle cx="220.8" cy="124.07" r="1.75"/><circle cx="227.87" cy="119.75" r="1.75"/><circle cx="250.34" cy="156.48" r="1.75"/><circle cx="257.62" cy="160.44" r="1.75"/><circle cx="264.9" cy="164.39" r="1.75"/><circle cx="272.18" cy="168.35" r="1.75"/><circle cx="170.69" cy="129.5" r="1.75"/><circle cx="177.75" cy="125.17" r="1.75"/><circle cx="206.87" cy="141" r="1.75"/><circle cx="207.08" cy="149.29" r="1.75"/><circle cx="207.29" cy="157.57" r="1.75"/><circle cx="235.15" cy="123.71" r="1.75"/><circle cx="242.43" cy="127.67" r="1.75"/><circle cx="249.71" cy="131.63" r="1.75"/><circle cx="315.43" cy="175.54" r="1.75"/><circle cx="315.65" cy="183.83" r="1.75"/><circle cx="315.86" cy="192.11" r="1.75"/><circle cx="280.09" cy="197.17" r="1.75"/><circle cx="287.37" cy="201.12" r="1.75"/><circle cx="294.65" cy="205.08" r="1.75"/><circle cx="248.44" cy="81.92" r="1.75"/><circle cx="255.72" cy="85.88" r="1.75"/><circle cx="263" cy="89.84" r="1.75"/><circle cx="192.1" cy="124.81" r="1.75"/><circle cx="199.38" cy="128.76" r="1.75"/><circle cx="301.72" cy="200.76" r="1.75"/><circle cx="308.79" cy="196.43" r="1.75"/><circle cx="302.56" cy="233.9" r="1.75"/><circle cx="309.84" cy="237.85" r="1.75"/><circle cx="279.25" cy="164.03" r="1.75"/><circle cx="286.31" cy="159.7" r="1.75"/><circle cx="293.38" cy="155.38" r="1.75"/><circle cx="323.14" cy="196.07" r="1.75"/><circle cx="330.42" cy="200.03" r="1.75"/><circle cx="337.7" cy="203.99" r="1.75"/><circle cx="358.48" cy="174.44" r="1.75"/><circle cx="358.69" cy="182.73" r="1.75"/><circle cx="358.9" cy="191.01" r="1.75"/><circle cx="251.82" cy="214.46" r="1.75"/><circle cx="252.03" cy="222.75" r="1.75"/><circle cx="357" cy="116.46" r="1.75"/><circle cx="364.28" cy="120.42" r="1.75"/><circle cx="371.56" cy="124.37" r="1.75"/><circle cx="229.13" cy="169.45" r="1.75"/><circle cx="236.2" cy="165.13" r="1.75"/><circle cx="243.27" cy="160.8" r="1.75"/><circle cx="343.71" cy="158.24" r="1.75"/><circle cx="350.99" cy="162.2" r="1.75"/><circle cx="278.19" cy="122.61" r="1.75"/><circle cx="285.47" cy="126.57" r="1.75"/><circle cx="292.75" cy="130.53" r="1.75"/><circle cx="231.03" cy="244.01" r="1.75"/><circle cx="238.1" cy="239.68" r="1.75"/><circle cx="245.17" cy="235.36" r="1.75"/><circle cx="272.39" cy="176.64" r="1.75"/><circle cx="272.6" cy="184.92" r="1.75"/><circle cx="186.72" cy="195.4" r="1.75"/><circle cx="194" cy="199.36" r="1.75"/><circle cx="201.28" cy="203.32" r="1.75"/><circle cx="208.56" cy="207.28" r="1.75"/><circle cx="356.58" cy="99.89" r="1.75"/><circle cx="356.79" cy="108.17" r="1.75"/><circle cx="215.63" cy="202.95" r="1.75"/><circle cx="222.7" cy="198.63" r="1.75"/><circle cx="229.77" cy="194.3" r="1.75"/><circle cx="237.05" cy="198.26" r="1.75"/><circle cx="244.33" cy="202.22" r="1.75"/><circle cx="320.39" cy="88.38" r="1.75"/><circle cx="327.46" cy="84.05" r="1.75"/><circle cx="208.77" cy="215.56" r="1.75"/><circle cx="208.98" cy="223.85" r="1.75"/><circle cx="209.19" cy="232.13" r="1.75"/><circle cx="214.57" cy="161.53" r="1.75"/><circle cx="221.85" cy="165.49" r="1.75"/><circle cx="300.66" cy="159.34" r="1.75"/><circle cx="307.94" cy="163.3" r="1.75"/><circle cx="321.24" cy="121.51" r="1.75"/><circle cx="328.52" cy="125.47" r="1.75"/><circle cx="335.8" cy="129.43" r="1.75"/><circle cx="227.23" cy="94.9" r="1.75"/><circle cx="227.44" cy="103.18" r="1.75"/><circle cx="227.66" cy="111.47" r="1.75"/><circle cx="256.78" cy="127.3" r="1.75"/><circle cx="263.84" cy="122.98" r="1.75"/><circle cx="205.39" cy="83.02" r="1.75"/><circle cx="212.67" cy="86.98" r="1.75"/><circle cx="219.95" cy="90.94" r="1.75"/><circle cx="191.26" cy="91.67" r="1.75"/><circle cx="198.32" cy="87.34" r="1.75"/><circle cx="292.96" cy="138.81" r="1.75"/><circle cx="293.17" cy="147.1" r="1.75"/><circle cx="229.34" cy="177.73" r="1.75"/><circle cx="229.56" cy="186.02" r="1.75"/><circle cx="216.47" cy="236.09" r="1.75"/><circle cx="223.75" cy="240.05" r="1.75"/><circle cx="336.01" cy="137.71" r="1.75"/><circle cx="336.22" cy="146" r="1.75"/><circle cx="234.3" cy="90.57" r="1.75"/><circle cx="241.37" cy="86.25" r="1.75"/><circle cx="165.52" cy="208.38" r="1.75"/><circle cx="165.73" cy="216.66" r="1.75"/><circle cx="165.94" cy="224.95" r="1.75"/><circle cx="366.18" cy="194.97" r="1.75"/><circle cx="373.46" cy="198.93" r="1.75"/><circle cx="380.74" cy="202.89" r="1.75"/><circle cx="172.59" cy="204.05" r="1.75"/><circle cx="179.65" cy="199.73" r="1.75"/><circle cx="186.09" cy="170.55" r="1.75"/><circle cx="193.16" cy="166.22" r="1.75"/><circle cx="200.22" cy="161.9" r="1.75"/><circle cx="299.82" cy="126.2" r="1.75"/><circle cx="306.89" cy="121.88" r="1.75"/><circle cx="195.06" cy="240.78" r="1.75"/><circle cx="202.12" cy="236.45" r="1.75"/><circle cx="344.77" cy="199.66" r="1.75"/><circle cx="351.83" cy="195.34" r="1.75"/><circle cx="298.76" cy="84.78" r="1.75"/><circle cx="306.04" cy="88.74" r="1.75"/><circle cx="186.3" cy="178.83" r="1.75"/><circle cx="186.51" cy="187.12" r="1.75"/><circle cx="337.91" cy="212.27" r="1.75"/><circle cx="338.12" cy="220.56" r="1.75"/><circle cx="380.95" cy="211.17" r="1.75"/><circle cx="381.16" cy="219.46" r="1.75"/><circle cx="171.53" cy="162.63" r="1.75"/><circle cx="178.81" cy="166.59" r="1.75"/><circle cx="342.87" cy="125.11" r="1.75"/><circle cx="349.93" cy="120.78" r="1.75"/><circle cx="249.92" cy="139.91" r="1.75"/><circle cx="250.13" cy="148.2" r="1.75"/><circle cx="294.86" cy="213.37" r="1.75"/><circle cx="295.07" cy="221.65" r="1.75"/></g>
</g>
<path d="M204.6,117.0H339.4" stroke="#bbb" stroke-width="1.3"/>
<path d="M204.6,117.0V212.4H339.4V117.0" stroke="#3a3a3a" stroke-width="1.3" fill="none"/>
<clipPath id="ib"><rect x="580.6" y="120.5" width="137.4" height="94.3"/></clipPath>
<rect x="580.6" y="120.5" width="137.4" height="94.3" fill="#fff"/>
<g clip-path="url(#ib)">
<path d="M641.81,107.71L641.81,131.32M535.29,213.98L556.59,202.17M577.9,213.98L599.2,202.17M577.9,143.13L599.2,131.32M705.72,143.13L705.72,166.75M705.72,143.13L727.03,131.32M577.9,95.9L599.2,107.71M705.72,166.75L727.03,178.56M535.29,237.6L556.59,249.4M705.72,237.6L727.03,249.4M748.33,143.13L748.33,166.75M663.11,213.98L684.42,202.17M663.11,95.9L684.42,107.71M620.5,166.75L641.81,178.56M535.29,213.98L535.29,237.6M620.5,213.98L641.81,202.17M684.42,178.56L684.42,202.17M727.03,249.4L748.33,237.6M705.72,213.98L705.72,237.6M556.59,202.17L577.9,213.98M599.2,202.17L620.5,213.98M599.2,107.71L599.2,131.32M705.72,213.98L727.03,202.17M599.2,107.71L620.5,95.9M641.81,178.56L641.81,202.17M599.2,178.56L620.5,166.75M556.59,107.71L577.9,95.9M748.33,213.98L748.33,237.6M556.59,131.32L577.9,143.13M556.59,178.56L577.9,166.75M620.5,143.13L620.5,166.75M663.11,143.13L663.11,166.75M684.42,131.32L705.72,143.13M727.03,202.17L748.33,213.98M535.29,143.13L556.59,131.32M705.72,95.9L727.03,107.71M663.11,237.6L684.42,249.4M535.29,166.75L556.59,178.56M641.81,178.56L663.11,166.75M556.59,178.56L556.59,202.17M727.03,178.56L727.03,202.17M684.42,249.4L705.72,237.6M556.59,249.4L577.9,237.6M641.81,107.71L663.11,95.9M663.11,213.98L663.11,237.6M620.5,95.9L641.81,107.71M727.03,107.71L727.03,131.32M641.81,131.32L663.11,143.13M684.42,107.71L684.42,131.32M727.03,131.32L748.33,143.13M684.42,107.71L705.72,95.9M620.5,237.6L641.81,249.4M727.03,178.56L748.33,166.75M577.9,213.98L577.9,237.6M577.9,143.13L577.9,166.75M577.9,237.6L599.2,249.4M599.2,178.56L599.2,202.17M556.59,107.71L556.59,131.32M620.5,143.13L641.81,131.32M641.81,249.4L663.11,237.6M599.2,131.32L620.5,143.13M684.42,202.17L705.72,213.98M577.9,166.75L599.2,178.56M620.5,213.98L620.5,237.6M663.11,166.75L684.42,178.56M684.42,178.56L705.72,166.75M663.11,143.13L684.42,131.32M535.29,143.13L535.29,166.75M599.2,249.4L620.5,237.6M641.81,202.17L663.11,213.98" stroke="#e8e850" stroke-width="1.1" fill="none"/>
<g fill="#f0f050" stroke="#c8c828" stroke-width="0.7"><circle cx="641.81" cy="107.71" r="1.85"/><circle cx="641.81" cy="115.58" r="1.85"/><circle cx="641.81" cy="123.45" r="1.85"/><circle cx="641.81" cy="131.32" r="1.85"/><circle cx="535.29" cy="213.98" r="1.85"/><circle cx="542.39" cy="210.04" r="1.85"/><circle cx="549.49" cy="206.1" r="1.85"/><circle cx="556.59" cy="202.17" r="1.85"/><circle cx="577.9" cy="213.98" r="1.85"/><circle cx="585" cy="210.04" r="1.85"/><circle cx="592.1" cy="206.1" r="1.85"/><circle cx="599.2" cy="202.17" r="1.85"/><circle cx="577.9" cy="143.13" r="1.85"/><circle cx="585" cy="139.19" r="1.85"/><circle cx="592.1" cy="135.25" r="1.85"/><circle cx="599.2" cy="131.32" r="1.85"/><circle cx="705.72" cy="143.13" r="1.85"/><circle cx="705.72" cy="151" r="1.85"/><circle cx="705.72" cy="158.87" r="1.85"/><circle cx="705.72" cy="166.75" r="1.85"/><circle cx="712.82" cy="139.19" r="1.85"/><circle cx="719.93" cy="135.25" r="1.85"/><circle cx="727.03" cy="131.32" r="1.85"/><circle cx="577.9" cy="95.9" r="1.85"/><circle cx="585" cy="99.83" r="1.85"/><circle cx="592.1" cy="103.77" r="1.85"/><circle cx="599.2" cy="107.71" r="1.85"/><circle cx="712.82" cy="170.68" r="1.85"/><circle cx="719.93" cy="174.62" r="1.85"/><circle cx="727.03" cy="178.56" r="1.85"/><circle cx="535.29" cy="237.6" r="1.85"/><circle cx="542.39" cy="241.53" r="1.85"/><circle cx="549.49" cy="245.46" r="1.85"/><circle cx="556.59" cy="249.4" r="1.85"/><circle cx="705.72" cy="237.6" r="1.85"/><circle cx="712.82" cy="241.53" r="1.85"/><circle cx="719.93" cy="245.46" r="1.85"/><circle cx="727.03" cy="249.4" r="1.85"/><circle cx="748.33" cy="143.13" r="1.85"/><circle cx="748.33" cy="151" r="1.85"/><circle cx="748.33" cy="158.87" r="1.85"/><circle cx="748.33" cy="166.75" r="1.85"/><circle cx="663.11" cy="213.98" r="1.85"/><circle cx="670.21" cy="210.04" r="1.85"/><circle cx="677.32" cy="206.1" r="1.85"/><circle cx="684.42" cy="202.17" r="1.85"/><circle cx="663.11" cy="95.9" r="1.85"/><circle cx="670.21" cy="99.83" r="1.85"/><circle cx="677.32" cy="103.77" r="1.85"/><circle cx="684.42" cy="107.71" r="1.85"/><circle cx="620.5" cy="166.75" r="1.85"/><circle cx="627.6" cy="170.68" r="1.85"/><circle cx="634.71" cy="174.62" r="1.85"/><circle cx="641.81" cy="178.56" r="1.85"/><circle cx="535.29" cy="221.85" r="1.85"/><circle cx="535.29" cy="229.72" r="1.85"/><circle cx="620.5" cy="213.98" r="1.85"/><circle cx="627.6" cy="210.04" r="1.85"/><circle cx="634.71" cy="206.1" r="1.85"/><circle cx="641.81" cy="202.17" r="1.85"/><circle cx="684.42" cy="178.56" r="1.85"/><circle cx="684.42" cy="186.43" r="1.85"/><circle cx="684.42" cy="194.3" r="1.85"/><circle cx="734.13" cy="245.46" r="1.85"/><circle cx="741.23" cy="241.53" r="1.85"/><circle cx="748.33" cy="237.6" r="1.85"/><circle cx="705.72" cy="213.98" r="1.85"/><circle cx="705.72" cy="221.85" r="1.85"/><circle cx="705.72" cy="229.72" r="1.85"/><circle cx="563.69" cy="206.1" r="1.85"/><circle cx="570.8" cy="210.04" r="1.85"/><circle cx="606.3" cy="206.1" r="1.85"/><circle cx="613.4" cy="210.04" r="1.85"/><circle cx="599.2" cy="115.58" r="1.85"/><circle cx="599.2" cy="123.45" r="1.85"/><circle cx="712.82" cy="210.04" r="1.85"/><circle cx="719.93" cy="206.1" r="1.85"/><circle cx="727.03" cy="202.17" r="1.85"/><circle cx="606.3" cy="103.77" r="1.85"/><circle cx="613.4" cy="99.83" r="1.85"/><circle cx="620.5" cy="95.9" r="1.85"/><circle cx="641.81" cy="186.43" r="1.85"/><circle cx="641.81" cy="194.3" r="1.85"/><circle cx="599.2" cy="178.56" r="1.85"/><circle cx="606.3" cy="174.62" r="1.85"/><circle cx="613.4" cy="170.68" r="1.85"/><circle cx="556.59" cy="107.71" r="1.85"/><circle cx="563.69" cy="103.77" r="1.85"/><circle cx="570.8" cy="99.83" r="1.85"/><circle cx="748.33" cy="213.98" r="1.85"/><circle cx="748.33" cy="221.85" r="1.85"/><circle cx="748.33" cy="229.72" r="1.85"/><circle cx="556.59" cy="131.32" r="1.85"/><circle cx="563.69" cy="135.25" r="1.85"/><circle cx="570.8" cy="139.19" r="1.85"/><circle cx="556.59" cy="178.56" r="1.85"/><circle cx="563.69" cy="174.62" r="1.85"/><circle cx="570.8" cy="170.68" r="1.85"/><circle cx="577.9" cy="166.75" r="1.85"/><circle cx="620.5" cy="143.13" r="1.85"/><circle cx="620.5" cy="151" r="1.85"/><circle cx="620.5" cy="158.87" r="1.85"/><circle cx="663.11" cy="143.13" r="1.85"/><circle cx="663.11" cy="151" r="1.85"/><circle cx="663.11" cy="158.87" r="1.85"/><circle cx="663.11" cy="166.75" r="1.85"/><circle cx="684.42" cy="131.32" r="1.85"/><circle cx="691.52" cy="135.25" r="1.85"/><circle cx="698.62" cy="139.19" r="1.85"/><circle cx="734.13" cy="206.1" r="1.85"/><circle cx="741.23" cy="210.04" r="1.85"/><circle cx="535.29" cy="143.13" r="1.85"/><circle cx="542.39" cy="139.19" r="1.85"/><circle cx="549.49" cy="135.25" r="1.85"/><circle cx="705.72" cy="95.9" r="1.85"/><circle cx="712.82" cy="99.83" r="1.85"/><circle cx="719.93" cy="103.77" r="1.85"/><circle cx="727.03" cy="107.71" r="1.85"/><circle cx="663.11" cy="237.6" r="1.85"/><circle cx="670.21" cy="241.53" r="1.85"/><circle cx="677.32" cy="245.46" r="1.85"/><circle cx="684.42" cy="249.4" r="1.85"/><circle cx="535.29" cy="166.75" r="1.85"/><circle cx="542.39" cy="170.68" r="1.85"/><circle cx="549.49" cy="174.62" r="1.85"/><circle cx="648.91" cy="174.62" r="1.85"/><circle cx="656.01" cy="170.68" r="1.85"/><circle cx="556.59" cy="186.43" r="1.85"/><circle cx="556.59" cy="194.3" r="1.85"/><circle cx="727.03" cy="186.43" r="1.85"/><circle cx="727.03" cy="194.3" r="1.85"/><circle cx="691.52" cy="245.46" r="1.85"/><circle cx="698.62" cy="241.53" r="1.85"/><circle cx="563.69" cy="245.46" r="1.85"/><circle cx="570.8" cy="241.53" r="1.85"/><circle cx="577.9" cy="237.6" r="1.85"/><circle cx="648.91" cy="103.77" r="1.85"/><circle cx="656.01" cy="99.83" r="1.85"/><circle cx="663.11" cy="221.85" r="1.85"/><circle cx="663.11" cy="229.72" r="1.85"/><circle cx="627.6" cy="99.83" r="1.85"/><circle cx="634.71" cy="103.77" r="1.85"/><circle cx="727.03" cy="115.58" r="1.85"/><circle cx="727.03" cy="123.45" r="1.85"/><circle cx="648.91" cy="135.25" r="1.85"/><circle cx="656.01" cy="139.19" r="1.85"/><circle cx="684.42" cy="115.58" r="1.85"/><circle cx="684.42" cy="123.45" r="1.85"/><circle cx="734.13" cy="135.25" r="1.85"/><circle cx="741.23" cy="139.19" r="1.85"/><circle cx="691.52" cy="103.77" r="1.85"/><circle cx="698.62" cy="99.83" r="1.85"/><circle cx="620.5" cy="237.6" r="1.85"/><circle cx="627.6" cy="241.53" r="1.85"/><circle cx="634.71" cy="245.46" r="1.85"/><circle cx="641.81" cy="249.4" r="1.85"/><circle cx="734.13" cy="174.62" r="1.85"/><circle cx="741.23" cy="170.68" r="1.85"/><circle cx="577.9" cy="221.85" r="1.85"/><circle cx="577.9" cy="229.72" r="1.85"/><circle cx="577.9" cy="151" r="1.85"/><circle cx="577.9" cy="158.87" r="1.85"/><circle cx="585" cy="241.53" r="1.85"/><circle cx="592.1" cy="245.46" r="1.85"/><circle cx="599.2" cy="249.4" r="1.85"/><circle cx="599.2" cy="186.43" r="1.85"/><circle cx="599.2" cy="194.3" r="1.85"/><circle cx="556.59" cy="115.58" r="1.85"/><circle cx="556.59" cy="123.45" r="1.85"/><circle cx="627.6" cy="139.19" r="1.85"/><circle cx="634.71" cy="135.25" r="1.85"/><circle cx="648.91" cy="245.46" r="1.85"/><circle cx="656.01" cy="241.53" r="1.85"/><circle cx="606.3" cy="135.25" r="1.85"/><circle cx="613.4" cy="139.19" r="1.85"/><circle cx="691.52" cy="206.1" r="1.85"/><circle cx="698.62" cy="210.04" r="1.85"/><circle cx="585" cy="170.68" r="1.85"/><circle cx="592.1" cy="174.62" r="1.85"/><circle cx="620.5" cy="221.85" r="1.85"/><circle cx="620.5" cy="229.72" r="1.85"/><circle cx="670.21" cy="170.68" r="1.85"/><circle cx="677.32" cy="174.62" r="1.85"/><circle cx="691.52" cy="174.62" r="1.85"/><circle cx="698.62" cy="170.68" r="1.85"/><circle cx="670.21" cy="139.19" r="1.85"/><circle cx="677.32" cy="135.25" r="1.85"/><circle cx="535.29" cy="151" r="1.85"/><circle cx="535.29" cy="158.87" r="1.85"/><circle cx="606.3" cy="245.46" r="1.85"/><circle cx="613.4" cy="241.53" r="1.85"/><circle cx="648.91" cy="206.1" r="1.85"/><circle cx="656.01" cy="210.04" r="1.85"/></g>
<path d="M648.91,103.77L648.91,127.38M542.39,210.04L563.69,198.23M585,210.04L606.3,198.23M585,139.19L606.3,127.38M712.82,139.19L712.82,162.81M712.82,139.19L734.13,127.38M585,91.96L606.3,103.77M712.82,162.81L734.13,174.62M542.39,233.66L563.69,245.46M712.82,233.66L734.13,245.46M755.43,139.19L755.43,162.81M670.21,210.04L691.52,198.23M670.21,91.96L691.52,103.77M627.6,162.81L648.91,174.62M542.39,210.04L542.39,233.66M627.6,210.04L648.91,198.23M691.52,174.62L691.52,198.23M734.13,245.46L755.43,233.66M712.82,210.04L712.82,233.66M563.69,198.23L585,210.04M606.3,198.23L627.6,210.04M606.3,103.77L606.3,127.38M712.82,210.04L734.13,198.23M606.3,103.77L627.6,91.96M648.91,174.62L648.91,198.23M606.3,174.62L627.6,162.81M563.69,103.77L585,91.96M755.43,210.04L755.43,233.66M563.69,127.38L585,139.19M563.69,174.62L585,162.81M627.6,139.19L627.6,162.81M670.21,139.19L670.21,162.81M691.52,127.38L712.82,139.19M734.13,198.23L755.43,210.04M542.39,139.19L563.69,127.38M712.82,91.96L734.13,103.77M670.21,233.66L691.52,245.46M542.39,162.81L563.69,174.62M648.91,174.62L670.21,162.81M563.69,174.62L563.69,198.23M734.13,174.62L734.13,198.23M691.52,245.46L712.82,233.66M563.69,245.46L585,233.66M648.91,103.77L670.21,91.96M670.21,210.04L670.21,233.66M627.6,91.96L648.91,103.77M734.13,103.77L734.13,127.38M648.91,127.38L670.21,139.19M691.52,103.77L691.52,127.38M734.13,127.38L755.43,139.19M691.52,103.77L712.82,91.96M627.6,233.66L648.91,245.46M734.13,174.62L755.43,162.81M585,210.04L585,233.66M585,139.19L585,162.81M585,233.66L606.3,245.46M606.3,174.62L606.3,198.23M563.69,103.77L563.69,127.38M627.6,139.19L648.91,127.38M648.91,245.46L670.21,233.66M606.3,127.38L627.6,139.19M691.52,198.23L712.82,210.04M585,162.81L606.3,174.62M627.6,210.04L627.6,233.66M670.21,162.81L691.52,174.62M691.52,174.62L712.82,162.81M670.21,139.19L691.52,127.38M542.39,139.19L542.39,162.81M606.3,245.46L627.6,233.66M648.91,198.23L670.21,210.04" stroke="#9a9a9a" stroke-width="1.1" fill="none"/>
<g fill="#e6e6e6" stroke="#6e6e6e" stroke-width="0.9"><circle cx="648.91" cy="103.77" r="1.75"/><circle cx="648.91" cy="111.64" r="1.75"/><circle cx="648.91" cy="119.51" r="1.75"/><circle cx="648.91" cy="127.38" r="1.75"/><circle cx="542.39" cy="210.04" r="1.75"/><circle cx="549.49" cy="206.1" r="1.75"/><circle cx="556.59" cy="202.17" r="1.75"/><circle cx="563.69" cy="198.23" r="1.75"/><circle cx="585" cy="210.04" r="1.75"/><circle cx="592.1" cy="206.1" r="1.75"/><circle cx="599.2" cy="202.17" r="1.75"/><circle cx="606.3" cy="198.23" r="1.75"/><circle cx="585" cy="139.19" r="1.75"/><circle cx="592.1" cy="135.25" r="1.75"/><circle cx="599.2" cy="131.32" r="1.75"/><circle cx="606.3" cy="127.38" r="1.75"/><circle cx="712.82" cy="139.19" r="1.75"/><circle cx="712.82" cy="147.06" r="1.75"/><circle cx="712.82" cy="154.94" r="1.75"/><circle cx="712.82" cy="162.81" r="1.75"/><circle cx="719.92" cy="135.25" r="1.75"/><circle cx="727.03" cy="131.32" r="1.75"/><circle cx="734.13" cy="127.38" r="1.75"/><circle cx="585" cy="91.96" r="1.75"/><circle cx="592.1" cy="95.9" r="1.75"/><circle cx="599.2" cy="99.83" r="1.75"/><circle cx="606.3" cy="103.77" r="1.75"/><circle cx="719.92" cy="166.75" r="1.75"/><circle cx="727.03" cy="170.68" r="1.75"/><circle cx="734.13" cy="174.62" r="1.75"/><circle cx="542.39" cy="233.66" r="1.75"/><circle cx="549.49" cy="237.59" r="1.75"/><circle cx="556.59" cy="241.53" r="1.75"/><circle cx="563.69" cy="245.46" r="1.75"/><circle cx="712.82" cy="233.66" r="1.75"/><circle cx="719.92" cy="237.59" r="1.75"/><circle cx="727.03" cy="241.53" r="1.75"/><circle cx="734.13" cy="245.46" r="1.75"/><circle cx="755.43" cy="139.19" r="1.75"/><circle cx="755.43" cy="147.06" r="1.75"/><circle cx="755.43" cy="154.94" r="1.75"/><circle cx="755.43" cy="162.81" r="1.75"/><circle cx="670.21" cy="210.04" r="1.75"/><circle cx="677.31" cy="206.1" r="1.75"/><circle cx="684.42" cy="202.17" r="1.75"/><circle cx="691.52" cy="198.23" r="1.75"/><circle cx="670.21" cy="91.96" r="1.75"/><circle cx="677.31" cy="95.9" r="1.75"/><circle cx="684.42" cy="99.83" r="1.75"/><circle cx="691.52" cy="103.77" r="1.75"/><circle cx="627.6" cy="162.81" r="1.75"/><circle cx="634.7" cy="166.75" r="1.75"/><circle cx="641.81" cy="170.68" r="1.75"/><circle cx="648.91" cy="174.62" r="1.75"/><circle cx="542.39" cy="217.91" r="1.75"/><circle cx="542.39" cy="225.79" r="1.75"/><circle cx="627.6" cy="210.04" r="1.75"/><circle cx="634.7" cy="206.1" r="1.75"/><circle cx="641.81" cy="202.17" r="1.75"/><circle cx="648.91" cy="198.23" r="1.75"/><circle cx="691.52" cy="174.62" r="1.75"/><circle cx="691.52" cy="182.49" r="1.75"/><circle cx="691.52" cy="190.36" r="1.75"/><circle cx="741.23" cy="241.53" r="1.75"/><circle cx="748.33" cy="237.59" r="1.75"/><circle cx="755.43" cy="233.66" r="1.75"/><circle cx="712.82" cy="210.04" r="1.75"/><circle cx="712.82" cy="217.91" r="1.75"/><circle cx="712.82" cy="225.79" r="1.75"/><circle cx="570.79" cy="202.17" r="1.75"/><circle cx="577.9" cy="206.1" r="1.75"/><circle cx="613.4" cy="202.17" r="1.75"/><circle cx="620.5" cy="206.1" r="1.75"/><circle cx="606.3" cy="111.64" r="1.75"/><circle cx="606.3" cy="119.51" r="1.75"/><circle cx="719.92" cy="206.1" r="1.75"/><circle cx="727.03" cy="202.17" r="1.75"/><circle cx="734.13" cy="198.23" r="1.75"/><circle cx="613.4" cy="99.83" r="1.75"/><circle cx="620.5" cy="95.9" r="1.75"/><circle cx="627.6" cy="91.96" r="1.75"/><circle cx="648.91" cy="182.49" r="1.75"/><circle cx="648.91" cy="190.36" r="1.75"/><circle cx="606.3" cy="174.62" r="1.75"/><circle cx="613.4" cy="170.68" r="1.75"/><circle cx="620.5" cy="166.75" r="1.75"/><circle cx="563.69" cy="103.77" r="1.75"/><circle cx="570.79" cy="99.83" r="1.75"/><circle cx="577.9" cy="95.9" r="1.75"/><circle cx="755.43" cy="210.04" r="1.75"/><circle cx="755.43" cy="217.91" r="1.75"/><circle cx="755.43" cy="225.79" r="1.75"/><circle cx="563.69" cy="127.38" r="1.75"/><circle cx="570.79" cy="131.32" r="1.75"/><circle cx="577.9" cy="135.25" r="1.75"/><circle cx="563.69" cy="174.62" r="1.75"/><circle cx="570.79" cy="170.68" r="1.75"/><circle cx="577.9" cy="166.75" r="1.75"/><circle cx="585" cy="162.81" r="1.75"/><circle cx="627.6" cy="139.19" r="1.75"/><circle cx="627.6" cy="147.06" r="1.75"/><circle cx="627.6" cy="154.94" r="1.75"/><circle cx="670.21" cy="139.19" r="1.75"/><circle cx="670.21" cy="147.06" r="1.75"/><circle cx="670.21" cy="154.94" r="1.75"/><circle cx="670.21" cy="162.81" r="1.75"/><circle cx="691.52" cy="127.38" r="1.75"/><circle cx="698.62" cy="131.32" r="1.75"/><circle cx="705.72" cy="135.25" r="1.75"/><circle cx="741.23" cy="202.17" r="1.75"/><circle cx="748.33" cy="206.1" r="1.75"/><circle cx="542.39" cy="139.19" r="1.75"/><circle cx="549.49" cy="135.25" r="1.75"/><circle cx="556.59" cy="131.32" r="1.75"/><circle cx="712.82" cy="91.96" r="1.75"/><circle cx="719.92" cy="95.9" r="1.75"/><circle cx="727.03" cy="99.83" r="1.75"/><circle cx="734.13" cy="103.77" r="1.75"/><circle cx="670.21" cy="233.66" r="1.75"/><circle cx="677.31" cy="237.59" r="1.75"/><circle cx="684.42" cy="241.53" r="1.75"/><circle cx="691.52" cy="245.46" r="1.75"/><circle cx="542.39" cy="162.81" r="1.75"/><circle cx="549.49" cy="166.75" r="1.75"/><circle cx="556.59" cy="170.68" r="1.75"/><circle cx="656.01" cy="170.68" r="1.75"/><circle cx="663.11" cy="166.75" r="1.75"/><circle cx="563.69" cy="182.49" r="1.75"/><circle cx="563.69" cy="190.36" r="1.75"/><circle cx="734.13" cy="182.49" r="1.75"/><circle cx="734.13" cy="190.36" r="1.75"/><circle cx="698.62" cy="241.53" r="1.75"/><circle cx="705.72" cy="237.59" r="1.75"/><circle cx="570.79" cy="241.53" r="1.75"/><circle cx="577.9" cy="237.59" r="1.75"/><circle cx="585" cy="233.66" r="1.75"/><circle cx="656.01" cy="99.83" r="1.75"/><circle cx="663.11" cy="95.9" r="1.75"/><circle cx="670.21" cy="217.91" r="1.75"/><circle cx="670.21" cy="225.79" r="1.75"/><circle cx="634.7" cy="95.9" r="1.75"/><circle cx="641.81" cy="99.83" r="1.75"/><circle cx="734.13" cy="111.64" r="1.75"/><circle cx="734.13" cy="119.51" r="1.75"/><circle cx="656.01" cy="131.32" r="1.75"/><circle cx="663.11" cy="135.25" r="1.75"/><circle cx="691.52" cy="111.64" r="1.75"/><circle cx="691.52" cy="119.51" r="1.75"/><circle cx="741.23" cy="131.32" r="1.75"/><circle cx="748.33" cy="135.25" r="1.75"/><circle cx="698.62" cy="99.83" r="1.75"/><circle cx="705.72" cy="95.9" r="1.75"/><circle cx="627.6" cy="233.66" r="1.75"/><circle cx="634.7" cy="237.59" r="1.75"/><circle cx="641.81" cy="241.53" r="1.75"/><circle cx="648.91" cy="245.46" r="1.75"/><circle cx="741.23" cy="170.68" r="1.75"/><circle cx="748.33" cy="166.75" r="1.75"/><circle cx="585" cy="217.91" r="1.75"/><circle cx="585" cy="225.79" r="1.75"/><circle cx="585" cy="147.06" r="1.75"/><circle cx="585" cy="154.94" r="1.75"/><circle cx="592.1" cy="237.59" r="1.75"/><circle cx="599.2" cy="241.53" r="1.75"/><circle cx="606.3" cy="245.46" r="1.75"/><circle cx="606.3" cy="182.49" r="1.75"/><circle cx="606.3" cy="190.36" r="1.75"/><circle cx="563.69" cy="111.64" r="1.75"/><circle cx="563.69" cy="119.51" r="1.75"/><circle cx="634.7" cy="135.25" r="1.75"/><circle cx="641.81" cy="131.32" r="1.75"/><circle cx="656.01" cy="241.53" r="1.75"/><circle cx="663.11" cy="237.59" r="1.75"/><circle cx="613.4" cy="131.32" r="1.75"/><circle cx="620.5" cy="135.25" r="1.75"/><circle cx="698.62" cy="202.17" r="1.75"/><circle cx="705.72" cy="206.1" r="1.75"/><circle cx="592.1" cy="166.75" r="1.75"/><circle cx="599.2" cy="170.68" r="1.75"/><circle cx="627.6" cy="217.91" r="1.75"/><circle cx="627.6" cy="225.79" r="1.75"/><circle cx="677.31" cy="166.75" r="1.75"/><circle cx="684.42" cy="170.68" r="1.75"/><circle cx="698.62" cy="170.68" r="1.75"/><circle cx="705.72" cy="166.75" r="1.75"/><circle cx="677.31" cy="135.25" r="1.75"/><circle cx="684.42" cy="131.32" r="1.75"/><circle cx="542.39" cy="147.06" r="1.75"/><circle cx="542.39" cy="154.94" r="1.75"/><circle cx="613.4" cy="241.53" r="1.75"/><circle cx="620.5" cy="237.59" r="1.75"/><circle cx="656.01" cy="202.17" r="1.75"/><circle cx="663.11" cy="206.1" r="1.75"/></g>
</g>
<path d="M580.6,214.8H718.0V120.5" stroke="#888" stroke-width="1.3" fill="none"/>
<path d="M718.0,120.5H580.6V214.8" stroke="#3a3a3a" stroke-width="1.3" fill="none"/>
</svg></body></html>
